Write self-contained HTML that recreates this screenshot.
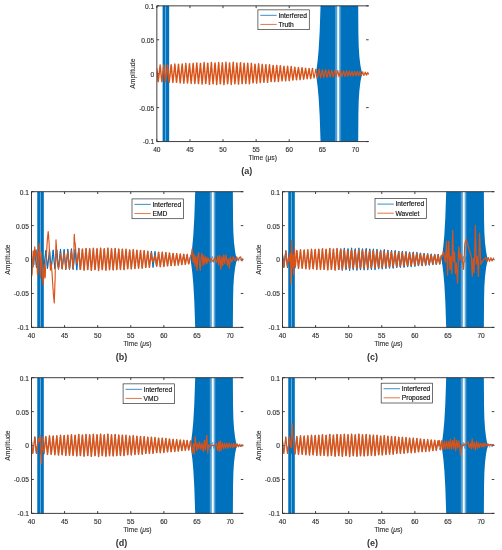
<!DOCTYPE html>
<html lang="en"><head><meta charset="utf-8"><title>Figure</title>
<style>html,body{margin:0;padding:0;background:#fff;}body{width:502px;height:550px;overflow:hidden;}svg{display:block;}text{font-family:"Liberation Sans",sans-serif;fill:#333333;}.tk{font-size:6.6px;stroke:#333;stroke-width:0.15px;}.lb{font-size:6.8px;stroke:#333;stroke-width:0.12px;}.lg{font-size:6.7px;fill:#111;stroke:#111;stroke-width:0.15px;}.cap{font-size:9px;font-weight:bold;fill:#333;}</style></head><body>
<svg width="502" height="550" viewBox="0 0 502 550">
<defs>
<clipPath id="cp"><rect x="0" y="0" width="211.8" height="135.7"/></clipPath>
<polyline id="truth" fill="none" stroke-linejoin="round" points="0.0,62.9 0.1,64.3 0.3,65.7 0.4,67.0 0.5,68.4 0.7,69.7 0.8,71.0 0.9,72.3 1.1,73.6 1.2,74.9 1.3,75.8 1.5,74.7 1.6,73.7 1.7,72.6 1.9,71.6 2.0,70.5 2.1,69.4 2.3,68.4 2.4,67.3 2.5,66.1 2.6,65.0 2.8,63.8 2.9,62.7 3.0,61.6 3.2,60.4 3.3,59.2 3.4,60.3 3.6,61.7 3.7,63.1 3.8,64.5 4.0,65.9 4.1,67.3 4.2,68.7 4.4,70.0 4.5,71.4 4.6,72.7 4.8,74.0 4.9,75.4 5.0,75.8 5.2,74.7 5.3,73.6 5.4,72.5 5.6,71.4 5.7,70.3 5.8,69.2 6.0,68.1 6.1,67.0 6.2,65.8 6.4,64.6 6.5,63.4 6.6,62.3 6.8,61.1 6.9,59.9 7.0,59.1 7.1,60.5 7.3,61.9 7.4,63.4 7.5,64.8 7.7,66.2 7.8,67.7 7.9,69.1 8.1,70.4 8.2,71.8 8.3,73.2 8.5,74.5 8.6,75.9 8.7,75.7 8.9,74.6 9.0,73.5 9.1,72.3 9.3,71.2 9.4,70.1 9.5,69.0 9.7,67.8 9.8,66.6 9.9,65.4 10.1,64.2 10.2,63.0 10.3,61.8 10.5,60.6 10.6,59.4 10.7,59.2 10.9,60.7 11.0,62.1 11.1,63.6 11.3,65.1 11.4,66.6 11.5,68.1 11.6,69.5 11.8,70.9 11.9,72.3 12.0,73.7 12.2,75.1 12.3,76.5 12.4,75.6 12.6,74.5 12.7,73.3 12.8,72.1 13.0,71.0 13.1,69.8 13.2,68.7 13.4,67.5 13.5,66.3 13.6,65.0 13.8,63.8 13.9,62.5 14.0,61.3 14.2,60.0 14.3,58.8 14.4,59.4 14.6,60.9 14.7,62.4 14.8,63.9 15.0,65.5 15.1,67.0 15.2,68.5 15.4,69.9 15.5,71.4 15.6,72.8 15.8,74.3 15.9,75.7 16.0,76.7 16.1,75.5 16.3,74.3 16.4,73.1 16.5,71.9 16.7,70.7 16.8,69.5 16.9,68.3 17.1,67.1 17.2,65.8 17.3,64.6 17.5,63.3 17.6,62.0 17.7,60.7 17.9,59.4 18.0,58.1 18.1,59.6 18.3,61.2 18.4,62.7 18.5,64.3 18.7,65.9 18.8,67.4 18.9,68.9 19.1,70.4 19.2,71.9 19.3,73.4 19.5,74.9 19.6,76.4 19.7,76.5 19.9,75.3 20.0,74.1 20.1,72.9 20.3,71.7 20.4,70.4 20.5,69.2 20.7,68.0 20.8,66.7 20.9,65.4 21.0,64.1 21.2,62.7 21.3,61.4 21.4,60.1 21.6,58.8 21.7,58.3 21.8,59.9 22.0,61.5 22.1,63.1 22.2,64.7 22.4,66.3 22.5,67.9 22.6,69.5 22.8,71.0 22.9,72.5 23.0,74.0 23.2,75.6 23.3,77.1 23.4,76.3 23.6,75.1 23.7,73.9 23.8,72.6 24.0,71.3 24.1,70.1 24.2,68.8 24.4,67.6 24.5,66.2 24.6,64.9 24.8,63.5 24.9,62.2 25.0,60.8 25.2,59.5 25.3,58.1 25.4,58.6 25.5,60.2 25.7,61.9 25.8,63.5 25.9,65.2 26.1,66.8 26.2,68.5 26.3,70.0 26.5,71.6 26.6,73.2 26.7,74.7 26.9,76.3 27.0,77.4 27.1,76.1 27.3,74.8 27.4,73.6 27.5,72.3 27.7,71.0 27.8,69.7 27.9,68.4 28.1,67.1 28.2,65.7 28.3,64.3 28.5,63.0 28.6,61.6 28.7,60.2 28.9,58.8 29.0,57.5 29.1,59.0 29.3,60.7 29.4,62.4 29.5,64.1 29.7,65.7 29.8,67.4 29.9,69.0 30.0,70.6 30.2,72.2 30.3,73.8 30.4,75.4 30.6,77.0 30.7,77.1 30.8,75.8 31.0,74.5 31.1,73.2 31.2,71.9 31.4,70.6 31.5,69.3 31.6,67.9 31.8,66.6 31.9,65.2 32.0,63.8 32.2,62.4 32.3,61.0 32.4,59.6 32.6,58.2 32.7,57.8 32.8,59.5 33.0,61.2 33.1,62.9 33.2,64.6 33.4,66.3 33.5,68.0 33.6,69.6 33.8,71.3 33.9,72.9 34.0,74.5 34.2,76.1 34.3,77.7 34.4,76.7 34.5,75.4 34.7,74.1 34.8,72.8 34.9,71.4 35.1,70.1 35.2,68.8 35.3,67.4 35.5,66.0 35.6,64.6 35.7,63.2 35.9,61.8 36.0,60.3 36.1,58.9 36.3,57.5 36.4,58.3 36.5,60.0 36.7,61.8 36.8,63.5 36.9,65.2 37.1,67.0 37.2,68.7 37.3,70.3 37.5,71.9 37.6,73.6 37.7,75.2 37.9,76.9 38.0,77.7 38.1,76.3 38.3,75.0 38.4,73.6 38.5,72.3 38.7,71.0 38.8,69.6 38.9,68.3 39.1,66.8 39.2,65.4 39.3,64.0 39.4,62.5 39.6,61.1 39.7,59.7 39.8,58.2 40.0,57.1 40.1,58.9 40.2,60.6 40.4,62.4 40.5,64.2 40.6,65.9 40.8,67.7 40.9,69.3 41.0,71.0 41.2,72.7 41.3,74.3 41.4,76.0 41.6,77.7 41.7,77.2 41.8,75.9 42.0,74.5 42.1,73.2 42.2,71.8 42.4,70.4 42.5,69.1 42.6,67.7 42.8,66.2 42.9,64.8 43.0,63.3 43.2,61.9 43.3,60.4 43.4,58.9 43.6,57.5 43.7,57.7 43.8,59.5 43.9,61.3 44.1,63.1 44.2,64.8 44.3,66.6 44.5,68.4 44.6,70.1 44.7,71.8 44.9,73.5 45.0,75.1 45.1,76.8 45.3,78.2 45.4,76.8 45.5,75.4 45.7,74.0 45.8,72.7 45.9,71.3 46.1,69.9 46.2,68.5 46.3,67.1 46.5,65.6 46.6,64.1 46.7,62.6 46.9,61.1 47.0,59.7 47.1,58.2 47.3,56.7 47.4,58.4 47.5,60.2 47.7,62.0 47.8,63.8 47.9,65.6 48.1,67.4 48.2,69.1 48.3,70.8 48.4,72.6 48.6,74.3 48.7,76.0 48.8,77.7 49.0,77.7 49.1,76.3 49.2,74.9 49.4,73.5 49.5,72.1 49.6,70.7 49.8,69.3 49.9,67.9 50.0,66.4 50.2,64.9 50.3,63.4 50.4,61.9 50.6,60.4 50.7,58.9 50.8,57.5 51.0,57.3 51.1,59.1 51.2,60.9 51.4,62.8 51.5,64.6 51.6,66.4 51.8,68.2 51.9,69.9 52.0,71.6 52.2,73.4 52.3,75.1 52.4,76.8 52.6,78.5 52.7,77.1 52.8,75.7 53.0,74.3 53.1,72.9 53.2,71.5 53.3,70.0 53.5,68.6 53.6,67.2 53.7,65.7 53.9,64.2 54.0,62.7 54.1,61.2 54.3,59.7 54.4,58.2 54.5,56.7 54.7,58.1 54.8,59.9 54.9,61.8 55.1,63.6 55.2,65.4 55.3,67.3 55.5,69.0 55.6,70.8 55.7,72.5 55.9,74.2 56.0,76.0 56.1,77.7 56.3,77.9 56.4,76.5 56.5,75.1 56.7,73.6 56.8,72.2 56.9,70.8 57.1,69.4 57.2,68.0 57.3,66.5 57.5,65.0 57.6,63.4 57.7,61.9 57.8,60.4 58.0,58.9 58.1,57.4 58.2,57.1 58.4,58.9 58.5,60.8 58.6,62.6 58.8,64.5 58.9,66.3 59.0,68.1 59.2,69.9 59.3,71.6 59.4,73.4 59.6,75.1 59.7,76.9 59.8,78.6 60.0,77.3 60.1,75.8 60.2,74.4 60.4,73.0 60.5,71.5 60.6,70.1 60.8,68.7 60.9,67.2 61.0,65.7 61.2,64.2 61.3,62.7 61.4,61.1 61.6,59.6 61.7,58.1 61.8,56.6 62.0,57.9 62.1,59.8 62.2,61.6 62.3,63.5 62.5,65.4 62.6,67.2 62.7,69.0 62.9,70.8 63.0,72.5 63.1,74.3 63.3,76.1 63.4,77.8 63.5,78.0 63.7,76.6 63.8,75.2 63.9,73.7 64.1,72.3 64.2,70.8 64.3,69.4 64.5,68.0 64.6,66.4 64.7,64.9 64.9,63.4 65.0,61.8 65.1,60.3 65.3,58.8 65.4,57.2 65.5,57.0 65.7,58.8 65.8,60.7 65.9,62.6 66.1,64.5 66.2,66.3 66.3,68.2 66.5,70.0 66.6,71.7 66.7,73.5 66.8,75.3 67.0,77.0 67.1,78.8 67.2,77.3 67.4,75.9 67.5,74.4 67.6,73.0 67.8,71.5 67.9,70.1 68.0,68.6 68.2,67.2 68.3,65.6 68.4,64.1 68.6,62.6 68.7,61.0 68.8,59.5 69.0,58.0 69.1,56.4 69.2,58.0 69.4,59.8 69.5,61.7 69.6,63.6 69.8,65.5 69.9,67.3 70.0,69.1 70.2,70.9 70.3,72.6 70.4,74.4 70.6,76.2 70.7,77.9 70.8,77.9 71.0,76.5 71.1,75.1 71.2,73.6 71.4,72.2 71.5,70.7 71.6,69.3 71.7,67.9 71.9,66.3 72.0,64.8 72.1,63.3 72.3,61.8 72.4,60.2 72.5,58.7 72.7,57.2 72.8,57.1 72.9,59.0 73.1,60.9 73.2,62.7 73.3,64.6 73.5,66.5 73.6,68.3 73.7,70.1 73.9,71.8 74.0,73.6 74.1,75.3 74.3,77.1 74.4,78.6 74.5,77.1 74.7,75.7 74.8,74.3 74.9,72.8 75.1,71.4 75.2,70.0 75.3,68.5 75.5,67.0 75.6,65.5 75.7,64.0 75.9,62.5 76.0,60.9 76.1,59.4 76.2,57.9 76.4,56.4 76.5,58.2 76.6,60.1 76.8,61.9 76.9,63.8 77.0,65.6 77.2,67.5 77.3,69.3 77.4,71.0 77.6,72.8 77.7,74.5 77.8,76.3 78.0,78.0 78.1,77.7 78.2,76.3 78.4,74.9 78.5,73.5 78.6,72.0 78.8,70.6 78.9,69.2 79.0,67.7 79.2,66.2 79.3,64.7 79.4,63.2 79.6,61.6 79.7,60.1 79.8,58.6 80.0,57.1 80.1,57.4 80.2,59.3 80.4,61.1 80.5,63.0 80.6,64.8 80.7,66.7 80.9,68.5 81.0,70.2 81.1,72.0 81.3,73.7 81.4,75.4 81.5,77.1 81.7,78.3 81.8,76.8 81.9,75.4 82.1,74.0 82.2,72.6 82.3,71.2 82.5,69.8 82.6,68.3 82.7,66.9 82.9,65.4 83.0,63.9 83.1,62.4 83.3,60.9 83.4,59.4 83.5,57.9 83.7,56.8 83.8,58.6 83.9,60.5 84.1,62.3 84.2,64.1 84.3,65.9 84.5,67.7 84.6,69.4 84.7,71.1 84.9,72.8 85.0,74.5 85.1,76.2 85.2,77.9 85.4,77.3 85.5,75.9 85.6,74.5 85.8,73.1 85.9,71.7 86.0,70.3 86.2,68.9 86.3,67.5 86.4,66.1 86.6,64.6 86.7,63.1 86.8,61.7 87.0,60.2 87.1,58.7 87.2,57.3 87.4,58.0 87.5,59.8 87.6,61.6 87.8,63.4 87.9,65.2 88.0,67.0 88.2,68.7 88.3,70.4 88.4,72.0 88.6,73.7 88.7,75.4 88.8,77.1 89.0,77.7 89.1,76.3 89.2,75.0 89.4,73.6 89.5,72.2 89.6,70.9 89.8,69.5 89.9,68.1 90.0,66.7 90.1,65.3 90.3,63.8 90.4,62.4 90.5,60.9 90.7,59.5 90.8,58.1 90.9,57.4 91.1,59.2 91.2,61.0 91.3,62.7 91.5,64.5 91.6,66.2 91.7,68.0 91.9,69.6 92.0,71.3 92.1,72.9 92.3,74.6 92.4,76.2 92.5,77.9 92.7,76.8 92.8,75.4 92.9,74.0 93.1,72.7 93.2,71.4 93.3,70.0 93.5,68.7 93.6,67.3 93.7,65.9 93.9,64.5 94.0,63.1 94.1,61.7 94.3,60.3 94.4,58.9 94.5,57.5 94.6,58.7 94.8,60.4 94.9,62.1 95.0,63.9 95.2,65.6 95.3,67.3 95.4,68.9 95.6,70.5 95.7,72.1 95.8,73.8 96.0,75.3 96.1,76.9 96.2,77.1 96.4,75.7 96.5,74.4 96.6,73.1 96.8,71.8 96.9,70.5 97.0,69.2 97.2,67.9 97.3,66.5 97.4,65.1 97.6,63.8 97.7,62.4 97.8,61.0 98.0,59.7 98.1,58.3 98.2,58.3 98.4,59.9 98.5,61.6 98.6,63.3 98.8,65.0 98.9,66.6 99.0,68.3 99.1,69.8 99.3,71.4 99.4,73.0 99.5,74.5 99.7,76.1 99.8,77.3 99.9,76.0 100.1,74.7 100.2,73.5 100.3,72.2 100.5,70.9 100.6,69.7 100.7,68.4 100.9,67.1 101.0,65.7 101.1,64.4 101.3,63.1 101.4,61.7 101.5,60.4 101.7,59.1 101.8,57.9 101.9,59.5 102.1,61.2 102.2,62.8 102.3,64.4 102.5,66.0 102.6,67.7 102.7,69.2 102.9,70.7 103.0,72.2 103.1,73.7 103.3,75.3 103.4,76.8 103.5,76.3 103.6,75.0 103.8,73.8 103.9,72.6 104.0,71.3 104.2,70.1 104.3,68.9 104.4,67.6 104.6,66.3 104.7,65.0 104.8,63.7 105.0,62.4 105.1,61.1 105.2,59.8 105.4,58.5 105.5,59.1 105.6,60.7 105.8,62.3 105.9,63.9 106.0,65.5 106.2,67.1 106.3,68.6 106.4,70.1 106.6,71.5 106.7,73.0 106.8,74.5 107.0,75.9 107.1,76.5 107.2,75.3 107.4,74.1 107.5,72.9 107.6,71.7 107.8,70.5 107.9,69.3 108.0,68.1 108.2,66.8 108.3,65.6 108.4,64.3 108.5,63.1 108.7,61.8 108.8,60.6 108.9,59.3 109.1,58.8 109.2,60.4 109.3,61.9 109.5,63.5 109.6,65.0 109.7,66.5 109.9,68.0 110.0,69.4 110.1,70.9 110.3,72.3 110.4,73.7 110.5,75.1 110.7,76.5 110.8,75.5 110.9,74.3 111.1,73.1 111.2,72.0 111.3,70.8 111.5,69.7 111.6,68.5 111.7,67.3 111.9,66.1 112.0,64.9 112.1,63.7 112.3,62.5 112.4,61.3 112.5,60.1 112.7,58.9 112.8,60.1 112.9,61.6 113.0,63.1 113.2,64.5 113.3,66.0 113.4,67.5 113.6,68.9 113.7,70.3 113.8,71.6 114.0,73.0 114.1,74.4 114.2,75.7 114.4,75.6 114.5,74.5 114.6,73.4 114.8,72.2 114.9,71.1 115.0,70.0 115.2,68.9 115.3,67.8 115.4,66.6 115.6,65.4 115.7,64.2 115.8,63.1 116.0,61.9 116.1,60.8 116.2,59.6 116.4,59.8 116.5,61.3 116.6,62.7 116.8,64.1 116.9,65.6 117.0,67.0 117.2,68.4 117.3,69.7 117.4,71.0 117.5,72.3 117.7,73.7 117.8,75.0 117.9,75.7 118.1,74.6 118.2,73.6 118.3,72.5 118.5,71.4 118.6,70.3 118.7,69.2 118.9,68.2 119.0,67.0 119.1,65.9 119.3,64.8 119.4,63.7 119.5,62.5 119.7,61.4 119.8,60.3 119.9,59.6 120.1,61.0 120.2,62.4 120.3,63.8 120.5,65.2 120.6,66.5 120.7,67.9 120.9,69.2 121.0,70.5 121.1,71.7 121.3,73.0 121.4,74.3 121.5,75.6 121.7,74.8 121.8,73.7 121.9,72.7 122.0,71.6 122.2,70.6 122.3,69.6 122.4,68.5 122.6,67.5 122.7,66.4 122.8,65.3 123.0,64.2 123.1,63.1 123.2,62.0 123.4,60.9 123.5,59.8 123.6,60.8 123.8,62.1 123.9,63.5 124.0,64.8 124.2,66.1 124.3,67.4 124.4,68.7 124.6,70.0 124.7,71.2 124.8,72.4 125.0,73.7 125.1,74.9 125.2,74.9 125.4,73.9 125.5,72.9 125.6,71.9 125.8,70.9 125.9,69.8 126.0,68.8 126.2,67.8 126.3,66.8 126.4,65.7 126.6,64.6 126.7,63.6 126.8,62.5 126.9,61.5 127.1,60.4 127.2,60.6 127.3,61.9 127.5,63.2 127.6,64.4 127.7,65.7 127.9,67.0 128.0,68.3 128.1,69.5 128.3,70.7 128.4,71.9 128.5,73.1 128.7,74.3 128.8,75.0 128.9,74.0 129.1,73.0 129.2,72.1 129.3,71.1 129.5,70.1 129.6,69.1 129.7,68.2 129.9,67.1 130.0,66.1 130.1,65.1 130.3,64.1 130.4,63.1 130.5,62.0 130.7,61.0 130.8,60.4 130.9,61.7 131.1,62.9 131.2,64.2 131.3,65.4 131.4,66.6 131.6,67.9 131.7,69.0 131.8,70.2 132.0,71.4 132.1,72.5 132.2,73.7 132.4,74.8 132.5,74.1 132.6,73.2 132.8,72.2 132.9,71.3 133.0,70.3 133.2,69.4 133.3,68.4 133.4,67.5 133.6,66.5 133.7,65.5 133.8,64.5 134.0,63.6 134.1,62.6 134.2,61.6 134.4,60.7 134.5,61.5 134.6,62.7 134.8,63.9 134.9,65.1 135.0,66.3 135.2,67.5 135.3,68.6 135.4,69.8 135.6,70.9 135.7,72.0 135.8,73.0 135.9,74.1 136.1,74.1 136.2,73.2 136.3,72.3 136.5,71.4 136.6,70.5 136.7,69.6 136.9,68.7 137.0,67.8 137.1,66.8 137.3,65.9 137.4,65.0 137.5,64.0 137.7,63.1 137.8,62.2 137.9,61.3 138.1,61.6 138.2,62.7 138.3,63.8 138.5,65.0 138.6,66.1 138.7,67.2 138.9,68.3 139.0,69.4 139.1,70.4 139.3,71.5 139.4,72.5 139.5,73.5 139.7,74.0 139.8,73.1 139.9,72.2 140.1,71.4 140.2,70.5 140.3,69.7 140.4,68.8 140.6,68.0 140.7,67.1 140.8,66.2 141.0,65.4 141.1,64.5 141.2,63.6 141.4,62.7 141.5,61.9 141.6,61.7 141.8,62.7 141.9,63.8 142.0,64.9 142.2,66.0 142.3,67.0 142.4,68.1 142.6,69.1 142.7,70.0 142.8,71.0 143.0,72.0 143.1,73.0 143.2,73.8 143.4,72.9 143.5,72.1 143.6,71.3 143.8,70.5 143.9,69.7 144.0,68.9 144.2,68.2 144.3,67.3 144.4,66.5 144.6,65.7 144.7,64.9 144.8,64.0 145.0,63.2 145.1,62.4 145.2,61.9 145.3,62.9 145.5,63.9 145.6,64.9 145.7,65.9 145.9,66.9 146.0,67.9 146.1,68.8 146.3,69.7 146.4,70.7 146.5,71.6 146.7,72.5 146.8,73.4 146.9,72.7 147.1,72.0 147.2,71.2 147.3,70.4 147.5,69.7 147.6,68.9 147.7,68.2 147.9,67.4 148.0,66.6 148.1,65.8 148.3,65.1 148.4,64.3 148.5,63.5 148.7,62.7 148.8,62.3 148.9,63.3 149.1,64.2 149.2,65.2 149.3,66.2 149.5,67.1 149.6,68.0 149.7,68.9 149.8,69.8 150.0,70.7 150.1,71.6 150.2,72.5 150.4,72.9 150.5,72.2 150.6,71.4 150.8,70.7 150.9,70.0 151.0,69.3 151.2,68.5 151.3,67.8 151.4,67.1 151.6,66.3 151.7,65.6 151.8,64.8 152.0,64.1 152.1,63.3 152.2,62.6 152.4,63.2 152.5,64.2 152.6,65.1 152.8,66.0 152.9,66.9 153.0,67.8 153.2,68.7 153.3,69.5 153.4,70.4 153.6,71.2 153.7,72.1 153.8,72.7 154.0,72.0 154.1,71.3 154.2,70.6 154.3,69.9 154.5,69.2 154.6,68.5 154.7,67.8 154.9,67.1 155.0,66.3 155.1,65.6 155.3,64.9 155.4,64.2 155.5,63.4 155.7,62.7 155.8,63.6 155.9,64.5 156.1,65.4 156.2,66.3 156.3,67.2 156.5,68.1 156.6,68.9 156.7,69.7 156.9,70.6 157.0,71.4 157.1,72.2 157.3,72.2 157.4,71.5 157.5,70.8 157.7,70.1 157.8,69.5 157.9,68.8 158.1,68.1 158.2,67.4 158.3,66.7 158.5,66.0 158.6,65.3 158.7,64.6 158.9,63.9 159.0,63.2 159.1,63.6 159.2,64.4 159.4,65.3 159.5,66.2 159.6,67.0 159.8,67.9 159.9,68.7 160.0,69.5 160.2,70.3 160.3,71.1 160.4,71.9 160.6,72.1 160.7,71.4 160.8,70.7 161.0,70.1 161.1,69.4 161.2,68.8 161.4,68.1 161.5,67.4 161.6,66.7 161.8,66.0 161.9,65.3 162.0,64.7 162.2,64.0 162.3,63.3 162.4,63.9 162.6,64.7 162.7,65.6 162.8,66.4 163.0,67.3 163.1,68.1 163.2,68.9 163.4,69.7 163.5,70.5 163.6,71.2 163.7,72.0 163.9,71.6 164.0,71.0 164.1,70.3 164.3,69.7 164.4,69.1 164.5,68.4 164.7,67.8 164.8,67.1 164.9,66.4 165.1,65.7 165.2,65.1 165.3,64.4 165.5,63.7 165.6,63.8 165.7,64.6 165.9,65.4 166.0,66.2 166.1,67.1 166.3,67.9 166.4,68.6 166.5,69.4 166.7,70.2 166.8,70.9 166.9,71.7 167.1,71.6 167.2,70.9 167.3,70.3 167.5,69.7 167.6,69.1 167.7,68.4 167.9,67.8 168.0,67.2 168.1,66.5 168.2,65.9 168.4,65.2 168.5,64.6 168.6,63.9 168.8,64.0 168.9,64.8 169.0,65.6 169.2,66.4 169.3,67.2 169.4,68.0 169.6,68.7 169.7,69.4 169.8,70.2 170.0,70.9 170.1,71.6 170.2,71.2 170.4,70.6 170.5,70.0 170.6,69.4 170.8,68.8 170.9,68.2 171.0,67.6 171.2,67.0 171.3,66.4 171.4,65.7 171.6,65.1 171.7,64.5 171.8,63.9 172.0,64.6 172.1,65.3 172.2,66.1 172.4,66.9 172.5,67.6 172.6,68.3 172.7,69.1 172.9,69.8 173.0,70.5 173.1,71.2 173.3,71.2 173.4,70.7 173.5,70.1 173.7,69.5 173.8,68.9 173.9,68.4 174.1,67.8 174.2,67.2 174.3,66.6 174.5,66.0 174.6,65.4 174.7,64.8 174.9,64.2 175.0,64.6 175.1,65.4 175.3,66.1 175.4,66.8 175.5,67.6 175.7,68.3 175.8,69.0 175.9,69.6 176.1,70.3 176.2,71.0 176.3,71.1 176.5,70.5 176.6,69.9 176.7,69.4 176.9,68.8 177.0,68.3 177.1,67.7 177.3,67.1 177.4,66.6 177.5,66.0 177.6,65.4 177.8,64.8 177.9,64.3 178.0,65.0 178.2,65.7 178.3,66.4 178.4,67.1 178.6,67.8 178.7,68.4 178.8,69.1 179.0,69.7 179.1,70.4 179.2,71.0 179.4,70.7 179.5,70.1 179.6,69.6 179.8,69.1 179.9,68.5 180.0,68.0 180.2,67.5 180.3,66.9 180.4,66.4 180.6,65.8 180.7,65.3 180.8,64.7 181.0,64.9 181.1,65.5 181.2,66.2 181.4,66.9 181.5,67.5 181.6,68.2 181.8,68.8 181.9,69.4 182.0,70.0 182.1,70.7 182.3,70.6 182.4,70.1 182.5,69.6 182.7,69.1 182.8,68.6 182.9,68.1 183.1,67.6 183.2,67.1 183.3,66.5 183.5,66.0 183.6,65.5 183.7,64.9 183.9,64.9 184.0,65.6 184.1,66.2 184.3,66.9 184.4,67.5 184.5,68.2 184.7,68.8 184.8,69.4 184.9,70.0 185.1,70.6 185.2,70.5 185.3,70.0 185.5,69.5 185.6,69.0 185.7,68.5 185.9,68.0 186.0,67.5 186.1,67.0 186.3,66.5 186.4,66.0 186.5,65.5 186.6,65.0 186.8,65.2 186.9,65.8 187.0,66.5 187.2,67.1 187.3,67.7 187.4,68.3 187.6,68.9 187.7,69.5 187.8,70.1 188.0,70.6 188.1,70.2 188.2,69.7 188.4,69.2 188.5,68.8 188.6,68.3 188.8,67.8 188.9,67.3 189.0,66.8 189.2,66.3 189.3,65.8 189.4,65.3 189.6,65.0 189.7,65.7 189.8,66.3 190.0,66.9 190.1,67.5 190.2,68.1 190.4,68.6 190.5,69.2 190.6,69.8 190.8,70.3 190.9,70.2 191.0,69.8 191.1,69.3 191.3,68.9 191.4,68.4 191.5,67.9 191.7,67.5 191.8,67.0 191.9,66.5 192.1,66.0 192.2,65.5 192.3,65.1 192.5,65.7 192.6,66.3 192.7,66.8 192.9,67.4 193.0,68.0 193.1,68.5 193.3,69.1 193.4,69.6 193.5,70.2 193.7,70.2 193.8,69.7 193.9,69.3 194.1,68.8 194.2,68.4 194.3,67.9 194.5,67.5 194.6,67.0 194.7,66.5 194.9,66.1 195.0,65.6 195.1,65.3 195.3,65.8 195.4,66.4 195.5,67.0 195.7,67.5 195.8,68.1 195.9,68.6 196.0,69.1 196.2,69.6 196.3,70.2 196.4,69.9 196.6,69.5 196.7,69.1 196.8,68.6 197.0,68.2 197.1,67.8 197.2,67.3 197.4,66.9 197.5,66.5 197.6,66.0 197.8,65.6 197.9,65.6 198.0,66.2 198.2,66.7 198.3,67.2 198.4,67.8 198.6,68.3 198.7,68.8 198.8,69.3 199.0,69.8 199.1,70.0 199.2,69.6 199.4,69.2 199.5,68.8 199.6,68.4 199.8,68.0 199.9,67.6 200.0,67.1 200.2,66.7 200.3,66.3 200.4,65.9 200.5,65.5 200.7,66.1 200.8,66.6 200.9,67.1 201.1,67.6 201.2,68.1 201.3,68.6 201.5,69.1 201.6,69.6 201.7,70.0 201.9,69.6 202.0,69.2 202.1,68.8 202.3,68.4 202.4,68.0 202.5,67.6 202.7,67.2 202.8,66.8 202.9,66.4 203.1,66.0 203.2,65.6 203.3,66.1 203.5,66.6 203.6,67.1 203.7,67.6 203.9,68.1 204.0,68.5 204.1,69.0 204.3,69.4 204.4,69.8 204.5,69.5 204.7,69.1 204.8,68.7 204.9,68.4 205.0,68.0 205.2,67.6 205.3,67.3 205.4,66.9 205.6,66.5 205.7,66.2 205.8,65.9 206.0,66.4 206.1,66.8 206.2,67.3 206.4,67.7 206.5,68.1 206.6,68.6 206.8,69.0 206.9,69.4 207.0,69.6 207.2,69.2 207.3,68.9 207.4,68.6 207.6,68.2 207.7,67.9 207.8,67.6 208.0,67.2 208.1,66.9 208.2,66.5 208.4,66.2 208.5,66.2 208.6,66.7 208.8,67.1 208.9,67.5 209.0,67.9 209.2,68.3 209.3,68.6 209.4,69.0 209.5,69.3 209.7,69.2 209.8,68.9 209.9,68.6 210.1,68.3 210.2,68.0 210.3,67.7 210.5,67.4 210.6,67.2 210.7,66.9 210.9,66.6 211.0,66.4 211.1,66.7 211.3,67.1 211.4,67.4 211.5,67.8 211.7,68.1 211.8,68.4"/>
<g id="interf">
<rect x="5.76" y="-2" width="6.55" height="139.7" fill="#0072BD"/>
<rect x="8.45" y="-2" width="0.75" height="139.7" fill="#fff" opacity="0.55"/>
<polygon points="159.05,67.85 159.84,62.42 160.84,54.28 161.83,43.42 162.82,25.78 163.81,-3.39 201.34,-3.39 201.54,27.14 201.87,40.71 202.53,50.89 203.59,59.71 204.52,64.46 205.58,67.85 205.58,67.85 204.52,71.24 203.59,75.99 202.53,84.81 201.87,94.99 201.54,108.56 201.34,139.09 163.81,139.09 162.82,109.92 161.83,92.28 160.84,81.42 159.84,73.28 159.05,67.85" fill="#0072BD"/>
<rect x="177.99" y="-2" width="6.4" height="139.7" fill="#fff" opacity="0.14"/>
<rect x="178.59" y="-2" width="0.7" height="139.7" fill="#fff" opacity="0.3"/>
<rect x="182.89" y="-2" width="0.6" height="139.7" fill="#fff" opacity="0.3"/>
<rect x="179.79" y="-2" width="3.0" height="139.7" fill="#fff" opacity="0.5"/>
<rect x="180.54" y="-2" width="1.5" height="139.7" fill="#fff"/>
</g>
<g id="frame" fill="none" stroke="#2a2a2a" stroke-width="0.9">
<path d="M0,135.70 V0 H211.80"/>
<path d="M0,135.70 H211.80"/>
</g>
<path id="ticks" fill="none" stroke="#2a2a2a" stroke-width="0.9" d="M0.00,135.70 v-2.3 M0.00,0 v2.3 M33.09,135.70 v-2.3 M33.09,0 v2.3 M66.19,135.70 v-2.3 M66.19,0 v2.3 M99.28,135.70 v-2.3 M99.28,0 v2.3 M132.38,135.70 v-2.3 M132.38,0 v2.3 M165.47,135.70 v-2.3 M165.47,0 v2.3 M198.56,135.70 v-2.3 M198.56,0 v2.3 M0,135.70 h2.3 M211.80,135.70 h-2.5 M0,101.77 h2.3 M211.80,101.77 h-2.5 M0,67.85 h2.3 M211.80,67.85 h-2.5 M0,33.92 h2.3 M211.80,33.92 h-2.5 M0,0.00 h2.3 M211.80,0.00 h-2.5"/>
</defs>
<g transform="translate(156.85,5.85)">
<use href="#ticks"/>
<g clip-path="url(#cp)">
<use href="#interf"/>
<polyline fill="none" stroke="#D95319" stroke-width="1.45" stroke-linejoin="round" stroke-linecap="round" points="0.0,62.9 0.1,64.3 0.3,65.7 0.4,67.0 0.5,68.4 0.7,69.7 0.8,71.0 0.9,72.3 1.1,73.6 1.2,74.9 1.3,75.8 1.5,74.7 1.6,73.7 1.7,72.6 1.9,71.6 2.0,70.5 2.1,69.4 2.3,68.4 2.4,67.3 2.5,66.1 2.6,65.0 2.8,63.8 2.9,62.7 3.0,61.6 3.2,60.4 3.3,59.2 3.4,60.3 3.6,61.7 3.7,63.1 3.8,64.5 4.0,65.9 4.1,67.3 4.2,68.7 4.4,70.0 4.5,71.4 4.6,72.7 4.8,74.0 4.9,75.4 5.0,75.8 5.2,74.7 5.3,73.6 5.4,72.5 5.6,71.4 5.7,70.3 5.8,69.2 6.0,68.1 6.1,67.0 6.2,65.8 6.4,64.6 6.5,63.4 6.6,62.3 6.8,61.1 6.9,59.9 7.0,59.1 7.1,60.5 7.3,61.9 7.4,63.4 7.5,64.8 7.7,66.2 7.8,67.7 7.9,69.1 8.1,70.4 8.2,71.8 8.3,73.2 8.5,74.5 8.6,75.9 8.7,75.7 8.9,74.6 9.0,73.5 9.1,72.3 9.3,71.2 9.4,70.1 9.5,69.0 9.7,67.8 9.8,66.6 9.9,65.4 10.1,64.2 10.2,63.0 10.3,61.8 10.5,60.6 10.6,59.4 10.7,59.2 10.9,60.7 11.0,62.1 11.1,63.6 11.3,65.1 11.4,66.6 11.5,68.1 11.6,69.5 11.8,70.9 11.9,72.3 12.0,73.7 12.2,75.1 12.3,76.5 12.4,75.6 12.6,74.5 12.7,73.3 12.8,72.1 13.0,71.0 13.1,69.8 13.2,68.7 13.4,67.5 13.5,66.3 13.6,65.0 13.8,63.8 13.9,62.5 14.0,61.3 14.2,60.0 14.3,58.8 14.4,59.4 14.6,60.9 14.7,62.4 14.8,63.9 15.0,65.5 15.1,67.0 15.2,68.5 15.4,69.9 15.5,71.4 15.6,72.8 15.8,74.3 15.9,75.7 16.0,76.7 16.1,75.5 16.3,74.3 16.4,73.1 16.5,71.9 16.7,70.7 16.8,69.5 16.9,68.3 17.1,67.1 17.2,65.8 17.3,64.6 17.5,63.3 17.6,62.0 17.7,60.7 17.9,59.4 18.0,58.1 18.1,59.6 18.3,61.2 18.4,62.7 18.5,64.3 18.7,65.9 18.8,67.4 18.9,68.9 19.1,70.4 19.2,71.9 19.3,73.4 19.5,74.9 19.6,76.4 19.7,76.5 19.9,75.3 20.0,74.1 20.1,72.9 20.3,71.7 20.4,70.4 20.5,69.2 20.7,68.0 20.8,66.7 20.9,65.4 21.0,64.1 21.2,62.7 21.3,61.4 21.4,60.1 21.6,58.8 21.7,58.3 21.8,59.9 22.0,61.5 22.1,63.1 22.2,64.7 22.4,66.3 22.5,67.9 22.6,69.5 22.8,71.0 22.9,72.5 23.0,74.0 23.2,75.6 23.3,77.1 23.4,76.3 23.6,75.1 23.7,73.9 23.8,72.6 24.0,71.3 24.1,70.1 24.2,68.8 24.4,67.6 24.5,66.2 24.6,64.9 24.8,63.5 24.9,62.2 25.0,60.8 25.2,59.5 25.3,58.1 25.4,58.6 25.5,60.2 25.7,61.9 25.8,63.5 25.9,65.2 26.1,66.8 26.2,68.5 26.3,70.0 26.5,71.6 26.6,73.2 26.7,74.7 26.9,76.3 27.0,77.4 27.1,76.1 27.3,74.8 27.4,73.6 27.5,72.3 27.7,71.0 27.8,69.7 27.9,68.4 28.1,67.1 28.2,65.7 28.3,64.3 28.5,63.0 28.6,61.6 28.7,60.2 28.9,58.8 29.0,57.5 29.1,59.0 29.3,60.7 29.4,62.4 29.5,64.1 29.7,65.7 29.8,67.4 29.9,69.0 30.0,70.6 30.2,72.2 30.3,73.8 30.4,75.4 30.6,77.0 30.7,77.1 30.8,75.8 31.0,74.5 31.1,73.2 31.2,71.9 31.4,70.6 31.5,69.3 31.6,67.9 31.8,66.6 31.9,65.2 32.0,63.8 32.2,62.4 32.3,61.0 32.4,59.6 32.6,58.2 32.7,57.8 32.8,59.5 33.0,61.2 33.1,62.9 33.2,64.6 33.4,66.3 33.5,68.0 33.6,69.6 33.8,71.3 33.9,72.9 34.0,74.5 34.2,76.1 34.3,77.7 34.4,76.7 34.5,75.4 34.7,74.1 34.8,72.8 34.9,71.4 35.1,70.1 35.2,68.8 35.3,67.4 35.5,66.0 35.6,64.6 35.7,63.2 35.9,61.8 36.0,60.3 36.1,58.9 36.3,57.5 36.4,58.3 36.5,60.0 36.7,61.8 36.8,63.5 36.9,65.2 37.1,67.0 37.2,68.7 37.3,70.3 37.5,71.9 37.6,73.6 37.7,75.2 37.9,76.9 38.0,77.7 38.1,76.3 38.3,75.0 38.4,73.6 38.5,72.3 38.7,71.0 38.8,69.6 38.9,68.3 39.1,66.8 39.2,65.4 39.3,64.0 39.4,62.5 39.6,61.1 39.7,59.7 39.8,58.2 40.0,57.1 40.1,58.9 40.2,60.6 40.4,62.4 40.5,64.2 40.6,65.9 40.8,67.7 40.9,69.3 41.0,71.0 41.2,72.7 41.3,74.3 41.4,76.0 41.6,77.7 41.7,77.2 41.8,75.9 42.0,74.5 42.1,73.2 42.2,71.8 42.4,70.4 42.5,69.1 42.6,67.7 42.8,66.2 42.9,64.8 43.0,63.3 43.2,61.9 43.3,60.4 43.4,58.9 43.6,57.5 43.7,57.7 43.8,59.5 43.9,61.3 44.1,63.1 44.2,64.8 44.3,66.6 44.5,68.4 44.6,70.1 44.7,71.8 44.9,73.5 45.0,75.1 45.1,76.8 45.3,78.2 45.4,76.8 45.5,75.4 45.7,74.0 45.8,72.7 45.9,71.3 46.1,69.9 46.2,68.5 46.3,67.1 46.5,65.6 46.6,64.1 46.7,62.6 46.9,61.1 47.0,59.7 47.1,58.2 47.3,56.7 47.4,58.4 47.5,60.2 47.7,62.0 47.8,63.8 47.9,65.6 48.1,67.4 48.2,69.1 48.3,70.8 48.4,72.6 48.6,74.3 48.7,76.0 48.8,77.7 49.0,77.7 49.1,76.3 49.2,74.9 49.4,73.5 49.5,72.1 49.6,70.7 49.8,69.3 49.9,67.9 50.0,66.4 50.2,64.9 50.3,63.4 50.4,61.9 50.6,60.4 50.7,58.9 50.8,57.5 51.0,57.3 51.1,59.1 51.2,60.9 51.4,62.8 51.5,64.6 51.6,66.4 51.8,68.2 51.9,69.9 52.0,71.6 52.2,73.4 52.3,75.1 52.4,76.8 52.6,78.5 52.7,77.1 52.8,75.7 53.0,74.3 53.1,72.9 53.2,71.5 53.3,70.0 53.5,68.6 53.6,67.2 53.7,65.7 53.9,64.2 54.0,62.7 54.1,61.2 54.3,59.7 54.4,58.2 54.5,56.7 54.7,58.1 54.8,59.9 54.9,61.8 55.1,63.6 55.2,65.4 55.3,67.3 55.5,69.0 55.6,70.8 55.7,72.5 55.9,74.2 56.0,76.0 56.1,77.7 56.3,77.9 56.4,76.5 56.5,75.1 56.7,73.6 56.8,72.2 56.9,70.8 57.1,69.4 57.2,68.0 57.3,66.5 57.5,65.0 57.6,63.4 57.7,61.9 57.8,60.4 58.0,58.9 58.1,57.4 58.2,57.1 58.4,58.9 58.5,60.8 58.6,62.6 58.8,64.5 58.9,66.3 59.0,68.1 59.2,69.9 59.3,71.6 59.4,73.4 59.6,75.1 59.7,76.9 59.8,78.6 60.0,77.3 60.1,75.8 60.2,74.4 60.4,73.0 60.5,71.5 60.6,70.1 60.8,68.7 60.9,67.2 61.0,65.7 61.2,64.2 61.3,62.7 61.4,61.1 61.6,59.6 61.7,58.1 61.8,56.6 62.0,57.9 62.1,59.8 62.2,61.6 62.3,63.5 62.5,65.4 62.6,67.2 62.7,69.0 62.9,70.8 63.0,72.5 63.1,74.3 63.3,76.1 63.4,77.8 63.5,78.0 63.7,76.6 63.8,75.2 63.9,73.7 64.1,72.3 64.2,70.8 64.3,69.4 64.5,68.0 64.6,66.4 64.7,64.9 64.9,63.4 65.0,61.8 65.1,60.3 65.3,58.8 65.4,57.2 65.5,57.0 65.7,58.8 65.8,60.7 65.9,62.6 66.1,64.5 66.2,66.3 66.3,68.2 66.5,70.0 66.6,71.7 66.7,73.5 66.8,75.3 67.0,77.0 67.1,78.8 67.2,77.3 67.4,75.9 67.5,74.4 67.6,73.0 67.8,71.5 67.9,70.1 68.0,68.6 68.2,67.2 68.3,65.6 68.4,64.1 68.6,62.6 68.7,61.0 68.8,59.5 69.0,58.0 69.1,56.4 69.2,58.0 69.4,59.8 69.5,61.7 69.6,63.6 69.8,65.5 69.9,67.3 70.0,69.1 70.2,70.9 70.3,72.6 70.4,74.4 70.6,76.2 70.7,77.9 70.8,77.9 71.0,76.5 71.1,75.1 71.2,73.6 71.4,72.2 71.5,70.7 71.6,69.3 71.7,67.9 71.9,66.3 72.0,64.8 72.1,63.3 72.3,61.8 72.4,60.2 72.5,58.7 72.7,57.2 72.8,57.1 72.9,59.0 73.1,60.9 73.2,62.7 73.3,64.6 73.5,66.5 73.6,68.3 73.7,70.1 73.9,71.8 74.0,73.6 74.1,75.3 74.3,77.1 74.4,78.6 74.5,77.1 74.7,75.7 74.8,74.3 74.9,72.8 75.1,71.4 75.2,70.0 75.3,68.5 75.5,67.0 75.6,65.5 75.7,64.0 75.9,62.5 76.0,60.9 76.1,59.4 76.2,57.9 76.4,56.4 76.5,58.2 76.6,60.1 76.8,61.9 76.9,63.8 77.0,65.6 77.2,67.5 77.3,69.3 77.4,71.0 77.6,72.8 77.7,74.5 77.8,76.3 78.0,78.0 78.1,77.7 78.2,76.3 78.4,74.9 78.5,73.5 78.6,72.0 78.8,70.6 78.9,69.2 79.0,67.7 79.2,66.2 79.3,64.7 79.4,63.2 79.6,61.6 79.7,60.1 79.8,58.6 80.0,57.1 80.1,57.4 80.2,59.3 80.4,61.1 80.5,63.0 80.6,64.8 80.7,66.7 80.9,68.5 81.0,70.2 81.1,72.0 81.3,73.7 81.4,75.4 81.5,77.1 81.7,78.3 81.8,76.8 81.9,75.4 82.1,74.0 82.2,72.6 82.3,71.2 82.5,69.8 82.6,68.3 82.7,66.9 82.9,65.4 83.0,63.9 83.1,62.4 83.3,60.9 83.4,59.4 83.5,57.9 83.7,56.8 83.8,58.6 83.9,60.5 84.1,62.3 84.2,64.1 84.3,65.9 84.5,67.7 84.6,69.4 84.7,71.1 84.9,72.8 85.0,74.5 85.1,76.2 85.2,77.9 85.4,77.3 85.5,75.9 85.6,74.5 85.8,73.1 85.9,71.7 86.0,70.3 86.2,68.9 86.3,67.5 86.4,66.1 86.6,64.6 86.7,63.1 86.8,61.7 87.0,60.2 87.1,58.7 87.2,57.3 87.4,58.0 87.5,59.8 87.6,61.6 87.8,63.4 87.9,65.2 88.0,67.0 88.2,68.7 88.3,70.4 88.4,72.0 88.6,73.7 88.7,75.4 88.8,77.1 89.0,77.7 89.1,76.3 89.2,75.0 89.4,73.6 89.5,72.2 89.6,70.9 89.8,69.5 89.9,68.1 90.0,66.7 90.1,65.3 90.3,63.8 90.4,62.4 90.5,60.9 90.7,59.5 90.8,58.1 90.9,57.4 91.1,59.2 91.2,61.0 91.3,62.7 91.5,64.5 91.6,66.2 91.7,68.0 91.9,69.6 92.0,71.3 92.1,72.9 92.3,74.6 92.4,76.2 92.5,77.9 92.7,76.8 92.8,75.4 92.9,74.0 93.1,72.7 93.2,71.4 93.3,70.0 93.5,68.7 93.6,67.3 93.7,65.9 93.9,64.5 94.0,63.1 94.1,61.7 94.3,60.3 94.4,58.9 94.5,57.5 94.6,58.7 94.8,60.4 94.9,62.1 95.0,63.9 95.2,65.6 95.3,67.3 95.4,68.9 95.6,70.5 95.7,72.1 95.8,73.8 96.0,75.3 96.1,76.9 96.2,77.1 96.4,75.7 96.5,74.4 96.6,73.1 96.8,71.8 96.9,70.5 97.0,69.2 97.2,67.9 97.3,66.5 97.4,65.1 97.6,63.8 97.7,62.4 97.8,61.0 98.0,59.7 98.1,58.3 98.2,58.3 98.4,59.9 98.5,61.6 98.6,63.3 98.8,65.0 98.9,66.6 99.0,68.3 99.1,69.8 99.3,71.4 99.4,73.0 99.5,74.5 99.7,76.1 99.8,77.3 99.9,76.0 100.1,74.7 100.2,73.5 100.3,72.2 100.5,70.9 100.6,69.7 100.7,68.4 100.9,67.1 101.0,65.7 101.1,64.4 101.3,63.1 101.4,61.7 101.5,60.4 101.7,59.1 101.8,57.9 101.9,59.5 102.1,61.2 102.2,62.8 102.3,64.4 102.5,66.0 102.6,67.7 102.7,69.2 102.9,70.7 103.0,72.2 103.1,73.7 103.3,75.3 103.4,76.8 103.5,76.3 103.6,75.0 103.8,73.8 103.9,72.6 104.0,71.3 104.2,70.1 104.3,68.9 104.4,67.6 104.6,66.3 104.7,65.0 104.8,63.7 105.0,62.4 105.1,61.1 105.2,59.8 105.4,58.5 105.5,59.1 105.6,60.7 105.8,62.3 105.9,63.9 106.0,65.5 106.2,67.1 106.3,68.6 106.4,70.1 106.6,71.5 106.7,73.0 106.8,74.5 107.0,75.9 107.1,76.5 107.2,75.3 107.4,74.1 107.5,72.9 107.6,71.7 107.8,70.5 107.9,69.3 108.0,68.1 108.2,66.8 108.3,65.6 108.4,64.3 108.5,63.1 108.7,61.8 108.8,60.6 108.9,59.3 109.1,58.8 109.2,60.4 109.3,61.9 109.5,63.5 109.6,65.0 109.7,66.5 109.9,68.0 110.0,69.4 110.1,70.9 110.3,72.3 110.4,73.7 110.5,75.1 110.7,76.5 110.8,75.5 110.9,74.3 111.1,73.1 111.2,72.0 111.3,70.8 111.5,69.7 111.6,68.5 111.7,67.3 111.9,66.1 112.0,64.9 112.1,63.7 112.3,62.5 112.4,61.3 112.5,60.1 112.7,58.9 112.8,60.1 112.9,61.6 113.0,63.1 113.2,64.5 113.3,66.0 113.4,67.5 113.6,68.9 113.7,70.3 113.8,71.6 114.0,73.0 114.1,74.4 114.2,75.7 114.4,75.6 114.5,74.5 114.6,73.4 114.8,72.2 114.9,71.1 115.0,70.0 115.2,68.9 115.3,67.8 115.4,66.6 115.6,65.4 115.7,64.2 115.8,63.1 116.0,61.9 116.1,60.8 116.2,59.6 116.4,59.8 116.5,61.3 116.6,62.7 116.8,64.1 116.9,65.6 117.0,67.0 117.2,68.4 117.3,69.7 117.4,71.0 117.5,72.3 117.7,73.7 117.8,75.0 117.9,75.7 118.1,74.6 118.2,73.6 118.3,72.5 118.5,71.4 118.6,70.3 118.7,69.2 118.9,68.2 119.0,67.0 119.1,65.9 119.3,64.8 119.4,63.7 119.5,62.5 119.7,61.4 119.8,60.3 119.9,59.6 120.1,61.0 120.2,62.4 120.3,63.8 120.5,65.2 120.6,66.5 120.7,67.9 120.9,69.2 121.0,70.5 121.1,71.7 121.3,73.0 121.4,74.3 121.5,75.6 121.7,74.8 121.8,73.7 121.9,72.7 122.0,71.6 122.2,70.6 122.3,69.6 122.4,68.5 122.6,67.5 122.7,66.4 122.8,65.3 123.0,64.2 123.1,63.1 123.2,62.0 123.4,60.9 123.5,59.8 123.6,60.8 123.8,62.1 123.9,63.5 124.0,64.8 124.2,66.1 124.3,67.4 124.4,68.7 124.6,70.0 124.7,71.2 124.8,72.4 125.0,73.7 125.1,74.9 125.2,74.9 125.4,73.9 125.5,72.9 125.6,71.9 125.8,70.9 125.9,69.8 126.0,68.8 126.2,67.8 126.3,66.8 126.4,65.7 126.6,64.6 126.7,63.6 126.8,62.5 126.9,61.5 127.1,60.4 127.2,60.6 127.3,61.9 127.5,63.2 127.6,64.4 127.7,65.7 127.9,67.0 128.0,68.3 128.1,69.5 128.3,70.7 128.4,71.9 128.5,73.1 128.7,74.3 128.8,75.0 128.9,74.0 129.1,73.0 129.2,72.1 129.3,71.1 129.5,70.1 129.6,69.1 129.7,68.2 129.9,67.1 130.0,66.1 130.1,65.1 130.3,64.1 130.4,63.1 130.5,62.0 130.7,61.0 130.8,60.4 130.9,61.7 131.1,62.9 131.2,64.2 131.3,65.4 131.4,66.6 131.6,67.9 131.7,69.0 131.8,70.2 132.0,71.4 132.1,72.5 132.2,73.7 132.4,74.8 132.5,74.1 132.6,73.2 132.8,72.2 132.9,71.3 133.0,70.3 133.2,69.4 133.3,68.4 133.4,67.5 133.6,66.5 133.7,65.5 133.8,64.5 134.0,63.6 134.1,62.6 134.2,61.6 134.4,60.7 134.5,61.5 134.6,62.7 134.8,63.9 134.9,65.1 135.0,66.3 135.2,67.5 135.3,68.6 135.4,69.8 135.6,70.9 135.7,72.0 135.8,73.0 135.9,74.1 136.1,74.1 136.2,73.2 136.3,72.3 136.5,71.4 136.6,70.5 136.7,69.6 136.9,68.7 137.0,67.8 137.1,66.8 137.3,65.9 137.4,65.0 137.5,64.0 137.7,63.1 137.8,62.2 137.9,61.3 138.1,61.6 138.2,62.7 138.3,63.8 138.5,65.0 138.6,66.1 138.7,67.2 138.9,68.3 139.0,69.4 139.1,70.4 139.3,71.5 139.4,72.5 139.5,73.5 139.7,74.0 139.8,73.1 139.9,72.2 140.1,71.4 140.2,70.5 140.3,69.7 140.4,68.8 140.6,68.0 140.7,67.1 140.8,66.2 141.0,65.4 141.1,64.5 141.2,63.6 141.4,62.7 141.5,61.9 141.6,61.7 141.8,62.7 141.9,63.8 142.0,64.9 142.2,66.0 142.3,67.0 142.4,68.1 142.6,69.1 142.7,70.0 142.8,71.0 143.0,72.0 143.1,73.0 143.2,73.8 143.4,72.9 143.5,72.1 143.6,71.3 143.8,70.5 143.9,69.7 144.0,68.9 144.2,68.2 144.3,67.3 144.4,66.5 144.6,65.7 144.7,64.9 144.8,64.0 145.0,63.2 145.1,62.4 145.2,61.9 145.3,62.9 145.5,63.9 145.6,64.9 145.7,65.9 145.9,66.9 146.0,67.9 146.1,68.8 146.3,69.7 146.4,70.7 146.5,71.6 146.7,72.5 146.8,73.4 146.9,72.7 147.1,72.0 147.2,71.2 147.3,70.4 147.5,69.7 147.6,68.9 147.7,68.2 147.9,67.4 148.0,66.6 148.1,65.8 148.3,65.1 148.4,64.3 148.5,63.5 148.7,62.7 148.8,62.3 148.9,63.3 149.1,64.2 149.2,65.2 149.3,66.2 149.5,67.1 149.6,68.0 149.7,68.9 149.8,69.8 150.0,70.7 150.1,71.6 150.2,72.5 150.4,72.9 150.5,72.2 150.6,71.4 150.8,70.7 150.9,70.0 151.0,69.3 151.2,68.5 151.3,67.8 151.4,67.1 151.6,66.3 151.7,65.6 151.8,64.8 152.0,64.1 152.1,63.3 152.2,62.6 152.4,63.2 152.5,64.2 152.6,65.1 152.8,66.0 152.9,66.9 153.0,67.8 153.2,68.7 153.3,69.5 153.4,70.4 153.6,71.2 153.7,72.1 153.8,72.7 154.0,72.0 154.1,71.3 154.2,70.6 154.3,69.9 154.5,69.2 154.6,68.5 154.7,67.8 154.9,67.1 155.0,66.3 155.1,65.6 155.3,64.9 155.4,64.2 155.5,63.4 155.7,62.7"/>
<polyline fill="none" stroke="#D95319" stroke-width="1.15" stroke-linejoin="round" stroke-linecap="round" points="155.5,63.4 155.7,62.7 155.8,63.6 155.9,64.5 156.1,65.4 156.2,66.3 156.3,67.2 156.5,68.1 156.6,68.9 156.7,69.7 156.9,70.6 157.0,71.4 157.1,72.2 157.3,72.2 157.4,71.5 157.5,70.8 157.7,70.1 157.8,69.5 157.9,68.8 158.1,68.1 158.2,67.4 158.3,66.7 158.5,66.0 158.6,65.3 158.7,64.6 158.9,63.9 159.0,63.2 159.1,63.6 159.2,64.4 159.4,65.3 159.5,66.2 159.6,67.0 159.8,67.9 159.9,68.7 160.0,69.5 160.2,70.3 160.3,71.1 160.4,71.9 160.6,72.1 160.7,71.4 160.8,70.7 161.0,70.1 161.1,69.4 161.2,68.8 161.4,68.1 161.5,67.4 161.6,66.7 161.8,66.0 161.9,65.3 162.0,64.7 162.2,64.0 162.3,63.3 162.4,63.9 162.6,64.7 162.7,65.6 162.8,66.4 163.0,67.3 163.1,68.1 163.2,68.9 163.4,69.7 163.5,70.5 163.6,71.2 163.7,72.0 163.9,71.6 164.0,71.0 164.1,70.3 164.3,69.7 164.4,69.1 164.5,68.4 164.7,67.8 164.8,67.1 164.9,66.4 165.1,65.7 165.2,65.1 165.3,64.4 165.5,63.7 165.6,63.8 165.7,64.6 165.9,65.4 166.0,66.2 166.1,67.1 166.3,67.9 166.4,68.6 166.5,69.4 166.7,70.2 166.8,70.9 166.9,71.7 167.1,71.6 167.2,70.9 167.3,70.3 167.5,69.7 167.6,69.1 167.7,68.4 167.9,67.8 168.0,67.2 168.1,66.5 168.2,65.9 168.4,65.2 168.5,64.6 168.6,63.9 168.8,64.0 168.9,64.8 169.0,65.6 169.2,66.4 169.3,67.2 169.4,68.0 169.6,68.7 169.7,69.4 169.8,70.2 170.0,70.9 170.1,71.6 170.2,71.2 170.4,70.6 170.5,70.0 170.6,69.4 170.8,68.8 170.9,68.2 171.0,67.6 171.2,67.0 171.3,66.4 171.4,65.7 171.6,65.1 171.7,64.5 171.8,63.9 172.0,64.6 172.1,65.3 172.2,66.1 172.4,66.9 172.5,67.6 172.6,68.3 172.7,69.1 172.9,69.8 173.0,70.5 173.1,71.2 173.3,71.2 173.4,70.7 173.5,70.1 173.7,69.5 173.8,68.9 173.9,68.4 174.1,67.8 174.2,67.2 174.3,66.6 174.5,66.0 174.6,65.4 174.7,64.8 174.9,64.2 175.0,64.6 175.1,65.4 175.3,66.1 175.4,66.8 175.5,67.6 175.7,68.3 175.8,69.0 175.9,69.6 176.1,70.3 176.2,71.0 176.3,71.1 176.5,70.5 176.6,69.9 176.7,69.4 176.9,68.8 177.0,68.3 177.1,67.7 177.3,67.1 177.4,66.6 177.5,66.0 177.6,65.4 177.8,64.8 177.9,64.3 178.0,65.0 178.2,65.7 178.3,66.4 178.4,67.1 178.6,67.8 178.7,68.4 178.8,69.1 179.0,69.7 179.1,70.4 179.2,71.0 179.4,70.7 179.5,70.1 179.6,69.6 179.8,69.1 179.9,68.5 180.0,68.0 180.2,67.5 180.3,66.9 180.4,66.4 180.6,65.8 180.7,65.3 180.8,64.7 181.0,64.9 181.1,65.5 181.2,66.2 181.4,66.9 181.5,67.5 181.6,68.2 181.8,68.8 181.9,69.4 182.0,70.0 182.1,70.7 182.3,70.6 182.4,70.1 182.5,69.6 182.7,69.1 182.8,68.6 182.9,68.1 183.1,67.6 183.2,67.1 183.3,66.5 183.5,66.0 183.6,65.5 183.7,64.9 183.9,64.9 184.0,65.6 184.1,66.2 184.3,66.9 184.4,67.5 184.5,68.2 184.7,68.8 184.8,69.4 184.9,70.0 185.1,70.6 185.2,70.5 185.3,70.0 185.5,69.5 185.6,69.0 185.7,68.5 185.9,68.0 186.0,67.5 186.1,67.0 186.3,66.5 186.4,66.0 186.5,65.5 186.6,65.0 186.8,65.2 186.9,65.8 187.0,66.5 187.2,67.1 187.3,67.7 187.4,68.3 187.6,68.9 187.7,69.5 187.8,70.1 188.0,70.6 188.1,70.2 188.2,69.7 188.4,69.2 188.5,68.8 188.6,68.3 188.8,67.8 188.9,67.3 189.0,66.8 189.2,66.3 189.3,65.8 189.4,65.3 189.6,65.0 189.7,65.7 189.8,66.3 190.0,66.9 190.1,67.5 190.2,68.1 190.4,68.6 190.5,69.2 190.6,69.8 190.8,70.3 190.9,70.2 191.0,69.8 191.1,69.3 191.3,68.9 191.4,68.4 191.5,67.9 191.7,67.5 191.8,67.0 191.9,66.5 192.1,66.0 192.2,65.5 192.3,65.1 192.5,65.7 192.6,66.3 192.7,66.8 192.9,67.4 193.0,68.0 193.1,68.5 193.3,69.1 193.4,69.6 193.5,70.2 193.7,70.2 193.8,69.7 193.9,69.3 194.1,68.8 194.2,68.4 194.3,67.9 194.5,67.5 194.6,67.0 194.7,66.5 194.9,66.1 195.0,65.6 195.1,65.3 195.3,65.8 195.4,66.4 195.5,67.0 195.7,67.5 195.8,68.1 195.9,68.6 196.0,69.1 196.2,69.6 196.3,70.2 196.4,69.9 196.6,69.5 196.7,69.1 196.8,68.6 197.0,68.2 197.1,67.8 197.2,67.3 197.4,66.9 197.5,66.5 197.6,66.0 197.8,65.6 197.9,65.6 198.0,66.2 198.2,66.7 198.3,67.2 198.4,67.8 198.6,68.3 198.7,68.8 198.8,69.3 199.0,69.8 199.1,70.0 199.2,69.6 199.4,69.2 199.5,68.8 199.6,68.4 199.8,68.0 199.9,67.6 200.0,67.1 200.2,66.7 200.3,66.3 200.4,65.9 200.5,65.5 200.7,66.1 200.8,66.6 200.9,67.1 201.1,67.6 201.2,68.1 201.3,68.6 201.5,69.1 201.6,69.6 201.7,70.0 201.9,69.6 202.0,69.2 202.1,68.8 202.3,68.4 202.4,68.0 202.5,67.6 202.7,67.2 202.8,66.8 202.9,66.4 203.1,66.0 203.2,65.6 203.3,66.1 203.5,66.6 203.6,67.1 203.7,67.6 203.9,68.1 204.0,68.5 204.1,69.0 204.3,69.4 204.4,69.8 204.5,69.5 204.7,69.1 204.8,68.7 204.9,68.4 205.0,68.0 205.2,67.6 205.3,67.3 205.4,66.9 205.6,66.5 205.7,66.2 205.8,65.9 206.0,66.4 206.1,66.8 206.2,67.3 206.4,67.7 206.5,68.1 206.6,68.6 206.8,69.0 206.9,69.4 207.0,69.6 207.2,69.2 207.3,68.9 207.4,68.6 207.6,68.2 207.7,67.9 207.8,67.6 208.0,67.2 208.1,66.9 208.2,66.5 208.4,66.2 208.5,66.2 208.6,66.7 208.8,67.1 208.9,67.5 209.0,67.9 209.2,68.3 209.3,68.6 209.4,69.0 209.5,69.3 209.7,69.2 209.8,68.9 209.9,68.6 210.1,68.3 210.2,68.0 210.3,67.7 210.5,67.4 210.6,67.2 210.7,66.9 210.9,66.6 211.0,66.4 211.1,66.7 211.3,67.1 211.4,67.4 211.5,67.8 211.7,68.1 211.8,68.4"/>
</g>
<use href="#frame"/>
<text class="tk" x="0.00" y="146.10" text-anchor="middle">40</text>
<text class="tk" x="33.09" y="146.10" text-anchor="middle">45</text>
<text class="tk" x="66.19" y="146.10" text-anchor="middle">50</text>
<text class="tk" x="99.28" y="146.10" text-anchor="middle">55</text>
<text class="tk" x="132.38" y="146.10" text-anchor="middle">60</text>
<text class="tk" x="165.47" y="146.10" text-anchor="middle">65</text>
<text class="tk" x="198.56" y="146.10" text-anchor="middle">70</text>
<text class="tk" x="-2.7" y="2.90" text-anchor="end">0.1</text>
<text class="tk" x="-2.7" y="36.82" text-anchor="end">0.05</text>
<text class="tk" x="-2.7" y="70.75" text-anchor="end">0</text>
<text class="tk" x="-2.7" y="104.67" text-anchor="end">-0.05</text>
<text class="tk" x="-2.7" y="138.60" text-anchor="end">-0.1</text>
<text class="lb" x="105.90" y="154.60" text-anchor="middle">Time (μs)</text>
<text class="lb" transform="translate(-21.9,67.85) rotate(-90)" text-anchor="middle">Amplitude</text>
<g transform="translate(101.05,4.00)">
<rect x="0" y="0" width="51.4" height="19.8" fill="#fff" stroke="#333" stroke-width="0.7"/>
<path d="M2.4,5.5 H18.8" stroke="#0072BD" stroke-width="1.1" opacity="0.72" fill="none"/>
<path d="M2.4,14.6 H18.8" stroke="#D95319" stroke-width="1.1" opacity="0.72" fill="none"/>
<text class="lg" x="20.5" y="7.9">Interfered</text>
<text class="lg" x="20.5" y="17.0">Truth</text>
</g>
<text class="cap" x="89.9" y="168.40" text-anchor="middle">(a)</text>
</g>
<g transform="translate(31.50,191.70)">
<use href="#ticks"/>
<g clip-path="url(#cp)">
<use href="#interf"/>
<use href="#truth" stroke="#0072BD" stroke-width="0.5"/>
<polyline fill="none" stroke="#0072BD" stroke-width="1.1" stroke-linejoin="round" points="0.0,62.9 0.1,64.3 0.3,65.7 0.4,67.0 0.5,68.4 0.7,69.7 0.8,71.0 0.9,72.3 1.1,73.6 1.2,74.9 1.3,75.8 1.5,74.7 1.6,73.7 1.7,72.6 1.9,71.6 2.0,70.5 2.1,69.4 2.3,68.4 2.4,67.3 2.5,66.1 2.6,65.0 2.8,63.8 2.9,62.7 3.0,61.6 3.2,60.4 3.3,59.2 3.4,60.3 3.6,61.7 3.7,63.1 3.8,64.5 4.0,65.9 4.1,67.3 4.2,68.7 4.4,70.0 4.5,71.4 4.6,72.7 4.8,74.0 4.9,75.4 5.0,75.8 5.2,74.7 5.3,73.6 5.4,72.5 5.6,71.4 5.7,70.3 5.8,69.2 6.0,68.1 6.1,67.0 6.2,65.8 6.4,64.6 6.5,63.4 6.6,62.3 6.8,61.1 6.9,59.9 7.0,59.1 7.1,60.5 7.3,61.9 7.4,63.4 7.5,64.8 7.7,66.2 7.8,67.7 7.9,69.1 8.1,70.4 8.2,71.8 8.3,73.2 8.5,74.5 8.6,75.9 8.7,75.7 8.9,74.6 9.0,73.5 9.1,72.3 9.3,71.2 9.4,70.1 9.5,69.0 9.7,67.8 9.8,66.6 9.9,65.4 10.1,64.2 10.2,63.0 10.3,61.8 10.5,60.6 10.6,59.4 10.7,59.2 10.9,60.7 11.0,62.1 11.1,63.6 11.3,65.1 11.4,66.6 11.5,68.1 11.6,69.5 11.8,70.9 11.9,72.3 12.0,73.7 12.2,75.1 12.3,76.5 12.4,75.6 12.6,74.5 12.7,73.3 12.8,72.1 13.0,71.0 13.1,69.8 13.2,68.7 13.4,67.5 13.5,66.3 13.6,65.0 13.8,63.8 13.9,62.5 14.0,61.3 14.2,60.0 14.3,58.8 14.4,59.4 14.6,60.9 14.7,62.4 14.8,63.9 15.0,65.5 15.1,67.0 15.2,68.5 15.4,69.9 15.5,71.4 15.6,72.8 15.8,74.3 15.9,75.7 16.0,76.7 16.1,75.5 16.3,74.3 16.4,73.1 16.5,71.9 16.7,70.7 16.8,69.5 16.9,68.3 17.1,67.1 17.2,65.8 17.3,64.6 17.5,63.3 17.6,62.0 17.7,60.7 17.9,59.4 18.0,58.1 18.1,59.6 18.3,61.2 18.4,62.7 18.5,64.3 18.7,65.9 18.8,67.4 18.9,68.9 19.1,70.4 19.2,71.9 19.3,73.4 19.5,74.9 19.6,76.4 19.7,76.5 19.9,75.3 20.0,74.1 20.1,72.9 20.3,71.7 20.4,70.4 20.5,69.2 20.7,68.0 20.8,66.7 20.9,65.4 21.0,64.1 21.2,62.7 21.3,61.4 21.4,60.1 21.6,58.8 21.7,58.3 21.8,59.9 22.0,61.5 22.1,63.1 22.2,64.7 22.4,66.3 22.5,67.9 22.6,69.5 22.8,71.0 22.9,72.5 23.0,74.0 23.2,75.6 23.3,77.1 23.4,76.3 23.6,75.1 23.7,73.9 23.8,72.6 24.0,71.3 24.1,70.1 24.2,68.8 24.4,67.6 24.5,66.2 24.6,64.9 24.8,63.5 24.9,62.2 25.0,60.8 25.2,59.5 25.3,58.1 25.4,58.6 25.5,60.2 25.7,61.9 25.8,63.5 25.9,65.2 26.1,66.8 26.2,68.5 26.3,70.0 26.5,71.6 26.6,73.2 26.7,74.7 26.9,76.3 27.0,77.4 27.1,76.1 27.3,74.8 27.4,73.6 27.5,72.3 27.7,71.0 27.8,69.7 27.9,68.4 28.1,67.1 28.2,65.7 28.3,64.3 28.5,63.0 28.6,61.6 28.7,60.2 28.9,58.8 29.0,57.5 29.1,59.0 29.3,60.7 29.4,62.4 29.5,64.1 29.7,65.7 29.8,67.4 29.9,69.0 30.0,70.6 30.2,72.2 30.3,73.8 30.4,75.4 30.6,77.0 30.7,77.1 30.8,75.8 31.0,74.5 31.1,73.2 31.2,71.9 31.4,70.6 31.5,69.3 31.6,67.9 31.8,66.6 31.9,65.2 32.0,63.8 32.2,62.4 32.3,61.0 32.4,59.6 32.6,58.2 32.7,57.8 32.8,59.5 33.0,61.2 33.1,62.9 33.2,64.6 33.4,66.3 33.5,68.0 33.6,69.6 33.8,71.3 33.9,72.9 34.0,74.5 34.2,76.1 34.3,77.7 34.4,76.7 34.5,75.4 34.7,74.1 34.8,72.8 34.9,71.4 35.1,70.1 35.2,68.8 35.3,67.4 35.5,66.0 35.6,64.6 35.7,63.2 35.9,61.8 36.0,60.3 36.1,58.9 36.3,57.5 36.4,58.3 36.5,60.0 36.7,61.8 36.8,63.5 36.9,65.2 37.1,67.0 37.2,68.7 37.3,70.3 37.5,71.9 37.6,73.6 37.7,75.2 37.9,76.9 38.0,77.7 38.1,76.3 38.3,75.0 38.4,73.6 38.5,72.3 38.7,71.0 38.8,69.6 38.9,68.3 39.1,66.8 39.2,65.4 39.3,64.0 39.4,62.5 39.6,61.1 39.7,59.7 39.8,58.2 40.0,57.1 40.1,58.9 40.2,60.6 40.4,62.4 40.5,64.2 40.6,65.9 40.8,67.7 40.9,69.3 41.0,71.0 41.2,72.7 41.3,74.3 41.4,76.0 41.6,77.7 41.7,77.2 41.8,75.9 42.0,74.5 42.1,73.2 42.2,71.8 42.4,70.4 42.5,69.1 42.6,67.7 42.8,66.2 42.9,64.8 43.0,63.3 43.2,61.9 43.3,60.4 43.4,58.9 43.6,57.5 43.7,57.7 43.8,59.5 43.9,61.3 44.1,63.1 44.2,64.8 44.3,66.6 44.5,68.4 44.6,70.1 44.7,71.8 44.9,73.5 45.0,75.1 45.1,76.8 45.3,78.2 45.4,76.8 45.5,75.4 45.7,74.0 45.8,72.7 45.9,71.3 46.1,69.9 46.2,68.5 46.3,67.1 46.5,65.6 46.6,64.1 46.7,62.6 46.9,61.1 47.0,59.7 47.1,58.2 47.3,56.7 47.4,58.4 47.5,60.2 47.7,62.0 47.8,63.8 47.9,65.6 48.1,67.4 48.2,69.1 48.3,70.8 48.4,72.6 48.6,74.3 48.7,76.0 48.8,77.7 49.0,77.7"/>
<polyline fill="none" stroke="#0072BD" stroke-width="1.1" stroke-linejoin="round" points="119.1,65.9 119.3,64.8 119.4,63.7 119.5,62.5 119.7,61.4 119.8,60.3 119.9,59.6 120.1,61.0 120.2,62.4 120.3,63.8 120.5,65.2 120.6,66.5 120.7,67.9 120.9,69.2 121.0,70.5 121.1,71.7 121.3,73.0 121.4,74.3 121.5,75.6 121.7,74.8 121.8,73.7 121.9,72.7 122.0,71.6 122.2,70.6 122.3,69.6 122.4,68.5 122.6,67.5 122.7,66.4 122.8,65.3 123.0,64.2 123.1,63.1 123.2,62.0 123.4,60.9 123.5,59.8 123.6,60.8 123.8,62.1 123.9,63.5 124.0,64.8 124.2,66.1 124.3,67.4 124.4,68.7 124.6,70.0 124.7,71.2 124.8,72.4 125.0,73.7"/>
<polyline fill="none" stroke="#D95319" stroke-width="1.15" stroke-linejoin="round" stroke-linecap="round" points="0.0,84.5 0.1,83.9 0.3,84.1 0.4,82.8 0.5,82.5 0.7,81.9 0.8,78.3 0.9,76.3 1.1,72.6 1.2,68.1 1.3,66.1 1.5,63.5 1.6,59.7 1.7,59.2 1.9,61.8 2.0,64.6 2.1,66.2 2.3,67.3 2.4,69.6 2.5,72.7 2.6,68.9 2.8,64.9 2.9,63.2 3.0,59.2 3.2,56.0 3.3,55.2 3.4,57.2 3.6,59.5 3.7,60.5 3.8,61.1 4.0,64.0 4.1,64.9 4.2,63.9 4.4,62.6 4.5,61.2 4.6,60.3 4.8,58.1 4.9,59.8 5.0,60.9 5.2,64.9 5.3,68.4 5.4,71.2 5.6,74.3 5.7,77.1 5.8,80.3 6.0,82.9 6.1,83.5 6.2,82.9 6.4,81.8 6.5,79.1 6.6,73.8 6.8,69.0 6.9,65.7 7.0,62.5 7.1,60.5 7.3,58.7 7.4,57.3 7.5,54.7 7.7,51.7 7.8,52.0 7.9,55.8 8.1,61.2 8.2,64.6 8.3,66.0 8.5,69.8 8.6,74.3 8.7,77.8 8.9,80.9 9.0,83.3 9.1,86.4 9.3,81.2 9.4,76.6 9.5,73.4 9.7,68.3 9.8,63.3 9.9,60.3 10.1,63.5 10.2,65.4 10.3,68.2 10.5,72.2 10.6,74.2 10.7,75.0 10.9,77.6 11.0,81.1 11.1,83.8 11.3,86.0 11.4,88.4 11.5,89.6 11.6,90.9 11.8,93.6 11.9,91.3 12.0,88.4 12.2,85.9 12.3,83.4 12.4,80.9 12.6,78.0 12.7,73.3 12.8,74.6 13.0,78.1 13.1,80.8 13.2,83.0 13.4,84.3 13.5,85.4 13.6,86.2 13.8,83.6 13.9,80.6 14.0,77.5 14.2,74.5 14.3,71.8 14.4,69.6 14.6,68.3 14.7,65.8 14.8,63.0 15.0,60.8 15.1,60.1 15.2,58.3 15.4,55.5 15.5,53.8 15.6,52.2 15.8,48.9 15.9,46.7 16.0,47.1 16.1,45.3 16.3,43.6 16.4,42.9 16.5,41.3 16.7,39.8 16.8,40.3 16.9,41.7 17.1,43.4 17.2,46.1 17.3,48.1 17.5,49.8 17.6,51.1 17.7,54.3 17.9,58.4 18.0,60.5 18.1,63.1 18.3,67.2 18.4,69.0 18.5,71.1 18.7,73.9 18.8,76.6 18.9,78.4 19.1,77.5 19.2,75.9 19.3,74.1 19.5,72.9 19.6,71.7 19.7,72.1 19.9,73.5 20.0,75.2 20.1,76.8 20.3,78.0 20.4,79.6 20.5,81.2 20.7,83.4 20.8,85.5 20.9,87.5 21.0,89.5 21.2,91.6 21.3,93.6 21.4,95.7 21.6,97.7 21.7,99.7 21.8,101.8 22.0,103.1 22.1,104.5 22.2,105.8 22.4,107.2 22.5,108.6 22.6,109.9 22.8,111.3 22.9,107.4 23.0,103.6 23.2,99.7 23.3,95.9 23.4,92.0 23.6,88.2 23.7,82.5 23.8,76.8 24.0,71.0 24.1,65.3 24.2,59.6 24.4,53.9 24.5,48.2 24.6,50.3 24.8,52.5 24.9,54.6 25.0,56.8 25.2,58.9 25.3,61.1 25.4,63.2 25.5,65.3 25.7,67.4 25.8,69.5 25.9,71.4 26.1,73.2 26.2,74.4 26.3,75.0 26.5,74.0 26.6,74.1 26.7,75.0 26.9,76.2 27.0,77.2 27.1,76.4 27.3,75.5 27.4,74.6 27.5,73.6 27.7,72.6 27.8,71.5 27.9,70.5 28.1,69.4 28.2,68.2 28.3,67.1 28.5,65.9 28.6,64.8 28.7,63.7 28.9,62.5 29.0,61.4 29.1,62.6 29.3,64.0 29.4,65.3 29.5,66.7 29.7,68.0 29.8,69.4 29.9,70.7 30.0,72.0 30.2,73.2 30.3,74.5 30.4,75.8 30.6,77.1 30.7,77.2 30.8,76.1 31.0,75.0 31.1,74.0 31.2,72.9 31.4,71.8 31.5,70.7 31.6,69.6 31.8,68.4 31.9,67.2 32.0,66.1 32.2,64.9 32.3,63.7 32.4,62.5 32.6,61.3 32.7,61.0 32.8,62.4 33.0,63.8 33.1,65.2 33.2,66.6 33.4,68.0 33.5,69.4 33.6,70.8 33.8,72.1 33.9,73.5 34.0,74.8 34.2,76.2 34.3,77.6 34.4,76.7 34.5,75.6 34.7,74.4 34.8,73.3 34.9,72.2 35.1,71.0 35.2,69.9 35.3,68.7 35.5,67.5 35.6,66.2 35.7,65.0 35.9,63.8 36.0,62.5 36.1,61.3 36.3,60.0 36.4,60.7 36.5,62.2 36.7,63.6 36.8,65.1 36.9,66.6 37.1,68.1 37.2,69.5 37.3,71.0 37.5,72.4 37.6,73.8 37.7,75.2 37.9,76.7 38.0,77.3 38.1,76.2 38.3,75.0 38.4,73.8 38.5,72.6 38.7,71.4 38.8,70.2 38.9,69.0 39.1,67.7 39.2,66.4 39.3,65.1 39.4,63.8 39.6,62.5 39.7,61.2 39.8,59.9 40.0,58.9 40.1,60.4 40.2,61.9 40.4,63.5 40.5,65.0 40.6,66.5 40.8,68.1 40.9,69.5 41.0,71.0 41.2,72.5 41.3,73.9 41.4,75.4 41.6,76.9 41.7,76.5 41.8,75.1 42.0,73.3 42.1,70.8 42.2,66.7 42.4,60.7 42.5,53.3 42.6,46.5 42.8,42.7 42.9,42.9 43.0,45.9 43.2,49.3 43.3,51.4 43.4,51.8 43.6,51.1 43.7,51.5 43.8,53.1 43.9,54.8 44.1,56.5 44.2,58.2 44.3,59.9 44.5,61.6 44.6,63.3 44.7,64.9 44.9,66.6 45.0,68.4 45.1,70.2 45.3,71.9 45.4,71.1 45.5,70.7 45.7,70.6 45.8,70.5 45.9,70.1 46.1,69.3 46.2,68.2 46.3,66.9 46.5,65.5 46.6,64.1 46.7,62.6 46.9,61.1 47.0,59.7 47.1,58.2 47.3,56.7 47.4,58.4 47.5,60.2 47.7,62.0 47.8,63.8"/>
<polyline fill="none" stroke="#D95319" stroke-width="1.45" stroke-linejoin="round" stroke-linecap="round" points="47.7,62.0 47.8,63.8 47.9,65.6 48.1,67.4 48.2,69.1 48.3,70.8 48.4,72.6 48.6,74.3 48.7,76.0 48.8,77.7 49.0,77.7 49.1,76.3 49.2,74.9 49.4,73.5 49.5,72.1 49.6,70.7 49.8,69.3 49.9,67.9 50.0,66.4 50.2,64.9 50.3,63.4 50.4,61.9 50.6,60.4 50.7,58.9 50.8,57.5 51.0,57.3 51.1,59.1 51.2,60.9 51.4,62.8 51.5,64.6 51.6,66.4 51.8,68.2 51.9,69.9 52.0,71.6 52.2,73.4 52.3,75.1 52.4,76.8 52.6,78.5 52.7,77.1 52.8,75.7 53.0,74.3 53.1,72.9 53.2,71.5 53.3,70.0 53.5,68.6 53.6,67.2 53.7,65.7 53.9,64.2 54.0,62.7 54.1,61.2 54.3,59.7 54.4,58.2 54.5,56.7 54.7,58.1 54.8,59.9 54.9,61.8 55.1,63.6 55.2,65.4 55.3,67.3 55.5,69.0 55.6,70.8 55.7,72.5 55.9,74.2 56.0,76.0 56.1,77.7 56.3,77.9 56.4,76.5 56.5,75.1 56.7,73.6 56.8,72.2 56.9,70.8 57.1,69.4 57.2,68.0 57.3,66.5 57.5,65.0 57.6,63.4 57.7,61.9 57.8,60.4 58.0,58.9 58.1,57.4 58.2,57.1 58.4,58.9 58.5,60.8 58.6,62.6 58.8,64.5 58.9,66.3 59.0,68.1 59.2,69.9 59.3,71.6 59.4,73.4 59.6,75.1 59.7,76.9 59.8,78.6 60.0,77.3 60.1,75.8 60.2,74.4 60.4,73.0 60.5,71.5 60.6,70.1 60.8,68.7 60.9,67.2 61.0,65.7 61.2,64.2 61.3,62.7 61.4,61.1 61.6,59.6 61.7,58.1 61.8,56.6 62.0,57.9 62.1,59.8 62.2,61.6 62.3,63.5 62.5,65.4 62.6,67.2 62.7,69.0 62.9,70.8 63.0,72.5 63.1,74.3 63.3,76.1 63.4,77.8 63.5,78.0 63.7,76.6 63.8,75.2 63.9,73.7 64.1,72.3 64.2,70.8 64.3,69.4 64.5,68.0 64.6,66.4 64.7,64.9 64.9,63.4 65.0,61.8 65.1,60.3 65.3,58.8 65.4,57.2 65.5,57.0 65.7,58.8 65.8,60.7 65.9,62.6 66.1,64.5 66.2,66.3 66.3,68.2 66.5,70.0 66.6,71.7 66.7,73.5 66.8,75.3 67.0,77.0 67.1,78.8 67.2,77.3 67.4,75.9 67.5,74.4 67.6,73.0 67.8,71.5 67.9,70.1 68.0,68.6 68.2,67.2 68.3,65.6 68.4,64.1 68.6,62.6 68.7,61.0 68.8,59.5 69.0,58.0 69.1,56.4 69.2,58.0 69.4,59.8 69.5,61.7 69.6,63.6 69.8,65.5 69.9,67.3 70.0,69.1 70.2,70.9 70.3,72.6 70.4,74.4 70.6,76.2 70.7,77.9 70.8,77.9 71.0,76.5 71.1,75.1 71.2,73.6 71.4,72.2 71.5,70.7 71.6,69.3 71.7,67.9 71.9,66.3 72.0,64.8 72.1,63.3 72.3,61.8 72.4,60.2 72.5,58.7 72.7,57.2 72.8,57.1 72.9,59.0 73.1,60.9 73.2,62.7 73.3,64.6 73.5,66.5 73.6,68.3 73.7,70.1 73.9,71.8 74.0,73.6 74.1,75.3 74.3,77.1 74.4,78.6 74.5,77.1 74.7,75.7 74.8,74.3 74.9,72.8 75.1,71.4 75.2,70.0 75.3,68.5 75.5,67.0 75.6,65.5 75.7,64.0 75.9,62.5 76.0,60.9 76.1,59.4 76.2,57.9 76.4,56.4 76.5,58.2 76.6,60.1 76.8,61.9 76.9,63.8 77.0,65.6 77.2,67.5 77.3,69.3 77.4,71.0 77.6,72.8 77.7,74.5 77.8,76.3 78.0,78.0 78.1,77.7 78.2,76.3 78.4,74.9 78.5,73.5 78.6,72.0 78.8,70.6 78.9,69.2 79.0,67.7 79.2,66.2 79.3,64.7 79.4,63.2 79.6,61.6 79.7,60.1 79.8,58.6 80.0,57.1 80.1,57.4 80.2,59.3 80.4,61.1 80.5,63.0 80.6,64.8 80.7,66.7 80.9,68.5 81.0,70.2 81.1,72.0 81.3,73.7 81.4,75.4 81.5,77.1 81.7,78.3 81.8,76.8 81.9,75.4 82.1,74.0 82.2,72.6 82.3,71.2 82.5,69.8 82.6,68.3 82.7,66.9 82.9,65.4 83.0,63.9 83.1,62.4 83.3,60.9 83.4,59.4 83.5,57.9 83.7,56.8 83.8,58.6 83.9,60.5 84.1,62.3 84.2,64.1 84.3,65.9 84.5,67.7 84.6,69.4 84.7,71.1 84.9,72.8 85.0,74.5 85.1,76.2 85.2,77.9 85.4,77.3 85.5,75.9 85.6,74.5 85.8,73.1 85.9,71.7 86.0,70.3 86.2,68.9 86.3,67.5 86.4,66.1 86.6,64.6 86.7,63.1 86.8,61.7 87.0,60.2 87.1,58.7 87.2,57.3 87.4,58.0 87.5,59.8 87.6,61.6 87.8,63.4 87.9,65.2 88.0,67.0 88.2,68.7 88.3,70.4 88.4,72.0 88.6,73.7 88.7,75.4 88.8,77.1 89.0,77.7 89.1,76.3 89.2,75.0 89.4,73.6 89.5,72.2 89.6,70.9 89.8,69.5 89.9,68.1 90.0,66.7 90.1,65.3 90.3,63.8 90.4,62.4 90.5,60.9 90.7,59.5 90.8,58.1 90.9,57.4 91.1,59.2 91.2,61.0 91.3,62.7 91.5,64.5 91.6,66.2 91.7,68.0 91.9,69.6 92.0,71.3 92.1,72.9 92.3,74.6 92.4,76.2 92.5,77.9 92.7,76.8 92.8,75.4 92.9,74.0 93.1,72.7 93.2,71.4 93.3,70.0 93.5,68.7 93.6,67.3 93.7,65.9 93.9,64.5 94.0,63.1 94.1,61.7 94.3,60.3 94.4,58.9 94.5,57.5 94.6,58.7 94.8,60.4 94.9,62.1 95.0,63.9 95.2,65.6 95.3,67.3 95.4,68.9 95.6,70.5 95.7,72.1 95.8,73.8 96.0,75.3 96.1,76.9 96.2,77.1 96.4,75.7 96.5,74.4 96.6,73.1 96.8,71.8 96.9,70.5 97.0,69.2 97.2,67.9 97.3,66.5 97.4,65.1 97.6,63.8 97.7,62.4 97.8,61.0 98.0,59.7 98.1,58.3 98.2,58.3 98.4,59.9 98.5,61.6 98.6,63.3 98.8,65.0 98.9,66.6 99.0,68.3 99.1,69.8 99.3,71.4 99.4,73.0 99.5,74.5 99.7,76.1 99.8,77.3 99.9,76.0 100.1,74.7 100.2,73.5 100.3,72.2 100.5,70.9 100.6,69.7 100.7,68.4 100.9,67.1 101.0,65.7 101.1,64.4 101.3,63.1 101.4,61.7 101.5,60.4 101.7,59.1 101.8,57.9 101.9,59.5 102.1,61.2 102.2,62.8 102.3,64.4 102.5,66.0 102.6,67.7 102.7,69.2 102.9,70.7 103.0,72.2 103.1,73.7 103.3,75.3 103.4,76.8 103.5,76.3 103.6,75.0 103.8,73.8 103.9,72.6 104.0,71.3 104.2,70.1 104.3,68.9 104.4,67.6 104.6,66.3 104.7,65.0 104.8,63.7 105.0,62.4 105.1,61.1 105.2,59.8 105.4,58.5 105.5,59.1 105.6,60.7 105.8,62.3 105.9,63.9 106.0,65.5 106.2,67.1 106.3,68.6 106.4,70.1 106.6,71.5 106.7,73.0 106.8,74.5 107.0,75.9 107.1,76.5 107.2,75.3 107.4,74.1 107.5,72.9 107.6,71.7 107.8,70.5 107.9,69.3 108.0,68.1 108.2,66.8 108.3,65.6 108.4,64.3 108.5,63.1 108.7,61.8 108.8,60.6 108.9,59.3 109.1,58.8 109.2,60.4 109.3,61.9 109.5,63.5 109.6,65.0 109.7,66.5 109.9,68.0 110.0,69.4 110.1,70.9 110.3,72.3 110.4,73.7 110.5,75.1 110.7,76.5 110.8,75.5 110.9,74.3 111.1,73.1 111.2,72.0 111.3,70.8 111.5,69.7 111.6,68.5 111.7,67.3 111.9,66.1 112.0,64.9 112.1,63.7 112.3,62.5 112.4,61.3 112.5,60.1 112.7,58.9 112.8,60.1 112.9,61.6 113.0,63.1 113.2,64.5 113.3,66.0 113.4,67.5 113.6,68.9 113.7,70.3 113.8,71.6 114.0,73.0 114.1,74.4 114.2,75.7 114.4,75.6 114.5,74.5 114.6,73.4 114.8,72.2 114.9,71.1 115.0,70.0 115.2,68.9 115.3,67.8 115.4,66.6 115.6,65.4 115.7,64.2 115.8,63.1 116.0,61.9 116.1,60.8 116.2,59.6 116.4,59.8 116.5,61.3 116.6,62.7 116.8,64.1 116.9,65.6 117.0,67.0 117.2,68.4 117.3,69.7 117.4,71.0 117.5,72.3 117.7,73.6 117.8,74.9 117.9,75.6 118.1,74.5 118.2,73.4 118.3,72.3 118.5,71.3 118.6,70.2 118.7,69.2 118.9,68.1 119.0,67.1 119.1,66.1 119.3,65.1 119.4,64.2 119.5,63.4 119.7,62.6 119.8,61.9 119.9,61.6 120.1,62.9 120.2,64.1 120.3,65.2 120.5,66.2 120.6,67.1 120.7,67.9 120.9,68.5 121.0,69.0 121.1,69.4 121.3,69.8 121.4,70.0 121.5,70.2 121.7,69.8 121.8,69.4 121.9,69.1 122.0,68.8 122.2,68.5 122.3,68.3 122.4,68.0 122.6,67.7 122.7,67.4 122.8,67.0 123.0,66.5 123.1,65.9 123.2,65.2 123.4,64.5 123.5,63.6 123.6,63.8 123.8,64.4 123.9,65.0 124.0,65.7 124.2,66.6 124.3,67.5 124.4,68.5 124.6,69.6 124.7,70.7 124.8,71.8 125.0,73.0 125.1,74.2 125.2,74.4 125.4,73.5 125.5,72.6 125.6,71.7 125.8,70.8 125.9,69.8 126.0,68.8 126.2,67.8 126.3,66.8 126.4,65.7 126.6,64.7 126.7,63.6 126.8,62.6 126.9,61.5 127.1,60.5 127.2,60.6 127.3,61.9 127.5,63.2 127.6,64.5 127.7,65.7 127.9,67.0 128.0,68.3 128.1,69.5 128.3,70.7 128.4,71.9 128.5,73.1 128.7,74.3 128.8,75.0 128.9,74.0 129.1,73.0 129.2,72.1 129.3,71.1 129.5,70.1 129.6,69.1 129.7,68.2 129.9,67.1 130.0,66.1 130.1,65.1 130.3,64.1 130.4,63.1 130.5,62.0 130.7,61.0 130.8,60.4 130.9,61.7 131.1,62.9 131.2,64.2 131.3,65.4 131.4,66.6 131.6,67.9 131.7,69.0 131.8,70.2 132.0,71.4 132.1,72.5 132.2,73.7 132.4,74.8 132.5,74.1 132.6,73.2 132.8,72.2 132.9,71.3 133.0,70.3 133.2,69.4 133.3,68.4 133.4,67.5 133.6,66.5 133.7,65.5 133.8,64.5 134.0,63.6 134.1,62.6 134.2,61.6 134.4,60.7 134.5,61.5 134.6,62.7 134.8,63.9 134.9,65.1 135.0,66.3 135.2,67.5 135.3,68.6 135.4,69.8 135.6,70.9 135.7,72.0 135.8,73.0 135.9,74.1 136.1,74.1 136.2,73.2 136.3,72.3 136.5,71.4 136.6,70.5 136.7,69.6 136.9,68.7 137.0,67.8 137.1,66.8 137.3,65.9 137.4,65.0 137.5,64.0 137.7,63.1 137.8,62.2 137.9,61.3 138.1,61.6 138.2,62.7 138.3,63.8 138.5,65.0 138.6,66.1 138.7,67.2 138.9,68.3 139.0,69.4 139.1,70.4 139.3,71.5 139.4,72.5 139.5,73.5 139.7,74.0 139.8,73.1 139.9,72.2 140.1,71.4 140.2,70.5 140.3,69.7 140.4,68.8 140.6,68.0 140.7,67.1 140.8,66.2 141.0,65.4 141.1,64.5 141.2,63.6 141.4,62.7 141.5,61.9 141.6,61.7 141.8,62.7 141.9,63.8 142.0,64.9 142.2,66.0 142.3,67.0 142.4,68.1 142.6,69.1 142.7,70.0 142.8,71.0 143.0,72.0 143.1,73.0 143.2,73.8 143.4,72.9 143.5,72.1 143.6,71.3 143.8,70.5 143.9,69.7 144.0,68.9 144.2,68.2 144.3,67.3 144.4,66.5 144.6,65.7 144.7,64.9 144.8,64.0 145.0,63.2 145.1,62.4 145.2,61.9 145.3,62.9 145.5,63.9 145.6,64.9 145.7,65.9 145.9,66.9 146.0,67.9 146.1,68.8 146.3,69.7 146.4,70.7 146.5,71.6 146.7,72.5 146.8,73.4 146.9,72.7 147.1,72.0 147.2,71.2 147.3,70.4 147.5,69.7 147.6,68.9 147.7,68.2 147.9,67.4 148.0,66.6 148.1,65.8 148.3,65.1 148.4,64.3 148.5,63.5 148.7,62.7 148.8,62.3 148.9,63.3 149.1,64.2 149.2,65.2 149.3,66.2 149.5,67.1 149.6,68.0 149.7,68.9 149.8,69.8 150.0,70.7 150.1,71.6 150.2,72.5 150.4,72.9 150.5,72.2 150.6,71.4 150.8,70.7 150.9,70.0 151.0,69.3 151.2,68.5 151.3,67.8 151.4,67.1 151.6,66.3 151.7,65.6 151.8,64.8 152.0,64.1 152.1,63.3 152.2,62.6 152.4,63.2 152.5,64.2 152.6,65.1 152.8,66.0 152.9,66.9 153.0,67.8 153.2,68.7 153.3,69.5 153.4,70.4 153.6,71.2 153.7,72.1 153.8,72.7 154.0,72.0 154.1,71.3 154.2,70.6 154.3,69.9 154.5,69.2 154.6,68.5 154.7,67.8 154.9,67.1 155.0,66.3 155.1,65.6 155.3,64.9 155.4,64.2 155.5,63.4 155.7,62.7 155.8,63.6 155.9,64.5 156.1,65.4 156.2,66.3 156.3,67.2 156.5,68.1 156.6,68.9 156.7,69.7 156.9,70.6 157.0,71.4 157.1,72.2 157.3,72.2 157.4,71.5 157.5,70.8 157.7,70.1"/>
<polyline fill="none" stroke="#D95319" stroke-width="1.15" stroke-linejoin="round" stroke-linecap="round" points="157.5,70.8 157.7,70.1 157.8,69.5 157.9,68.8 158.1,68.1 158.2,67.4 158.3,66.8 158.5,66.2 158.6,65.8 158.7,65.7 158.9,65.9 159.0,65.8 159.1,65.8 159.2,65.5 159.4,64.9 159.5,64.2 159.6,63.5 159.8,62.8 159.9,62.1 160.0,61.3 160.2,60.6 160.3,59.9 160.4,59.2 160.6,58.4 160.7,57.7 160.8,57.0 161.0,59.3 161.1,61.5 161.2,63.8 161.4,66.0 161.5,68.3 161.6,70.6 161.8,69.2 161.9,67.8 162.0,66.5 162.2,65.1 162.3,63.8 162.4,62.4 162.6,62.6 162.7,64.3 162.8,66.0 163.0,67.8 163.1,69.5 163.2,71.2 163.4,72.9 163.5,74.6 163.6,73.2 163.7,71.7 163.9,70.3 164.0,68.8 164.1,67.4 164.3,66.0 164.4,64.5 164.5,64.8 164.7,66.8 164.8,68.8 164.9,70.7 165.1,72.7 165.2,74.7 165.3,76.7 165.5,78.7 165.6,76.4 165.7,74.2 165.9,71.9 166.0,69.7 166.1,67.4 166.3,65.1 166.4,64.4 166.5,63.7 166.7,62.9 166.8,62.2 166.9,61.5 167.1,60.8 167.2,61.4 167.3,63.4 167.5,65.3 167.6,67.3 167.7,69.3 167.9,71.3 168.0,73.3 168.1,74.2 168.2,75.1 168.4,76.0 168.5,76.9 168.6,77.8 168.8,78.7 168.9,76.6 169.0,74.4 169.2,72.3 169.3,70.1 169.4,68.0 169.6,65.8 169.7,65.1 169.8,64.4 170.0,63.6 170.1,62.9 170.2,62.2 170.4,61.4 170.5,61.9 170.6,63.6 170.8,65.4 170.9,67.1 171.0,68.8 171.2,70.5 171.3,72.2 171.4,74.0 171.6,72.5 171.7,71.1 171.8,69.6 172.0,68.2 172.1,66.7 172.2,65.3 172.4,63.8 172.5,63.7 172.6,65.0 172.7,66.3 172.9,67.5 173.0,68.8 173.1,70.1 173.3,71.3 173.4,72.6 173.5,71.5 173.7,70.4 173.8,69.3 173.9,68.3 174.1,67.2 174.2,66.1 174.3,65.0 174.5,65.0 174.6,66.0 174.7,66.9 174.9,67.9 175.0,68.9 175.1,69.9 175.3,70.9 175.4,71.9 175.5,71.1 175.7,70.3 175.8,69.5 175.9,68.7 176.1,67.9 176.2,67.0 176.3,66.2 176.5,66.0 176.6,66.4 176.7,66.8 176.9,67.1 177.0,67.5 177.1,67.9 177.3,68.3 177.4,68.7 177.5,69.0 177.6,69.4 177.8,69.8 177.9,70.2 178.0,70.6 178.2,70.2 178.3,69.7 178.4,69.3 178.6,68.9 178.7,68.5 178.8,68.1 179.0,67.7 179.1,67.3 179.2,66.9 179.4,66.5 179.5,66.7 179.6,66.9 179.8,67.2 179.9,67.4 180.0,67.6 180.2,67.8 180.3,68.1 180.4,68.3 180.6,68.5 180.7,68.8 180.8,69.0 181.0,69.2 181.1,69.4 181.2,69.7 181.4,69.9 181.5,69.6 181.6,69.3 181.8,69.1 181.9,68.8 182.0,68.5 182.1,68.3 182.3,68.0 182.4,67.7 182.5,67.4 182.7,67.2 182.8,66.9 182.9,66.6 183.1,66.4 183.2,66.1 183.3,65.8 183.5,66.2 183.6,66.7 183.7,67.1 183.9,67.6 184.0,68.0 184.1,68.4 184.3,68.9 184.4,69.3 184.5,69.7 184.7,70.2 184.8,70.6 184.9,71.0 185.1,70.9 185.2,70.1 185.3,69.4 185.5,68.6 185.6,67.9 185.7,67.1 185.9,66.4 186.0,65.6 186.1,64.9 186.3,64.2 186.4,64.4 186.5,65.7 186.6,66.9 186.8,68.2 186.9,69.5 187.0,70.7 187.2,72.0 187.3,73.3 187.4,71.9 187.6,70.6 187.7,69.2 187.8,67.9 188.0,66.5 188.1,65.1 188.2,63.8 188.4,64.1 188.5,66.0 188.6,68.0 188.8,70.0 188.9,71.9 189.0,73.9 189.2,75.9 189.3,77.8 189.4,76.0 189.6,74.3 189.7,72.5 189.8,70.7 190.0,68.9 190.1,67.1 190.2,65.3 190.4,65.1 190.5,66.4 190.6,67.6 190.8,68.9 190.9,70.2 191.0,71.4 191.1,72.7 191.3,74.0 191.4,72.4 191.5,70.9 191.7,69.3 191.8,67.8 191.9,66.3 192.1,64.7 192.2,63.2 192.3,63.1 192.5,64.3 192.6,65.6 192.7,66.9 192.9,68.1 193.0,69.4 193.1,70.7 193.3,71.9 193.4,71.0 193.5,70.2 193.7,69.3 193.8,68.4 193.9,67.5 194.1,66.6 194.2,65.7 194.3,64.9 194.5,64.0 194.6,63.1 194.7,64.2 194.9,65.3 195.0,66.4 195.1,67.4 195.3,68.5 195.4,69.6 195.5,70.7 195.7,71.8 195.8,72.9 195.9,74.0 196.0,73.0 196.2,72.0 196.3,71.0 196.4,70.0 196.6,69.0 196.7,68.0 196.8,67.0 197.0,67.2 197.1,68.5 197.2,69.9 197.4,71.2 197.5,72.6 197.6,74.0 197.8,75.3 197.9,76.7 198.0,75.1 198.2,73.6 198.3,72.1 198.4,70.5 198.6,69.0 198.7,67.4 198.8,65.9 199.0,65.4 199.1,66.0 199.2,66.5 199.4,67.0 199.5,67.6 199.6,68.1 199.8,68.7 199.9,69.2 200.0,69.7 200.2,70.3 200.3,70.3 200.4,69.9 200.5,69.5 200.7,69.0 200.8,68.6 200.9,68.2 201.1,67.7 201.2,67.3 201.3,66.9 201.5,66.4 201.6,66.0 201.7,65.6 201.9,65.1 202.0,65.5 202.1,65.8 202.3,66.1 202.4,66.4 202.5,66.8 202.7,67.1 202.8,67.4 202.9,67.7 203.1,68.1 203.2,68.4 203.3,68.7 203.5,69.0 203.6,69.0 203.7,68.7 203.9,68.4 204.0,68.1 204.1,67.7 204.3,67.4 204.4,67.1 204.5,66.8 204.7,66.4 204.8,66.1 204.9,65.8 205.0,65.5 205.2,65.1 205.3,65.5 205.4,65.8 205.6,66.2 205.7,66.5 205.8,66.8 206.0,67.2 206.1,67.5 206.2,67.8 206.4,68.2 206.5,68.5 206.6,68.3 206.8,68.0 206.9,67.7 207.0,67.4 207.2,67.2 207.3,66.9 207.4,66.6 207.6,66.4 207.7,66.1 207.8,65.8 208.0,65.7 208.1,65.7 208.2,65.6 208.4,65.5 208.5,65.5 208.6,65.4 208.8,65.3 208.9,65.3 209.0,65.2 209.2,65.1 209.3,65.5 209.4,66.0 209.5,66.4 209.7,66.8 209.8,67.2 209.9,67.6 210.1,68.0 210.2,68.4 210.3,68.8 210.5,69.2 210.6,69.0 210.7,68.8 210.9,68.6 211.0,68.4 211.1,68.2 211.3,68.0 211.4,67.8 211.5,67.6 211.7,67.4 211.8,67.2"/>
</g>
<use href="#frame"/>
<text class="tk" x="0.00" y="146.10" text-anchor="middle">40</text>
<text class="tk" x="33.09" y="146.10" text-anchor="middle">45</text>
<text class="tk" x="66.19" y="146.10" text-anchor="middle">50</text>
<text class="tk" x="99.28" y="146.10" text-anchor="middle">55</text>
<text class="tk" x="132.38" y="146.10" text-anchor="middle">60</text>
<text class="tk" x="165.47" y="146.10" text-anchor="middle">65</text>
<text class="tk" x="198.56" y="146.10" text-anchor="middle">70</text>
<text class="tk" x="-2.7" y="2.90" text-anchor="end">0.1</text>
<text class="tk" x="-2.7" y="36.82" text-anchor="end">0.05</text>
<text class="tk" x="-2.7" y="70.75" text-anchor="end">0</text>
<text class="tk" x="-2.7" y="104.67" text-anchor="end">-0.05</text>
<text class="tk" x="-2.7" y="138.60" text-anchor="end">-0.1</text>
<text class="lb" x="105.90" y="154.60" text-anchor="middle">Time (<tspan font-style="italic">μ</tspan>s)</text>
<text class="lb" transform="translate(-21.9,67.85) rotate(-90)" text-anchor="middle">Amplitude</text>
<g transform="translate(100.50,7.20)">
<rect x="0" y="0" width="51.4" height="19.8" fill="#fff" stroke="#333" stroke-width="0.7"/>
<path d="M2.4,5.5 H18.8" stroke="#0072BD" stroke-width="1.1" opacity="0.72" fill="none"/>
<path d="M2.4,14.6 H18.8" stroke="#D95319" stroke-width="1.1" opacity="0.72" fill="none"/>
<text class="lg" x="20.5" y="7.9">Interfered</text>
<text class="lg" x="20.5" y="17.0">EMD</text>
</g>
<text class="cap" x="89.9" y="168.40" text-anchor="middle">(b)</text>
</g>
<g transform="translate(282.50,191.70)">
<use href="#ticks"/>
<g clip-path="url(#cp)">
<use href="#interf"/>
<use href="#truth" stroke="#0072BD" stroke-width="0.5"/>
<polyline fill="none" stroke="#0072BD" stroke-width="1.1" stroke-linejoin="round" points="0.0,62.9 0.1,64.3 0.3,65.7 0.4,67.0 0.5,68.4 0.7,69.7 0.8,71.0 0.9,72.3 1.1,73.6 1.2,74.9 1.3,75.8 1.5,74.7 1.6,73.7 1.7,72.6 1.9,71.6 2.0,70.5 2.1,69.4 2.3,68.4 2.4,67.3 2.5,66.1 2.6,65.0 2.8,63.8 2.9,62.7 3.0,61.6 3.2,60.4 3.3,59.2 3.4,60.3 3.6,61.7 3.7,63.1 3.8,64.5 4.0,65.9 4.1,67.3 4.2,68.7 4.4,70.0 4.5,71.4 4.6,72.7 4.8,74.0 4.9,75.4 5.0,75.8 5.2,74.7 5.3,73.6 5.4,72.5 5.6,71.4 5.7,70.3 5.8,69.2 6.0,68.1 6.1,67.0 6.2,65.8 6.4,64.6 6.5,63.4 6.6,62.3 6.8,61.1 6.9,59.9 7.0,59.1 7.1,60.5 7.3,61.9 7.4,63.4 7.5,64.8 7.7,66.2 7.8,67.7 7.9,69.1 8.1,70.4 8.2,71.8 8.3,73.2 8.5,74.5 8.6,75.9 8.7,75.7 8.9,74.6 9.0,73.5 9.1,72.3 9.3,71.2 9.4,70.1 9.5,69.0 9.7,67.8 9.8,66.6 9.9,65.4 10.1,64.2 10.2,63.0 10.3,61.8 10.5,60.6 10.6,59.4 10.7,59.2 10.9,60.7 11.0,62.1 11.1,63.6 11.3,65.1 11.4,66.6 11.5,68.1 11.6,69.5 11.8,70.9 11.9,72.3 12.0,73.7 12.2,75.1 12.3,76.5 12.4,75.6 12.6,74.5 12.7,73.3 12.8,72.1 13.0,71.0 13.1,69.8 13.2,68.7"/>
<polyline fill="none" stroke="#0072BD" stroke-width="1.1" stroke-linejoin="round" points="56.3,77.9 56.4,76.5 56.5,75.1 56.7,73.6 56.8,72.2 56.9,70.8 57.1,69.4 57.2,68.0 57.3,66.5 57.5,65.0 57.6,63.4 57.7,61.9 57.8,60.4 58.0,58.9 58.1,57.4 58.2,57.1 58.4,58.9 58.5,60.8 58.6,62.6 58.8,64.5 58.9,66.3 59.0,68.1 59.2,69.9 59.3,71.6 59.4,73.4 59.6,75.1 59.7,76.9 59.8,78.6 60.0,77.3 60.1,75.8 60.2,74.4 60.4,73.0 60.5,71.5 60.6,70.1 60.8,68.7 60.9,67.2 61.0,65.7 61.2,64.2 61.3,62.7 61.4,61.1 61.6,59.6 61.7,58.1 61.8,56.6 62.0,57.9 62.1,59.8 62.2,61.6 62.3,63.5 62.5,65.4 62.6,67.2 62.7,69.0 62.9,70.8 63.0,72.5 63.1,74.3 63.3,76.1 63.4,77.8 63.5,78.0 63.7,76.6 63.8,75.2 63.9,73.7 64.1,72.3 64.2,70.8 64.3,69.4 64.5,68.0 64.6,66.4 64.7,64.9 64.9,63.4 65.0,61.8 65.1,60.3 65.3,58.8 65.4,57.2 65.5,57.0 65.7,58.8 65.8,60.7 65.9,62.6 66.1,64.5 66.2,66.3 66.3,68.2 66.5,70.0 66.6,71.7 66.7,73.5 66.8,75.3 67.0,77.0 67.1,78.8 67.2,77.3 67.4,75.9 67.5,74.4 67.6,73.0 67.8,71.5 67.9,70.1 68.0,68.6 68.2,67.2 68.3,65.6 68.4,64.1 68.6,62.6 68.7,61.0 68.8,59.5 69.0,58.0 69.1,56.4 69.2,58.0 69.4,59.8 69.5,61.7 69.6,63.6 69.8,65.5 69.9,67.3 70.0,69.1 70.2,70.9 70.3,72.6 70.4,74.4 70.6,76.2 70.7,77.9 70.8,77.9 71.0,76.5 71.1,75.1 71.2,73.6 71.4,72.2 71.5,70.7 71.6,69.3 71.7,67.9 71.9,66.3 72.0,64.8 72.1,63.3 72.3,61.8 72.4,60.2 72.5,58.7 72.7,57.2 72.8,57.1 72.9,59.0 73.1,60.9 73.2,62.7 73.3,64.6 73.5,66.5 73.6,68.3 73.7,70.1 73.9,71.8 74.0,73.6 74.1,75.3 74.3,77.1 74.4,78.6 74.5,77.1 74.7,75.7 74.8,74.3 74.9,72.8 75.1,71.4 75.2,70.0 75.3,68.5 75.5,67.0 75.6,65.5 75.7,64.0 75.9,62.5 76.0,60.9 76.1,59.4 76.2,57.9 76.4,56.4 76.5,58.2 76.6,60.1 76.8,61.9 76.9,63.8 77.0,65.6 77.2,67.5 77.3,69.3 77.4,71.0 77.6,72.8 77.7,74.5 77.8,76.3 78.0,78.0 78.1,77.7 78.2,76.3 78.4,74.9 78.5,73.5 78.6,72.0 78.8,70.6 78.9,69.2 79.0,67.7 79.2,66.2 79.3,64.7 79.4,63.2 79.6,61.6 79.7,60.1 79.8,58.6 80.0,57.1 80.1,57.4 80.2,59.3 80.4,61.1 80.5,63.0 80.6,64.8 80.7,66.7 80.9,68.5 81.0,70.2 81.1,72.0 81.3,73.7 81.4,75.4 81.5,77.1 81.7,78.3 81.8,76.8 81.9,75.4 82.1,74.0 82.2,72.6 82.3,71.2 82.5,69.8 82.6,68.3 82.7,66.9 82.9,65.4 83.0,63.9 83.1,62.4 83.3,60.9 83.4,59.4 83.5,57.9 83.7,56.8 83.8,58.6 83.9,60.5 84.1,62.3 84.2,64.1 84.3,65.9 84.5,67.7 84.6,69.4 84.7,71.1 84.9,72.8 85.0,74.5 85.1,76.2 85.2,77.9 85.4,77.3 85.5,75.9 85.6,74.5 85.8,73.1 85.9,71.7 86.0,70.3 86.2,68.9 86.3,67.5 86.4,66.1 86.6,64.6 86.7,63.1 86.8,61.7 87.0,60.2 87.1,58.7 87.2,57.3 87.4,58.0 87.5,59.8 87.6,61.6 87.8,63.4 87.9,65.2 88.0,67.0 88.2,68.7 88.3,70.4 88.4,72.0 88.6,73.7 88.7,75.4 88.8,77.1 89.0,77.7 89.1,76.3 89.2,75.0 89.4,73.6 89.5,72.2 89.6,70.9 89.8,69.5 89.9,68.1 90.0,66.7 90.1,65.3 90.3,63.8 90.4,62.4 90.5,60.9 90.7,59.5 90.8,58.1 90.9,57.4 91.1,59.2 91.2,61.0 91.3,62.7 91.5,64.5 91.6,66.2 91.7,68.0 91.9,69.6 92.0,71.3 92.1,72.9 92.3,74.6 92.4,76.2 92.5,77.9 92.7,76.8 92.8,75.4 92.9,74.0 93.1,72.7 93.2,71.4 93.3,70.0 93.5,68.7 93.6,67.3 93.7,65.9 93.9,64.5 94.0,63.1 94.1,61.7 94.3,60.3 94.4,58.9 94.5,57.5 94.6,58.7 94.8,60.4 94.9,62.1 95.0,63.9 95.2,65.6 95.3,67.3 95.4,68.9 95.6,70.5 95.7,72.1 95.8,73.8 96.0,75.3 96.1,76.9 96.2,77.1 96.4,75.7 96.5,74.4 96.6,73.1 96.8,71.8 96.9,70.5 97.0,69.2 97.2,67.9 97.3,66.5 97.4,65.1 97.6,63.8 97.7,62.4 97.8,61.0 98.0,59.7 98.1,58.3 98.2,58.3 98.4,59.9 98.5,61.6 98.6,63.3 98.8,65.0 98.9,66.6 99.0,68.3 99.1,69.8 99.3,71.4 99.4,73.0 99.5,74.5 99.7,76.1 99.8,77.3 99.9,76.0 100.1,74.7 100.2,73.5 100.3,72.2 100.5,70.9 100.6,69.7 100.7,68.4 100.9,67.1 101.0,65.7 101.1,64.4 101.3,63.1 101.4,61.7 101.5,60.4 101.7,59.1 101.8,57.9 101.9,59.5 102.1,61.2 102.2,62.8 102.3,64.4 102.5,66.0 102.6,67.7 102.7,69.2 102.9,70.7 103.0,72.2 103.1,73.7 103.3,75.3 103.4,76.8 103.5,76.3 103.6,75.0 103.8,73.8 103.9,72.6 104.0,71.3 104.2,70.1 104.3,68.9 104.4,67.6 104.6,66.3 104.7,65.0 104.8,63.7 105.0,62.4 105.1,61.1 105.2,59.8 105.4,58.5 105.5,59.1 105.6,60.7 105.8,62.3 105.9,63.9 106.0,65.5 106.2,67.1 106.3,68.6 106.4,70.1 106.6,71.5 106.7,73.0 106.8,74.5 107.0,75.9 107.1,76.5 107.2,75.3 107.4,74.1 107.5,72.9 107.6,71.7 107.8,70.5 107.9,69.3 108.0,68.1 108.2,66.8 108.3,65.6 108.4,64.3 108.5,63.1 108.7,61.8 108.8,60.6 108.9,59.3 109.1,58.8 109.2,60.4 109.3,61.9 109.5,63.5 109.6,65.0 109.7,66.5 109.9,68.0 110.0,69.4 110.1,70.9 110.3,72.3 110.4,73.7 110.5,75.1 110.7,76.5 110.8,75.5 110.9,74.3 111.1,73.1 111.2,72.0 111.3,70.8 111.5,69.7 111.6,68.5 111.7,67.3 111.9,66.1 112.0,64.9 112.1,63.7 112.3,62.5 112.4,61.3 112.5,60.1 112.7,58.9 112.8,60.1 112.9,61.6 113.0,63.1 113.2,64.5 113.3,66.0 113.4,67.5 113.6,68.9 113.7,70.3 113.8,71.6 114.0,73.0 114.1,74.4 114.2,75.7 114.4,75.6 114.5,74.5 114.6,73.4 114.8,72.2 114.9,71.1 115.0,70.0 115.2,68.9 115.3,67.8 115.4,66.6 115.6,65.4 115.7,64.2 115.8,63.1 116.0,61.9 116.1,60.8 116.2,59.6 116.4,59.8 116.5,61.3 116.6,62.7 116.8,64.1 116.9,65.6 117.0,67.0 117.2,68.4 117.3,69.7 117.4,71.0 117.5,72.3 117.7,73.7 117.8,75.0 117.9,75.7 118.1,74.6 118.2,73.6 118.3,72.5 118.5,71.4 118.6,70.3 118.7,69.2 118.9,68.2 119.0,67.0 119.1,65.9 119.3,64.8 119.4,63.7 119.5,62.5 119.7,61.4 119.8,60.3 119.9,59.6 120.1,61.0 120.2,62.4 120.3,63.8 120.5,65.2 120.6,66.5 120.7,67.9 120.9,69.2 121.0,70.5 121.1,71.7 121.3,73.0 121.4,74.3 121.5,75.6 121.7,74.8 121.8,73.7 121.9,72.7 122.0,71.6 122.2,70.6 122.3,69.6 122.4,68.5 122.6,67.5 122.7,66.4 122.8,65.3 123.0,64.2 123.1,63.1 123.2,62.0 123.4,60.9 123.5,59.8 123.6,60.8 123.8,62.1 123.9,63.5 124.0,64.8 124.2,66.1 124.3,67.4 124.4,68.7 124.6,70.0 124.7,71.2 124.8,72.4 125.0,73.7 125.1,74.9 125.2,74.9 125.4,73.9 125.5,72.9 125.6,71.9 125.8,70.9 125.9,69.8 126.0,68.8 126.2,67.8 126.3,66.8 126.4,65.7 126.6,64.6 126.7,63.6 126.8,62.5 126.9,61.5 127.1,60.4 127.2,60.6 127.3,61.9 127.5,63.2 127.6,64.4 127.7,65.7 127.9,67.0 128.0,68.3 128.1,69.5 128.3,70.7 128.4,71.9 128.5,73.1 128.7,74.3 128.8,75.0 128.9,74.0 129.1,73.0 129.2,72.1 129.3,71.1 129.5,70.1 129.6,69.1 129.7,68.2 129.9,67.1 130.0,66.1 130.1,65.1 130.3,64.1 130.4,63.1 130.5,62.0 130.7,61.0 130.8,60.4 130.9,61.7 131.1,62.9 131.2,64.2 131.3,65.4 131.4,66.6 131.6,67.9 131.7,69.0 131.8,70.2 132.0,71.4 132.1,72.5 132.2,73.7 132.4,74.8 132.5,74.1 132.6,73.2 132.8,72.2 132.9,71.3 133.0,70.3 133.2,69.4 133.3,68.4 133.4,67.5 133.6,66.5 133.7,65.5 133.8,64.5 134.0,63.6 134.1,62.6 134.2,61.6 134.4,60.7 134.5,61.5 134.6,62.7 134.8,63.9 134.9,65.1 135.0,66.3 135.2,67.5 135.3,68.6 135.4,69.8 135.6,70.9 135.7,72.0 135.8,73.0 135.9,74.1 136.1,74.1 136.2,73.2 136.3,72.3 136.5,71.4 136.6,70.5 136.7,69.6 136.9,68.7 137.0,67.8 137.1,66.8 137.3,65.9 137.4,65.0 137.5,64.0 137.7,63.1 137.8,62.2 137.9,61.3 138.1,61.6 138.2,62.7 138.3,63.8 138.5,65.0 138.6,66.1 138.7,67.2 138.9,68.3 139.0,69.4 139.1,70.4 139.3,71.5 139.4,72.5 139.5,73.5 139.7,74.0 139.8,73.1 139.9,72.2 140.1,71.4 140.2,70.5 140.3,69.7 140.4,68.8 140.6,68.0 140.7,67.1 140.8,66.2 141.0,65.4 141.1,64.5 141.2,63.6 141.4,62.7 141.5,61.9 141.6,61.7 141.8,62.7 141.9,63.8 142.0,64.9 142.2,66.0 142.3,67.0 142.4,68.1 142.6,69.1 142.7,70.0 142.8,71.0 143.0,72.0 143.1,73.0 143.2,73.8 143.4,72.9 143.5,72.1 143.6,71.3 143.8,70.5 143.9,69.7 144.0,68.9 144.2,68.2 144.3,67.3 144.4,66.5 144.6,65.7 144.7,64.9 144.8,64.0 145.0,63.2 145.1,62.4 145.2,61.9 145.3,62.9 145.5,63.9 145.6,64.9 145.7,65.9 145.9,66.9 146.0,67.9 146.1,68.8 146.3,69.7 146.4,70.7 146.5,71.6 146.7,72.5 146.8,73.4 146.9,72.7 147.1,72.0 147.2,71.2 147.3,70.4 147.5,69.7 147.6,68.9 147.7,68.2 147.9,67.4 148.0,66.6 148.1,65.8 148.3,65.1 148.4,64.3 148.5,63.5 148.7,62.7 148.8,62.3 148.9,63.3 149.1,64.2 149.2,65.2 149.3,66.2 149.5,67.1 149.6,68.0 149.7,68.9 149.8,69.8 150.0,70.7 150.1,71.6 150.2,72.5 150.4,72.9 150.5,72.2 150.6,71.4 150.8,70.7 150.9,70.0 151.0,69.3 151.2,68.5 151.3,67.8 151.4,67.1 151.6,66.3 151.7,65.6 151.8,64.8 152.0,64.1 152.1,63.3 152.2,62.6 152.4,63.2 152.5,64.2 152.6,65.1 152.8,66.0 152.9,66.9 153.0,67.8 153.2,68.7 153.3,69.5 153.4,70.4 153.6,71.2 153.7,72.1 153.8,72.7 154.0,72.0 154.1,71.3 154.2,70.6 154.3,69.9 154.5,69.2 154.6,68.5 154.7,67.8 154.9,67.1 155.0,66.3 155.1,65.6 155.3,64.9 155.4,64.2 155.5,63.4 155.7,62.7 155.8,63.6 155.9,64.5 156.1,65.4 156.2,66.3 156.3,67.2 156.5,68.1 156.6,68.9 156.7,69.7 156.9,70.6 157.0,71.4 157.1,72.2 157.3,72.2 157.4,71.5 157.5,70.8 157.7,70.1 157.8,69.5 157.9,68.8 158.1,68.1 158.2,67.4 158.3,66.7 158.5,66.0 158.6,65.3 158.7,64.6 158.9,63.9"/>
<polyline fill="none" stroke="#D95319" stroke-width="1.15" stroke-linejoin="round" stroke-linecap="round" points="0.0,62.9 0.1,64.3 0.3,65.7 0.4,67.0 0.5,68.4 0.7,69.7 0.8,71.0 0.9,72.3 1.1,73.6 1.2,74.9 1.3,75.8 1.5,74.7 1.6,73.7 1.7,72.6 1.9,71.6 2.0,70.5 2.1,69.4 2.3,68.4 2.4,67.3 2.5,66.1 2.6,65.0 2.8,63.8 2.9,62.7 3.0,61.6 3.2,60.4 3.3,59.2 3.4,60.3 3.6,61.7 3.7,63.1 3.8,64.5 4.0,65.9 4.1,67.3 4.2,68.7 4.4,70.0 4.5,71.3 4.6,72.5 4.8,73.7 4.9,74.6 5.0,74.1 5.2,72.2 5.3,70.3 5.4,68.8 5.6,67.7 5.7,66.9 5.8,66.3 6.0,65.8 6.1,66.7 6.2,67.5 6.4,68.3 6.5,69.2 6.6,70.0 6.8,68.5 6.9,67.1 7.0,65.6 7.1,64.4 7.3,63.2 7.4,62.8 7.5,62.5 7.7,62.1 7.8,61.7 7.9,69.3 8.1,76.9 8.2,84.5 8.3,92.1 8.5,85.2 8.6,78.2 8.7,71.1 8.9,63.9 9.0,56.7 9.1,49.5 9.3,48.6 9.4,54.0 9.5,59.4 9.7,64.9 9.8,70.3 9.9,75.7 10.1,72.6 10.2,69.4 10.3,66.2 10.5,63.1 10.6,67.8 10.7,72.6 10.9,77.5 11.0,82.5 11.1,82.8 11.3,78.5 11.4,74.2 11.5,69.9 11.6,65.6 11.8,61.3 11.9,57.0 12.0,56.5 12.2,59.9 12.3,63.4 12.4,66.8 12.6,70.1 12.7,73.6"/>
<polyline fill="none" stroke="#D95319" stroke-width="1.45" stroke-linejoin="round" stroke-linecap="round" points="12.6,70.1 12.7,73.6 12.8,74.9 13.0,73.9 13.1,72.5 13.2,70.8 13.4,68.9 13.5,66.8 13.6,65.1 13.8,63.8 13.9,62.6 14.0,61.3 14.2,60.0 14.3,58.8 14.4,59.4 14.6,60.9 14.7,62.4 14.8,63.9 15.0,65.5 15.1,67.0 15.2,68.5 15.4,69.9 15.5,71.4 15.6,72.8 15.8,74.3 15.9,75.7 16.0,76.7 16.1,75.5 16.3,74.3 16.4,73.1 16.5,71.9 16.7,70.7 16.8,69.5 16.9,68.3 17.1,67.1 17.2,65.8 17.3,64.6 17.5,63.3 17.6,62.0 17.7,60.7 17.9,59.4 18.0,58.1 18.1,59.6 18.3,61.2 18.4,62.7 18.5,64.3 18.7,65.9 18.8,67.4 18.9,68.9 19.1,70.4 19.2,71.9 19.3,73.4 19.5,74.9 19.6,76.4 19.7,76.5 19.9,75.3 20.0,74.1 20.1,72.9 20.3,71.7 20.4,70.4 20.5,69.2 20.7,68.0 20.8,66.7 20.9,65.4 21.0,64.1 21.2,62.7 21.3,61.4 21.4,60.1 21.6,58.8 21.7,58.3 21.8,59.9 22.0,61.5 22.1,63.1 22.2,64.7 22.4,66.3 22.5,67.9 22.6,69.5 22.8,71.0 22.9,72.5 23.0,74.0 23.2,75.6 23.3,77.1 23.4,76.3 23.6,75.1 23.7,73.9 23.8,72.6 24.0,71.3 24.1,70.1 24.2,68.8 24.4,67.6 24.5,66.2 24.6,64.9 24.8,63.5 24.9,62.2 25.0,60.8 25.2,59.5 25.3,58.1 25.4,58.6 25.5,60.2 25.7,61.9 25.8,63.5 25.9,65.2 26.1,66.8 26.2,68.5 26.3,70.0 26.5,71.6 26.6,73.2 26.7,74.7 26.9,76.3 27.0,77.4 27.1,76.1 27.3,74.8 27.4,73.6 27.5,72.3 27.7,71.0 27.8,69.7 27.9,68.4 28.1,67.1 28.2,65.7 28.3,64.3 28.5,63.0 28.6,61.6 28.7,60.2 28.9,58.8 29.0,57.5 29.1,59.0 29.3,60.7 29.4,62.4 29.5,64.1 29.7,65.7 29.8,67.4 29.9,69.0 30.0,70.6 30.2,72.2 30.3,73.8 30.4,75.4 30.6,77.0 30.7,77.1 30.8,75.8 31.0,74.5 31.1,73.2 31.2,71.9 31.4,70.6 31.5,69.3 31.6,67.9 31.8,66.6 31.9,65.2 32.0,63.8 32.2,62.4 32.3,61.0 32.4,59.6 32.6,58.2 32.7,57.8 32.8,59.5 33.0,61.2 33.1,62.9 33.2,64.6 33.4,66.3 33.5,68.0 33.6,69.6 33.8,71.3 33.9,72.9 34.0,74.5 34.2,76.1 34.3,77.7 34.4,76.7 34.5,75.4 34.7,74.1 34.8,72.8 34.9,71.4 35.1,70.1 35.2,68.8 35.3,67.4 35.5,66.0 35.6,64.6 35.7,63.2 35.9,61.8 36.0,60.3 36.1,58.9 36.3,57.5 36.4,58.3 36.5,60.0 36.7,61.8 36.8,63.5 36.9,65.2 37.1,67.0 37.2,68.7 37.3,70.3 37.5,71.9 37.6,73.6 37.7,75.2 37.9,76.9 38.0,77.7 38.1,76.3 38.3,75.0 38.4,73.6 38.5,72.3 38.7,71.0 38.8,69.6 38.9,68.3 39.1,66.8 39.2,65.4 39.3,64.0 39.4,62.5 39.6,61.1 39.7,59.7 39.8,58.2 40.0,57.1 40.1,58.9 40.2,60.6 40.4,62.4 40.5,64.2 40.6,65.9 40.8,67.7 40.9,69.3 41.0,71.0 41.2,72.7 41.3,74.3 41.4,76.0 41.6,77.7 41.7,77.2 41.8,75.9 42.0,74.5 42.1,73.2 42.2,71.8 42.4,70.4 42.5,69.1 42.6,67.7 42.8,66.2 42.9,64.8 43.0,63.3 43.2,61.9 43.3,60.4 43.4,58.9 43.6,57.5 43.7,57.7 43.8,59.5 43.9,61.3 44.1,63.1 44.2,64.8 44.3,66.6 44.5,68.4 44.6,70.1 44.7,71.8 44.9,73.5 45.0,75.1 45.1,76.8 45.3,78.2 45.4,76.8 45.5,75.4 45.7,74.0 45.8,72.6 45.9,71.3 46.1,69.9 46.2,68.5 46.3,67.1 46.5,65.6 46.6,64.1 46.7,62.6 46.9,61.1 47.0,59.7 47.1,58.2 47.3,56.7 47.4,58.4 47.5,60.2 47.7,62.0 47.8,63.8 47.9,65.6 48.1,67.4 48.2,69.1 48.3,70.8 48.4,72.6 48.6,74.3 48.7,76.0 48.8,77.7 49.0,77.6 49.1,76.3 49.2,74.9 49.4,73.5 49.5,72.1 49.6,70.7 49.8,69.3 49.9,67.9 50.0,66.4 50.2,64.9 50.3,63.4 50.4,61.9 50.6,60.4 50.7,58.9 50.8,57.5 51.0,57.3 51.1,59.1 51.2,61.0 51.4,62.8 51.5,64.6 51.6,66.4 51.8,68.2 51.9,69.9 52.0,71.7 52.2,73.4 52.3,75.1 52.4,76.8 52.6,78.4 52.7,77.0 52.8,75.6 53.0,74.2 53.1,72.8 53.2,71.4 53.3,70.0 53.5,68.6 53.6,67.1 53.7,65.7 53.9,64.2 54.0,62.7 54.1,61.2 54.3,59.7 54.4,58.2 54.5,56.8 54.7,58.2 54.8,60.1 54.9,61.9 55.1,63.7 55.2,65.5 55.3,67.4 55.5,69.1 55.6,70.9 55.7,72.6 55.9,74.3 56.0,76.0 56.1,77.6 56.3,77.7 56.4,76.2 56.5,74.8 56.7,73.4 56.8,72.0 56.9,70.6 57.1,69.2 57.2,67.7 57.3,66.2 57.5,64.7 57.6,63.2 57.7,61.7 57.8,60.3 58.0,58.9 58.1,57.8 58.2,57.8 58.4,59.6 58.5,61.4 58.6,63.3 58.8,65.1 58.9,66.9 59.0,68.7 59.2,70.4 59.3,72.1 59.4,73.8 59.6,75.6 59.7,76.7 59.8,77.5 60.0,76.2 60.1,74.8 60.2,73.4 60.4,72.0 60.5,70.6 60.6,69.2 60.8,67.7 60.9,66.3 61.0,64.8 61.2,63.4 61.3,61.9 61.4,60.5 61.6,59.0 61.7,58.6 61.8,58.7 62.0,60.2 62.1,62.0 62.2,63.8 62.3,65.6 62.5,67.3 62.6,69.0 62.7,70.6 62.9,72.3 63.0,73.9 63.1,75.5 63.3,76.4 63.4,76.3 63.5,75.4 63.7,74.1 63.8,72.7 63.9,71.4 64.1,70.1 64.2,68.8 64.3,67.4 64.5,66.1 64.6,64.7 64.7,63.3 64.9,62.0 65.0,60.6 65.1,59.2 65.3,58.6 65.4,59.4 65.5,60.8 65.7,62.5 65.8,64.1 65.9,65.8 66.1,67.4 66.2,69.0 66.3,70.6 66.5,72.1 66.6,73.7 66.7,75.2 66.8,76.7 67.0,76.3 67.1,75.3 67.2,74.0 67.4,72.7 67.5,71.5 67.6,70.2 67.8,69.0 67.9,67.7 68.0,66.3 68.2,65.0 68.3,63.7 68.4,62.4 68.6,61.0 68.7,59.7 68.8,58.4 69.0,59.0 69.1,60.5 69.2,62.1 69.4,63.7 69.5,65.3 69.6,66.9 69.8,68.5 69.9,70.0 70.0,71.6 70.2,73.1 70.3,74.6 70.4,76.1 70.6,76.5 70.7,75.6 70.8,74.4 71.0,73.2 71.1,71.9 71.2,70.7 71.4,69.4 71.5,68.2 71.6,66.9 71.7,65.6 71.9,64.3 72.0,62.9 72.1,61.6 72.3,60.3 72.4,59.0 72.5,58.6 72.7,59.8 72.8,61.4 72.9,63.0 73.1,64.6 73.2,66.3 73.3,67.8 73.5,69.4 73.6,70.9 73.7,72.4 73.9,73.9 74.0,75.4 74.1,76.7 74.3,76.1 74.4,74.9 74.5,73.7 74.7,72.4 74.8,71.2 74.9,70.0 75.1,68.7 75.2,67.5 75.3,66.2 75.5,64.9 75.6,63.5 75.7,62.2 75.9,60.9 76.0,59.6 76.1,58.3 76.2,59.2 76.4,60.7 76.5,62.3 76.6,63.9 76.8,65.5 76.9,67.1 77.0,68.7 77.2,70.2 77.3,71.7 77.4,73.2 77.6,74.7 77.7,76.2 77.8,76.4 78.0,75.4 78.1,74.2 78.2,73.0 78.4,71.7 78.5,70.5 78.6,69.3 78.8,68.0 78.9,66.8 79.0,65.5 79.2,64.1 79.3,62.8 79.4,61.5 79.6,60.2 79.7,58.9 79.8,58.8 80.0,60.1 80.1,61.7 80.2,63.3 80.4,64.9 80.5,66.4 80.6,68.0 80.7,69.5 80.9,71.0 81.0,72.5 81.1,74.0 81.3,75.5 81.4,76.6 81.5,75.9 81.7,74.7 81.8,73.4 81.9,72.2 82.1,71.0 82.2,69.8 82.3,68.6 82.5,67.3 82.6,66.1 82.7,64.8 82.9,63.5 83.0,62.2 83.1,60.9 83.3,59.6 83.4,58.6 83.5,59.5 83.7,61.1 83.8,62.7 83.9,64.2 84.1,65.8 84.2,67.4 84.3,68.8 84.5,70.3 84.6,71.8 84.7,73.2 84.9,74.7 85.0,76.2 85.1,76.1 85.2,75.1 85.4,73.9 85.5,72.7 85.6,71.5 85.8,70.3 85.9,69.1 86.0,67.9 86.2,66.6 86.3,65.4 86.4,64.1 86.6,62.8 86.7,61.6 86.8,60.3 87.0,59.1 87.1,59.2 87.2,60.6 87.4,62.1 87.5,63.6 87.6,65.2 87.8,66.7 87.9,68.2 88.0,69.7 88.2,71.1 88.3,72.5 88.4,74.0 88.6,75.4 88.7,76.2 88.8,75.4 89.0,74.3 89.1,73.1 89.2,71.9 89.4,70.7 89.5,69.6 89.6,68.4 89.8,67.2 89.9,65.9 90.0,64.7 90.1,63.5 90.3,62.2 90.4,61.0 90.5,59.7 90.7,59.0 90.8,60.0 90.9,61.6 91.1,63.1 91.2,64.6 91.3,66.1 91.5,67.6 91.6,69.0 91.7,70.5 91.9,71.9 92.0,73.3 92.1,74.7 92.3,76.1 92.4,75.7 92.5,74.6 92.7,73.5 92.8,72.3 92.9,71.2 93.1,70.0 93.2,68.9 93.3,67.7 93.5,66.5 93.6,65.3 93.7,64.0 93.9,62.8 94.0,61.6 94.1,60.4 94.3,59.2 94.4,59.7 94.5,61.1 94.6,62.6 94.8,64.1 94.9,65.5 95.0,67.0 95.2,68.4 95.3,69.8 95.4,71.2 95.6,72.6 95.7,74.0 95.8,75.3 96.0,75.7 96.1,74.9 96.2,73.8 96.4,72.7 96.5,71.5 96.6,70.4 96.8,69.3 96.9,68.2 97.0,67.0 97.2,65.8 97.3,64.6 97.4,63.4 97.6,62.3 97.7,61.1 97.8,59.9 98.0,59.6 98.1,60.7 98.2,62.1 98.4,63.6 98.5,65.0 98.6,66.5 98.8,67.9 98.9,69.2 99.0,70.6 99.1,71.9 99.3,73.3 99.4,74.6 99.5,75.7 99.7,75.2 99.8,74.1 99.9,73.0 100.1,71.9 100.2,70.8 100.3,69.7 100.5,68.6 100.6,67.5 100.7,66.3 100.9,65.2 101.0,64.0 101.1,62.9 101.3,61.7 101.4,60.6 101.5,59.5 101.7,60.3 101.8,61.7 101.9,63.1 102.1,64.5 102.2,65.9 102.3,67.3 102.5,68.7 102.6,70.0 102.7,71.3 102.9,72.6 103.0,73.9 103.1,75.2 103.3,75.2 103.4,74.3 103.5,73.2 103.6,72.2 103.8,71.1 103.9,70.0 104.0,69.0 104.2,67.9 104.3,66.8 104.4,65.7 104.6,64.6 104.7,63.4 104.8,62.3 105.0,61.2 105.1,60.1 105.2,60.2 105.4,61.4 105.5,62.8 105.6,64.1 105.8,65.5 105.9,66.8 106.0,68.2 106.2,69.4 106.3,70.7 106.4,72.0 106.6,73.2 106.7,74.5 106.8,75.2 107.0,74.5 107.1,73.5 107.2,72.4 107.4,71.4 107.5,70.4 107.6,69.3 107.8,68.3 107.9,67.2 108.0,66.2 108.2,65.1 108.3,64.0 108.4,62.9 108.5,61.9 108.7,60.8 108.8,60.2 108.9,61.1 109.1,62.4 109.2,63.7 109.3,65.1 109.5,66.4 109.6,67.7 109.7,68.9 109.9,70.1 110.0,71.4 110.1,72.6 110.3,73.8 110.4,75.0 110.5,74.6 110.7,73.7 110.8,72.6 110.9,71.6 111.1,70.6 111.2,69.7 111.3,68.7 111.5,67.7 111.6,66.6 111.7,65.6 111.9,64.5 112.0,63.5 112.1,62.4 112.3,61.4 112.4,60.4 112.5,60.9 112.7,62.1 112.8,63.4 112.9,64.7 113.0,66.0 113.2,67.2 113.3,68.4 113.4,69.6 113.6,70.8 113.7,72.0 113.8,73.2 114.0,74.3 114.1,74.6 114.2,73.8 114.4,72.8 114.5,71.9 114.6,70.9 114.8,69.9 114.9,69.0 115.0,68.0 115.2,67.0 115.3,66.0 115.4,65.0 115.6,64.0 115.7,63.0 115.8,62.0 116.0,61.0 116.1,60.9 116.2,61.9 116.4,63.1 116.5,64.4 116.6,65.6 116.8,66.8 116.9,68.0 117.0,69.2 117.2,70.3 117.3,71.4 117.4,72.6 117.5,73.7 117.7,74.5 117.8,73.9 117.9,73.0 118.1,72.1 118.2,71.1 118.3,70.2 118.5,69.3 118.6,68.3 118.7,67.4 118.9,66.4 119.0,65.5 119.1,64.5 119.3,63.5 119.4,62.6 119.5,61.6 119.7,60.9 119.8,61.7 119.9,62.9 120.1,64.1 120.2,65.2 120.3,66.4 120.5,67.6 120.6,68.7 120.7,69.8 120.9,70.9 121.0,72.0 121.1,73.1 121.3,74.2 121.4,74.0 121.5,73.1 121.7,72.2 121.8,71.3 121.9,70.4 122.0,69.5 122.2,68.6 122.3,67.7 122.4,66.8 122.6,65.9 122.7,64.9 122.8,64.0 123.0,63.0 123.1,62.1 123.2,61.2 123.4,61.6 123.5,62.6 123.6,63.8 123.8,64.9 123.9,66.1 124.0,67.2 124.2,68.3 124.3,69.4 124.4,70.5 124.6,71.5 124.7,72.6 124.8,73.6 125.0,73.9 125.1,73.3 125.2,72.4 125.4,71.5 125.5,70.6 125.6,69.8 125.8,68.9 125.9,68.0 126.0,67.1 126.2,66.2 126.3,65.3 126.4,64.4 126.6,63.5 126.7,62.6 126.8,61.7 126.9,61.6 127.1,62.4 127.2,63.5 127.3,64.6 127.5,65.8 127.6,66.9 127.7,67.9 127.9,69.0 128.0,70.0 128.1,71.1 128.3,72.1 128.4,73.1 128.5,73.8 128.7,73.4 128.8,72.5 128.9,71.7 129.1,70.8 129.2,70.0 129.3,69.2 129.5,68.3 129.6,67.5 129.7,66.6 129.9,65.7 130.0,64.8 130.1,63.9 130.3,63.1 130.4,62.2 130.5,61.6 130.7,62.3 130.8,63.3 130.9,64.4 131.1,65.5 131.2,66.5 131.3,67.6 131.4,68.6 131.6,69.6 131.7,70.6 131.8,71.6 132.0,72.6 132.1,73.6 132.2,73.4 132.4,72.6 132.5,71.8 132.6,71.0 132.8,70.2 132.9,69.4 133.0,68.6 133.2,67.7 133.3,66.9 133.4,66.1 133.6,65.2 133.7,64.4 133.8,63.5 134.0,62.7 134.1,61.9 134.2,62.2 134.4,63.2 134.5,64.2 134.6,65.3 134.8,66.3 134.9,67.3 135.0,68.3 135.2,69.2 135.3,70.2 135.4,71.1 135.6,72.1 135.7,73.0 135.8,73.2 135.9,72.6 136.1,71.8 136.2,71.1 136.3,70.3 136.5,69.5 136.6,68.7 136.7,68.0 136.9,67.2 137.0,66.4 137.1,65.6 137.3,64.8 137.4,64.0 137.5,63.2 137.7,62.4 137.8,62.4 137.9,63.2 138.1,64.2 138.2,65.1 138.3,66.1 138.5,67.1 138.6,68.0 138.7,68.9 138.9,69.8 139.0,70.7 139.1,71.6 139.3,72.5 139.4,73.0 139.5,72.5 139.7,71.8 139.8,71.1 139.9,70.3 140.1,69.6 140.2,68.9 140.3,68.2 140.4,67.4 140.6,66.7 140.7,65.9 140.8,65.1 141.0,64.4 141.1,63.6 141.2,62.9 141.4,62.6 141.5,63.2 141.6,64.1 141.8,65.1 141.9,66.0 142.0,66.9 142.2,67.8 142.3,68.7 142.4,69.5 142.6,70.4 142.7,71.2 142.8,72.0 143.0,72.8 143.1,72.4 143.2,71.7 143.4,71.0 143.5,70.4 143.6,69.7 143.8,69.0 143.9,68.3 144.0,67.6 144.2,66.9 144.3,66.2 144.4,65.5 144.6,64.8 144.7,64.1 144.8,63.4 145.0,62.8 145.1,63.3 145.2,64.2 145.3,65.0 145.5,65.9 145.6,66.7 145.7,67.6 145.9,68.4 146.0,69.2 146.1,70.0 146.3,70.8 146.4,71.6 146.5,72.4 146.7,72.2 146.8,71.7 146.9,71.0 147.1,70.4 147.2,69.7 147.3,69.1 147.5,68.4 147.6,67.8 147.7,67.1 147.9,66.4 148.0,65.7 148.1,65.0 148.3,64.4 148.4,63.7 148.5,63.2 148.7,63.6 148.8,64.2 148.9,65.0 149.1,65.9 149.2,66.7 149.3,67.5 149.5,68.3 149.6,69.1 149.7,69.9 149.8,70.6 150.0,71.4 150.1,72.0 150.2,71.9 150.4,71.6 150.5,71.0 150.6,70.3 150.8,69.7 150.9,69.1 151.0,68.4 151.2,67.8 151.3,67.1 151.4,66.5 151.6,65.8 151.7,65.1 151.8,64.4 152.0,63.8 152.1,63.5 152.2,63.5 152.4,64.2 152.5,65.0 152.6,65.9 152.8,66.7 152.9,67.5 153.0,68.3 153.2,69.1 153.3,69.9 153.4,70.7 153.6,71.5 153.7,71.9 153.8,72.2 154.0,71.5 154.1,70.9 154.2,70.2 154.3,69.6 154.5,68.9 154.6,68.2 154.7,67.6 154.9,66.9 155.0,66.2 155.1,65.5 155.3,64.8 155.4,64.1 155.5,63.5 155.7,63.0 155.8,63.9 155.9,64.8 156.1,65.6 156.2,66.5 156.3,67.4 156.5,68.2 156.6,69.0 156.7,69.8 156.9,70.6 157.0,71.4 157.1,72.1 157.3,72.1 157.4,71.4 157.5,70.7 157.7,70.0 157.8,69.4 157.9,68.7 158.1,68.1 158.2,67.4 158.3,66.7 158.5,66.1 158.6,65.5 158.7,65.0 158.9,64.5 159.0,63.7"/>
<polyline fill="none" stroke="#D95319" stroke-width="1.15" stroke-linejoin="round" stroke-linecap="round" points="158.9,64.5 159.0,63.7 159.1,63.8 159.2,64.2 159.4,64.5 159.5,64.7 159.6,64.7 159.8,64.6 159.9,64.4 160.0,64.0 160.2,63.6 160.3,63.1 160.4,62.6 160.6,62.1 160.7,61.5 160.8,61.0 161.0,60.5 161.1,60.1 161.2,60.9 161.4,61.7 161.5,62.5 161.6,63.3 161.8,64.1 161.9,64.9 162.0,65.7 162.2,66.5 162.3,67.3 162.4,68.1 162.6,68.9 162.7,69.7 162.8,70.5 163.0,70.0 163.1,67.8 163.2,65.5 163.4,63.2 163.5,60.9 163.6,58.6 163.7,56.4 163.9,54.1 164.0,51.8 164.1,49.5 164.3,53.1 164.4,58.1 164.5,63.2 164.7,68.2 164.8,73.3 164.9,78.3 165.1,83.4 165.2,79.7 165.3,75.4 165.5,71.0 165.6,66.7 165.7,62.4 165.9,58.1 166.0,53.8 166.1,49.4 166.3,50.3 166.4,53.5 166.5,56.6 166.7,59.7 166.8,62.9 166.9,66.0 167.1,69.1 167.2,72.3 167.3,75.4 167.5,78.0 167.6,75.9 167.7,73.8 167.9,71.7 168.0,69.5 168.1,67.4 168.2,65.3 168.4,64.3 168.5,67.3 168.6,70.2 168.8,73.1 168.9,76.0 169.0,79.0 169.2,81.9 169.3,81.1 169.4,74.2 169.6,67.3 169.7,60.4 169.8,53.5 170.0,46.6 170.1,39.7 170.2,38.9 170.4,43.9 170.5,49.0 170.6,54.0 170.8,59.1 170.9,64.1 171.0,69.2 171.2,69.9 171.3,68.3 171.4,66.7 171.6,65.1 171.7,63.5 171.8,61.9 172.0,60.3 172.1,62.5 172.2,65.7 172.4,68.9 172.5,72.1 172.6,75.3 172.7,78.5 172.9,81.7 173.0,80.4 173.1,78.8 173.3,77.2 173.4,75.6 173.5,74.0 173.7,72.4 173.8,71.1 173.9,73.4 174.1,75.7 174.2,77.9 174.3,80.2 174.5,82.5 174.6,84.8 174.7,87.1 174.9,89.3 175.0,91.6 175.1,90.7 175.3,86.0 175.4,81.4 175.5,76.7 175.7,72.1 175.8,67.4 175.9,62.8 176.1,58.1 176.2,54.9 176.3,56.4 176.5,57.9 176.6,59.4 176.7,61.0 176.9,62.5 177.0,64.0 177.1,65.5 177.3,67.0 177.4,68.6 177.5,68.5 177.6,67.4 177.8,66.3 177.9,65.3 178.0,64.2 178.2,63.1 178.3,62.1 178.4,62.2 178.6,62.7 178.7,63.2 178.8,63.7 179.0,64.2 179.1,64.7 179.2,65.2 179.4,65.7 179.5,66.2 179.6,66.7 179.8,67.2 179.9,68.2 180.0,69.3 180.2,70.5 180.3,71.6 180.4,72.8 180.6,73.9 180.7,75.0 180.8,76.2 181.0,77.3 181.1,77.8 181.2,75.0 181.4,72.2 181.5,69.5 181.6,66.7 181.8,64.0 181.9,61.2 182.0,58.5 182.1,55.7 182.3,53.0 182.4,51.6 182.5,51.1 182.7,50.7 182.8,50.3 182.9,49.9 183.1,49.5 183.2,49.1 183.3,48.7 183.5,48.2 183.6,47.8 183.7,47.4 183.9,47.6 184.0,48.1 184.1,48.6 184.3,49.2 184.4,49.7 184.5,50.2 184.7,50.7 184.8,51.3 184.9,51.8 185.1,52.3 185.2,52.9 185.3,53.4 185.5,53.9 185.6,54.5 185.7,54.9 185.9,55.3 186.0,55.7 186.1,56.1 186.3,56.5 186.4,56.9 186.5,57.3 186.6,57.7 186.8,58.1 186.9,58.5 187.0,58.9 187.2,59.3 187.3,59.7 187.4,60.1 187.6,60.6 187.7,61.1 187.8,61.6 188.0,62.1 188.1,62.6 188.2,63.1 188.4,63.6 188.5,64.1 188.6,64.6 188.8,65.1 188.9,66.0 189.0,68.9 189.2,71.8 189.3,74.8 189.4,77.7 189.6,80.6 189.7,83.5 189.8,84.6 190.0,81.7 190.1,78.8 190.2,75.9 190.4,72.9 190.5,70.0 190.6,67.1 190.8,66.6 190.9,69.0 191.0,71.3 191.1,73.7 191.3,76.1 191.4,78.5 191.5,80.9 191.7,78.9 191.8,73.9 191.9,68.9 192.1,63.8 192.2,58.8 192.3,53.8 192.5,48.7 192.6,43.7 192.7,38.7 192.9,33.6 193.0,39.2 193.1,44.9 193.3,50.6 193.4,56.3 193.5,62.0 193.7,67.8 193.8,72.6 193.9,71.3 194.1,70.0 194.2,68.6 194.3,67.3 194.5,66.0 194.6,64.6 194.7,64.3 194.9,66.5 195.0,68.8 195.1,71.1 195.3,73.4 195.4,75.6 195.5,77.9 195.7,80.2 195.8,82.5 195.9,84.8 196.0,81.9 196.2,76.4 196.3,70.8 196.4,65.3 196.6,59.8 196.7,54.2 196.8,48.7 197.0,43.1 197.1,41.4 197.2,44.8 197.4,48.2 197.5,51.6 197.6,55.1 197.8,58.5 197.9,61.9 198.0,65.3 198.2,68.7 198.3,72.2 198.4,72.6 198.6,72.3 198.7,72.0 198.8,71.8 199.0,71.5 199.1,71.2 199.2,71.0 199.4,70.7 199.5,70.4 199.6,70.2 199.8,69.9 199.9,69.6 200.0,69.4 200.2,69.1 200.3,68.9 200.4,68.8 200.5,68.6 200.7,68.5 200.8,68.3 200.9,68.1 201.1,68.0 201.2,67.8 201.3,67.7 201.5,67.6 201.6,67.5 201.7,67.5 201.9,67.3 202.0,67.2 202.1,67.3 202.3,67.2 202.4,67.2 202.5,67.0 202.7,66.8 202.8,66.6 202.9,66.3 203.1,65.9 203.2,65.5 203.3,65.9 203.5,66.4 203.6,66.8 203.7,67.3 203.9,67.8 204.0,68.3 204.1,68.8 204.3,69.3 204.4,69.8 204.5,69.5 204.7,69.1 204.8,68.7 204.9,68.4 205.0,68.0 205.2,67.6 205.3,67.3 205.4,66.9 205.6,66.5 205.7,66.2 205.8,65.9 206.0,66.4 206.1,66.8 206.2,67.3 206.4,67.7 206.5,68.1 206.6,68.6 206.8,69.0 206.9,69.4 207.0,69.6 207.2,69.2 207.3,68.9 207.4,68.6 207.6,68.2 207.7,67.9 207.8,67.6 208.0,67.2 208.1,66.9 208.2,66.5 208.4,66.2 208.5,66.2 208.6,66.7 208.8,67.1 208.9,67.5 209.0,67.9 209.2,68.3 209.3,68.6 209.4,69.0 209.5,69.3 209.7,69.2 209.8,68.9 209.9,68.6 210.1,68.3 210.2,68.0 210.3,67.7 210.5,67.4 210.6,67.2 210.7,66.9 210.9,66.6 211.0,66.4 211.1,66.7 211.3,67.1 211.4,67.4 211.5,67.8 211.7,68.1 211.8,68.4"/>
</g>
<use href="#frame"/>
<text class="tk" x="0.00" y="146.10" text-anchor="middle">40</text>
<text class="tk" x="33.09" y="146.10" text-anchor="middle">45</text>
<text class="tk" x="66.19" y="146.10" text-anchor="middle">50</text>
<text class="tk" x="99.28" y="146.10" text-anchor="middle">55</text>
<text class="tk" x="132.38" y="146.10" text-anchor="middle">60</text>
<text class="tk" x="165.47" y="146.10" text-anchor="middle">65</text>
<text class="tk" x="198.56" y="146.10" text-anchor="middle">70</text>
<text class="tk" x="-2.7" y="2.90" text-anchor="end">0.1</text>
<text class="tk" x="-2.7" y="36.82" text-anchor="end">0.05</text>
<text class="tk" x="-2.7" y="70.75" text-anchor="end">0</text>
<text class="tk" x="-2.7" y="104.67" text-anchor="end">-0.05</text>
<text class="tk" x="-2.7" y="138.60" text-anchor="end">-0.1</text>
<text class="lb" x="105.90" y="154.60" text-anchor="middle">Time (<tspan font-style="italic">μ</tspan>s)</text>
<text class="lb" transform="translate(-21.9,67.85) rotate(-90)" text-anchor="middle">Amplitude</text>
<g transform="translate(92.50,6.90)">
<rect x="0" y="0" width="51.4" height="19.8" fill="#fff" stroke="#333" stroke-width="0.7"/>
<path d="M2.4,5.5 H18.8" stroke="#0072BD" stroke-width="1.1" opacity="0.72" fill="none"/>
<path d="M2.4,14.6 H18.8" stroke="#D95319" stroke-width="1.1" opacity="0.72" fill="none"/>
<text class="lg" x="20.5" y="7.9">Interfered</text>
<text class="lg" x="20.5" y="17.0">Wavelet</text>
</g>
<text class="cap" x="89.9" y="168.40" text-anchor="middle">(c)</text>
</g>
<g transform="translate(31.50,377.70)">
<use href="#ticks"/>
<g clip-path="url(#cp)">
<use href="#interf"/>
<use href="#truth" stroke="#0072BD" stroke-width="0.5"/>
<polyline fill="none" stroke="#0072BD" stroke-width="1.1" stroke-linejoin="round" points="3.3,59.2 3.4,60.3 3.6,61.7 3.7,63.1 3.8,64.5 4.0,65.9 4.1,67.3 4.2,68.7 4.4,70.0 4.5,71.4 4.6,72.7 4.8,74.0 4.9,75.4 5.0,75.8 5.2,74.7 5.3,73.6 5.4,72.5 5.6,71.4 5.7,70.3 5.8,69.2 6.0,68.1 6.1,67.0 6.2,65.8 6.4,64.6 6.5,63.4 6.6,62.3 6.8,61.1 6.9,59.9 7.0,59.1 7.1,60.5 7.3,61.9 7.4,63.4 7.5,64.8 7.7,66.2 7.8,67.7 7.9,69.1 8.1,70.4 8.2,71.8 8.3,73.2 8.5,74.5 8.6,75.9 8.7,75.7 8.9,74.6 9.0,73.5 9.1,72.3 9.3,71.2 9.4,70.1 9.5,69.0 9.7,67.8 9.8,66.6 9.9,65.4 10.1,64.2 10.2,63.0 10.3,61.8 10.5,60.6 10.6,59.4 10.7,59.2 10.9,60.7 11.0,62.1 11.1,63.6 11.3,65.1 11.4,66.6 11.5,68.1 11.6,69.5 11.8,70.9 11.9,72.3 12.0,73.7 12.2,75.1 12.3,76.5 12.4,75.6 12.6,74.5 12.7,73.3 12.8,72.1 13.0,71.0 13.1,69.8 13.2,68.7"/>
<polyline fill="none" stroke="#D95319" stroke-width="1.15" stroke-linejoin="round" stroke-linecap="round" points="0.0,62.9 0.1,64.3 0.3,65.7 0.4,67.0 0.5,68.4 0.7,69.7 0.8,71.0 0.9,72.3 1.1,73.6 1.2,74.9 1.3,75.8 1.5,74.7 1.6,73.7 1.7,72.6 1.9,71.6 2.0,70.5 2.1,69.4 2.3,68.4 2.4,67.3 2.5,66.1 2.6,65.0 2.8,63.8 2.9,62.7 3.0,61.6 3.2,60.4 3.3,59.2 3.4,60.3 3.6,61.7 3.7,63.1 3.8,64.5 4.0,65.9 4.1,67.3 4.2,68.7 4.4,70.0 4.5,71.4 4.6,72.7 4.8,74.0 4.9,75.4 5.0,75.7 5.2,74.7 5.3,73.6 5.4,72.5 5.6,71.4 5.7,70.3 5.8,69.2 6.0,68.1 6.1,67.0 6.2,65.9 6.4,64.8 6.5,63.8 6.6,63.0 6.8,62.0 6.9,61.3 7.0,60.9 7.1,62.0 7.3,62.9 7.4,63.5 7.5,63.9 7.7,63.7 7.8,62.9 7.9,62.0 8.1,61.1 8.2,60.2 8.3,59.3 8.5,58.4 8.6,57.5 8.7,60.7 8.9,63.5 9.0,66.3 9.1,69.1 9.3,71.9 9.4,74.6 9.5,77.4 9.7,80.1 9.8,82.8 9.9,85.5 10.1,86.2 10.2,80.6 10.3,75.1 10.5,69.6 10.6,64.1 10.7,58.9 10.9,61.4 11.0,63.9 11.1,66.4 11.3,68.9 11.4,71.4 11.5,71.4 11.6,71.4 11.8,71.5 11.9,71.8 12.0,72.3"/>
<polyline fill="none" stroke="#D95319" stroke-width="1.45" stroke-linejoin="round" stroke-linecap="round" points="11.9,71.8 12.0,72.3 12.2,73.0 12.3,74.3 12.4,74.1 12.6,73.6 12.7,72.8 12.8,71.9 13.0,70.9 13.1,69.8 13.2,68.7 13.4,67.5 13.5,66.3 13.6,65.0 13.8,63.8 13.9,62.5 14.0,61.3 14.2,60.0 14.3,58.8 14.4,59.4 14.6,60.9 14.7,62.4 14.8,63.9 15.0,65.5 15.1,67.0 15.2,68.5 15.4,69.9 15.5,71.4 15.6,72.8 15.8,74.3 15.9,75.7 16.0,76.7 16.1,75.5 16.3,74.3 16.4,73.1 16.5,71.9 16.7,70.7 16.8,69.5 16.9,68.3 17.1,67.1 17.2,65.8 17.3,64.6 17.5,63.3 17.6,62.0 17.7,60.7 17.9,59.4 18.0,58.1 18.1,59.6 18.3,61.2 18.4,62.7 18.5,64.3 18.7,65.9 18.8,67.4 18.9,68.9 19.1,70.4 19.2,71.9 19.3,73.4 19.5,74.9 19.6,76.4 19.7,76.5 19.9,75.3 20.0,74.1 20.1,72.9 20.3,71.7 20.4,70.4 20.5,69.2 20.7,68.0 20.8,66.7 20.9,65.4 21.0,64.1 21.2,62.7 21.3,61.4 21.4,60.1 21.6,58.8 21.7,58.3 21.8,59.9 22.0,61.5 22.1,63.1 22.2,64.7 22.4,66.3 22.5,67.9 22.6,69.5 22.8,71.0 22.9,72.5 23.0,74.0 23.2,75.6 23.3,77.1 23.4,76.3 23.6,75.1 23.7,73.9 23.8,72.6 24.0,71.3 24.1,70.1 24.2,68.8 24.4,67.6 24.5,66.2 24.6,64.9 24.8,63.5 24.9,62.2 25.0,60.8 25.2,59.5 25.3,58.1 25.4,58.6 25.5,60.2 25.7,61.9 25.8,63.5 25.9,65.2 26.1,66.8 26.2,68.5 26.3,70.0 26.5,71.6 26.6,73.2 26.7,74.7 26.9,76.3 27.0,77.4 27.1,76.1 27.3,74.8 27.4,73.6 27.5,72.3 27.7,71.0 27.8,69.7 27.9,68.4 28.1,67.1 28.2,65.7 28.3,64.3 28.5,63.0 28.6,61.6 28.7,60.2 28.9,58.8 29.0,57.5 29.1,59.0 29.3,60.7 29.4,62.4 29.5,64.1 29.7,65.7 29.8,67.4 29.9,69.0 30.0,70.6 30.2,72.2 30.3,73.8 30.4,75.4 30.6,77.0 30.7,77.1 30.8,75.8 31.0,74.5 31.1,73.2 31.2,71.9 31.4,70.6 31.5,69.3 31.6,67.9 31.8,66.6 31.9,65.2 32.0,63.8 32.2,62.4 32.3,61.0 32.4,59.6 32.6,58.2 32.7,57.8 32.8,59.5 33.0,61.2 33.1,62.9 33.2,64.6 33.4,66.3 33.5,68.0 33.6,69.6 33.8,71.3 33.9,72.9 34.0,74.5 34.2,76.1 34.3,77.7 34.4,76.7 34.5,75.4 34.7,74.1 34.8,72.8 34.9,71.4 35.1,70.1 35.2,68.8 35.3,67.4 35.5,66.0 35.6,64.6 35.7,63.2 35.9,61.8 36.0,60.3 36.1,58.9 36.3,57.5 36.4,58.3 36.5,60.0 36.7,61.8 36.8,63.5 36.9,65.2 37.1,67.0 37.2,68.7 37.3,70.3 37.5,71.9 37.6,73.6 37.7,75.2 37.9,76.9 38.0,77.7 38.1,76.3 38.3,75.0 38.4,73.6 38.5,72.3 38.7,71.0 38.8,69.6 38.9,68.3 39.1,66.8 39.2,65.4 39.3,64.0 39.4,62.5 39.6,61.1 39.7,59.7 39.8,58.2 40.0,57.1 40.1,58.9 40.2,60.6 40.4,62.4 40.5,64.2 40.6,65.9 40.8,67.7 40.9,69.3 41.0,71.0 41.2,72.7 41.3,74.3 41.4,76.0 41.6,77.7 41.7,77.2 41.8,75.9 42.0,74.5 42.1,73.2 42.2,71.8 42.4,70.4 42.5,69.1 42.6,67.7 42.8,66.2 42.9,64.8 43.0,63.3 43.2,61.9 43.3,60.4 43.4,58.9 43.6,57.5 43.7,57.7 43.8,59.5 43.9,61.3 44.1,63.1 44.2,64.8 44.3,66.6 44.5,68.4 44.6,70.1 44.7,71.8 44.9,73.5 45.0,75.1 45.1,76.8 45.3,78.2 45.4,76.8 45.5,75.4 45.7,74.0 45.8,72.7 45.9,71.3 46.1,69.9 46.2,68.5 46.3,67.1 46.5,65.6 46.6,64.1 46.7,62.6 46.9,61.1 47.0,59.7 47.1,58.2 47.3,56.7 47.4,58.4 47.5,60.2 47.7,62.0 47.8,63.8 47.9,65.6 48.1,67.4 48.2,69.1 48.3,70.8 48.4,72.6 48.6,74.3 48.7,76.0 48.8,77.7 49.0,77.7 49.1,76.3 49.2,74.9 49.4,73.5 49.5,72.1 49.6,70.7 49.8,69.3 49.9,67.9 50.0,66.4 50.2,64.9 50.3,63.4 50.4,61.9 50.6,60.4 50.7,58.9 50.8,57.5 51.0,57.3 51.1,59.1 51.2,60.9 51.4,62.8 51.5,64.6 51.6,66.4 51.8,68.2 51.9,69.9 52.0,71.6 52.2,73.4 52.3,75.1 52.4,76.8 52.6,78.5 52.7,77.1 52.8,75.7 53.0,74.3 53.1,72.9 53.2,71.5 53.3,70.0 53.5,68.6 53.6,67.2 53.7,65.7 53.9,64.2 54.0,62.7 54.1,61.2 54.3,59.7 54.4,58.2 54.5,56.7 54.7,58.1 54.8,59.9 54.9,61.8 55.1,63.6 55.2,65.4 55.3,67.3 55.5,69.0 55.6,70.8 55.7,72.5 55.9,74.2 56.0,76.0 56.1,77.7 56.3,77.9 56.4,76.5 56.5,75.1 56.7,73.6 56.8,72.2 56.9,70.8 57.1,69.4 57.2,68.0 57.3,66.5 57.5,65.0 57.6,63.4 57.7,61.9 57.8,60.4 58.0,58.9 58.1,57.4 58.2,57.1 58.4,58.9 58.5,60.8 58.6,62.6 58.8,64.5 58.9,66.3 59.0,68.1 59.2,69.9 59.3,71.6 59.4,73.4 59.6,75.1 59.7,76.9 59.8,78.6 60.0,77.3 60.1,75.8 60.2,74.4 60.4,73.0 60.5,71.5 60.6,70.1 60.8,68.7 60.9,67.2 61.0,65.7 61.2,64.2 61.3,62.7 61.4,61.1 61.6,59.6 61.7,58.1 61.8,56.6 62.0,57.9 62.1,59.8 62.2,61.6 62.3,63.5 62.5,65.4 62.6,67.2 62.7,69.0 62.9,70.8 63.0,72.5 63.1,74.3 63.3,76.1 63.4,77.8 63.5,78.0 63.7,76.6 63.8,75.2 63.9,73.7 64.1,72.3 64.2,70.8 64.3,69.4 64.5,68.0 64.6,66.4 64.7,64.9 64.9,63.4 65.0,61.8 65.1,60.3 65.3,58.8 65.4,57.2 65.5,57.0 65.7,58.8 65.8,60.7 65.9,62.6 66.1,64.5 66.2,66.3 66.3,68.2 66.5,70.0 66.6,71.7 66.7,73.5 66.8,75.3 67.0,77.0 67.1,78.8 67.2,77.3 67.4,75.9 67.5,74.4 67.6,73.0 67.8,71.5 67.9,70.1 68.0,68.6 68.2,67.2 68.3,65.6 68.4,64.1 68.6,62.6 68.7,61.0 68.8,59.5 69.0,58.0 69.1,56.4 69.2,58.0 69.4,59.8 69.5,61.7 69.6,63.6 69.8,65.5 69.9,67.3 70.0,69.1 70.2,70.9 70.3,72.6 70.4,74.4 70.6,76.2 70.7,77.9 70.8,77.9 71.0,76.5 71.1,75.1 71.2,73.6 71.4,72.2 71.5,70.7 71.6,69.3 71.7,67.9 71.9,66.3 72.0,64.8 72.1,63.3 72.3,61.8 72.4,60.2 72.5,58.7 72.7,57.2 72.8,57.1 72.9,59.0 73.1,60.9 73.2,62.7 73.3,64.6 73.5,66.5 73.6,68.3 73.7,70.1 73.9,71.8 74.0,73.6 74.1,75.3 74.3,77.1 74.4,78.6 74.5,77.1 74.7,75.7 74.8,74.3 74.9,72.8 75.1,71.4 75.2,70.0 75.3,68.5 75.5,67.0 75.6,65.5 75.7,64.0 75.9,62.5 76.0,60.9 76.1,59.4 76.2,57.9 76.4,56.4 76.5,58.2 76.6,60.1 76.8,61.9 76.9,63.8 77.0,65.6 77.2,67.5 77.3,69.3 77.4,71.0 77.6,72.8 77.7,74.5 77.8,76.3 78.0,78.0 78.1,77.7 78.2,76.3 78.4,74.9 78.5,73.5 78.6,72.0 78.8,70.6 78.9,69.2 79.0,67.7 79.2,66.2 79.3,64.7 79.4,63.2 79.6,61.6 79.7,60.1 79.8,58.6 80.0,57.1 80.1,57.4 80.2,59.3 80.4,61.1 80.5,63.0 80.6,64.8 80.7,66.7 80.9,68.5 81.0,70.2 81.1,72.0 81.3,73.7 81.4,75.4 81.5,77.1 81.7,78.3 81.8,76.8 81.9,75.4 82.1,74.0 82.2,72.6 82.3,71.2 82.5,69.8 82.6,68.3 82.7,66.9 82.9,65.4 83.0,63.9 83.1,62.4 83.3,60.9 83.4,59.4 83.5,57.9 83.7,56.8 83.8,58.6 83.9,60.5 84.1,62.3 84.2,64.1 84.3,65.9 84.5,67.7 84.6,69.4 84.7,71.1 84.9,72.8 85.0,74.5 85.1,76.2 85.2,77.9 85.4,77.3 85.5,75.9 85.6,74.5 85.8,73.1 85.9,71.7 86.0,70.3 86.2,68.9 86.3,67.5 86.4,66.1 86.6,64.6 86.7,63.1 86.8,61.7 87.0,60.2 87.1,58.7 87.2,57.3 87.4,58.0 87.5,59.8 87.6,61.6 87.8,63.4 87.9,65.2 88.0,67.0 88.2,68.7 88.3,70.4 88.4,72.0 88.6,73.7 88.7,75.4 88.8,77.1 89.0,77.7 89.1,76.3 89.2,75.0 89.4,73.6 89.5,72.2 89.6,70.9 89.8,69.5 89.9,68.1 90.0,66.7 90.1,65.3 90.3,63.8 90.4,62.4 90.5,60.9 90.7,59.5 90.8,58.1 90.9,57.4 91.1,59.2 91.2,61.0 91.3,62.7 91.5,64.5 91.6,66.2 91.7,68.0 91.9,69.6 92.0,71.3 92.1,72.9 92.3,74.6 92.4,76.2 92.5,77.9 92.7,76.8 92.8,75.4 92.9,74.0 93.1,72.7 93.2,71.4 93.3,70.0 93.5,68.7 93.6,67.3 93.7,65.9 93.9,64.5 94.0,63.1 94.1,61.7 94.3,60.3 94.4,58.9 94.5,57.5 94.6,58.7 94.8,60.4 94.9,62.1 95.0,63.9 95.2,65.6 95.3,67.3 95.4,68.9 95.6,70.5 95.7,72.1 95.8,73.8 96.0,75.3 96.1,76.9 96.2,77.1 96.4,75.7 96.5,74.4 96.6,73.1 96.8,71.8 96.9,70.5 97.0,69.2 97.2,67.9 97.3,66.5 97.4,65.1 97.6,63.8 97.7,62.4 97.8,61.0 98.0,59.7 98.1,58.3 98.2,58.3 98.4,59.9 98.5,61.6 98.6,63.3 98.8,65.0 98.9,66.6 99.0,68.3 99.1,69.8 99.3,71.4 99.4,73.0 99.5,74.5 99.7,76.1 99.8,77.3 99.9,76.0 100.1,74.7 100.2,73.5 100.3,72.2 100.5,70.9 100.6,69.7 100.7,68.4 100.9,67.1 101.0,65.7 101.1,64.4 101.3,63.1 101.4,61.7 101.5,60.4 101.7,59.1 101.8,57.9 101.9,59.5 102.1,61.2 102.2,62.8 102.3,64.4 102.5,66.0 102.6,67.7 102.7,69.2 102.9,70.7 103.0,72.2 103.1,73.7 103.3,75.3 103.4,76.8 103.5,76.3 103.6,75.0 103.8,73.8 103.9,72.6 104.0,71.3 104.2,70.1 104.3,68.9 104.4,67.6 104.6,66.3 104.7,65.0 104.8,63.7 105.0,62.4 105.1,61.1 105.2,59.8 105.4,58.5 105.5,59.1 105.6,60.7 105.8,62.3 105.9,63.9 106.0,65.5 106.2,67.1 106.3,68.6 106.4,70.1 106.6,71.5 106.7,73.0 106.8,74.5 107.0,75.9 107.1,76.5 107.2,75.3 107.4,74.1 107.5,72.9 107.6,71.7 107.8,70.5 107.9,69.3 108.0,68.1 108.2,66.8 108.3,65.6 108.4,64.3 108.5,63.1 108.7,61.8 108.8,60.6 108.9,59.3 109.1,58.8 109.2,60.4 109.3,61.9 109.5,63.5 109.6,65.0 109.7,66.5 109.9,68.0 110.0,69.4 110.1,70.9 110.3,72.3 110.4,73.7 110.5,75.1 110.7,76.5 110.8,75.5 110.9,74.3 111.1,73.1 111.2,72.0 111.3,70.8 111.5,69.7 111.6,68.5 111.7,67.3 111.9,66.1 112.0,64.9 112.1,63.7 112.3,62.5 112.4,61.3 112.5,60.1 112.7,58.9 112.8,60.1 112.9,61.6 113.0,63.1 113.2,64.5 113.3,66.0 113.4,67.5 113.6,68.9 113.7,70.3 113.8,71.6 114.0,73.0 114.1,74.4 114.2,75.7 114.4,75.6 114.5,74.5 114.6,73.4 114.8,72.2 114.9,71.1 115.0,70.0 115.2,68.9 115.3,67.8 115.4,66.6 115.6,65.4 115.7,64.2 115.8,63.1 116.0,61.9 116.1,60.8 116.2,59.6 116.4,59.8 116.5,61.3 116.6,62.7 116.8,64.1 116.9,65.6 117.0,67.0 117.2,68.4 117.3,69.7 117.4,71.0 117.5,72.3 117.7,73.7 117.8,75.0 117.9,75.7 118.1,74.6 118.2,73.6 118.3,72.5 118.5,71.4 118.6,70.3 118.7,69.2 118.9,68.2 119.0,67.0 119.1,65.9 119.3,64.8 119.4,63.7 119.5,62.5 119.7,61.4 119.8,60.3 119.9,59.6 120.1,61.0 120.2,62.4 120.3,63.8 120.5,65.2 120.6,66.5 120.7,67.9 120.9,69.2 121.0,70.5 121.1,71.7 121.3,73.0 121.4,74.3 121.5,75.6 121.7,74.8 121.8,73.7 121.9,72.7 122.0,71.6 122.2,70.6 122.3,69.6 122.4,68.5 122.6,67.5 122.7,66.4 122.8,65.3 123.0,64.2 123.1,63.1 123.2,62.0 123.4,60.9 123.5,59.8 123.6,60.8 123.8,62.1 123.9,63.5 124.0,64.8 124.2,66.1 124.3,67.4 124.4,68.7 124.6,70.0 124.7,71.2 124.8,72.4 125.0,73.7 125.1,74.9 125.2,74.9 125.4,73.9 125.5,72.9 125.6,71.9 125.8,70.9 125.9,69.8 126.0,68.8 126.2,67.8 126.3,66.8 126.4,65.7 126.6,64.6 126.7,63.6 126.8,62.5 126.9,61.5 127.1,60.4 127.2,60.6 127.3,61.9 127.5,63.2 127.6,64.4 127.7,65.7 127.9,67.0 128.0,68.3 128.1,69.5 128.3,70.7 128.4,71.9 128.5,73.1 128.7,74.3 128.8,75.0 128.9,74.0 129.1,73.0 129.2,72.1 129.3,71.1 129.5,70.1 129.6,69.1 129.7,68.2 129.9,67.1 130.0,66.1 130.1,65.1 130.3,64.1 130.4,63.1 130.5,62.0 130.7,61.0 130.8,60.4 130.9,61.7 131.1,62.9 131.2,64.2 131.3,65.4 131.4,66.6 131.6,67.9 131.7,69.0 131.8,70.2 132.0,71.4 132.1,72.5 132.2,73.7 132.4,74.8 132.5,74.1 132.6,73.2 132.8,72.2 132.9,71.3 133.0,70.3 133.2,69.4 133.3,68.4 133.4,67.5 133.6,66.5 133.7,65.5 133.8,64.5 134.0,63.6 134.1,62.6 134.2,61.6 134.4,60.7 134.5,61.5 134.6,62.7 134.8,63.9 134.9,65.1 135.0,66.3 135.2,67.5 135.3,68.6 135.4,69.8 135.6,70.9 135.7,72.0 135.8,73.0 135.9,74.1 136.1,74.1 136.2,73.2 136.3,72.3 136.5,71.4 136.6,70.5 136.7,69.6 136.9,68.7 137.0,67.8 137.1,66.8 137.3,65.9 137.4,65.0 137.5,64.0 137.7,63.1 137.8,62.2 137.9,61.3 138.1,61.6 138.2,62.7 138.3,63.8 138.5,65.0 138.6,66.1 138.7,67.2 138.9,68.3 139.0,69.4 139.1,70.4 139.3,71.5 139.4,72.5 139.5,73.5 139.7,74.0 139.8,73.1 139.9,72.2 140.1,71.4 140.2,70.5 140.3,69.7 140.4,68.8 140.6,68.0 140.7,67.1 140.8,66.2 141.0,65.4 141.1,64.5 141.2,63.6 141.4,62.7 141.5,61.9 141.6,61.7 141.8,62.7 141.9,63.8 142.0,64.9 142.2,66.0 142.3,67.0 142.4,68.1 142.6,69.1 142.7,70.0 142.8,71.0 143.0,72.0 143.1,73.0 143.2,73.8 143.4,72.9 143.5,72.1 143.6,71.3 143.8,70.5 143.9,69.7 144.0,68.9 144.2,68.2 144.3,67.3 144.4,66.5 144.6,65.7 144.7,64.9 144.8,64.0 145.0,63.2 145.1,62.4 145.2,61.9 145.3,62.9 145.5,63.9 145.6,64.9 145.7,65.9 145.9,66.9 146.0,67.9 146.1,68.8 146.3,69.7 146.4,70.7 146.5,71.6 146.7,72.5 146.8,73.4 146.9,72.7 147.1,72.0 147.2,71.2 147.3,70.4 147.5,69.7 147.6,68.9 147.7,68.2 147.9,67.4 148.0,66.6 148.1,65.8 148.3,65.1 148.4,64.3 148.5,63.5 148.7,62.7 148.8,62.3 148.9,63.3 149.1,64.2 149.2,65.2 149.3,66.2 149.5,67.1 149.6,68.0 149.7,68.9 149.8,69.8 150.0,70.7 150.1,71.6 150.2,72.5 150.4,72.9 150.5,72.2 150.6,71.4 150.8,70.7 150.9,70.0 151.0,69.3 151.2,68.5 151.3,67.8 151.4,67.1 151.6,66.3 151.7,65.6 151.8,64.8 152.0,64.1 152.1,63.3 152.2,62.6 152.4,63.2 152.5,64.2 152.6,65.1 152.8,66.0 152.9,66.9 153.0,67.8 153.2,68.7 153.3,69.5 153.4,70.4 153.6,71.2 153.7,72.1 153.8,72.7 154.0,72.0 154.1,71.3 154.2,70.6 154.3,69.9 154.5,69.2 154.6,68.5 154.7,67.8 154.9,67.1 155.0,66.3 155.1,65.6 155.3,64.9 155.4,64.2 155.5,63.4 155.7,62.7 155.8,63.6 155.9,64.5 156.1,65.4 156.2,66.3 156.3,67.2 156.5,68.1 156.6,68.9 156.7,69.7 156.9,70.6 157.0,71.4 157.1,72.2 157.3,72.2 157.4,71.5 157.5,70.8 157.7,70.1 157.8,69.5 157.9,68.8 158.1,68.1 158.2,67.4 158.3,66.7 158.5,66.0 158.6,65.3 158.7,64.6 158.9,64.0 159.0,63.4"/>
<polyline fill="none" stroke="#D95319" stroke-width="1.15" stroke-linejoin="round" stroke-linecap="round" points="158.9,64.0 159.0,63.4 159.1,63.8 159.2,64.6 159.4,65.2 159.5,65.5 159.6,65.4 159.8,65.0 159.9,65.4 160.0,66.5 160.2,67.8 160.3,69.0 160.4,70.3 160.6,71.7 160.7,73.0 160.8,74.3 161.0,75.6 161.1,75.4 161.2,74.2 161.4,73.0 161.5,71.8 161.6,70.6 161.8,69.4 161.9,68.2 162.0,67.0 162.2,65.8 162.3,66.9 162.4,69.4 162.6,72.0 162.7,74.5 162.8,76.4 163.0,73.9 163.1,71.5 163.2,69.0 163.4,66.5 163.5,64.0 163.6,61.5 163.7,59.0 163.9,59.9 164.0,61.3 164.1,62.6 164.3,63.9 164.4,65.3 164.5,66.6 164.7,67.9 164.8,69.2 164.9,70.6 165.1,71.9 165.2,73.0 165.3,72.0 165.5,70.9 165.6,69.8 165.7,68.7 165.9,67.6 166.0,66.6 166.1,65.5 166.3,65.9 166.4,66.6 166.5,67.2 166.7,67.9 166.8,68.6 166.9,69.2 167.1,69.9 167.2,70.6 167.3,71.2 167.5,70.3 167.6,69.0 167.7,67.8 167.9,66.6 168.0,65.3 168.1,64.1 168.2,64.0 168.4,65.0 168.5,65.9 168.6,66.8 168.8,67.8 168.9,68.7 169.0,69.6 169.2,70.5 169.3,71.5 169.4,71.5 169.6,70.8 169.7,70.1 169.8,69.4 170.0,68.6 170.1,67.9 170.2,67.2 170.4,66.4 170.5,65.7 170.6,65.8 170.8,66.8 170.9,67.8 171.0,68.8 171.2,69.8 171.3,70.8 171.4,71.8 171.6,72.8 171.7,73.8 171.8,73.6 172.0,72.3 172.1,70.9 172.2,69.5 172.4,68.1 172.5,66.7 172.6,65.3 172.7,63.9 172.9,62.5 173.0,62.5 173.1,64.2 173.3,66.0 173.4,67.7 173.5,69.4 173.7,71.1 173.8,72.3 173.9,71.0 174.1,69.7 174.2,68.3 174.3,67.0 174.5,65.7 174.6,64.3 174.7,63.0 174.9,61.7 175.0,60.4 175.1,59.0 175.3,57.7 175.4,58.2 175.5,61.2 175.7,64.1 175.8,67.0 175.9,70.0 176.1,72.9 176.2,75.4 176.3,74.2 176.5,73.1 176.6,71.9 176.7,70.7 176.9,69.6 177.0,68.4 177.1,67.2 177.3,67.4 177.4,67.6 177.5,67.9 177.6,68.1 177.8,68.4 177.9,68.6 178.0,68.9 178.2,68.8 178.3,68.5 178.4,68.3 178.6,68.1 178.7,67.9 178.8,67.6 179.0,67.5 179.1,67.6 179.2,67.7 179.4,67.8 179.5,67.9 179.6,68.0 179.8,68.1 179.9,68.2 180.0,68.3 180.2,68.3 180.3,68.2 180.4,68.1 180.6,68.0 180.7,67.9 180.8,67.8 181.0,67.7 181.1,67.6 181.2,67.6 181.4,67.5 181.5,67.6 181.6,67.7 181.8,67.8 181.9,67.8 182.0,67.9 182.1,68.0 182.3,68.1 182.4,68.2 182.5,68.2 182.7,68.1 182.8,68.0 182.9,67.9 183.1,67.9 183.2,67.8 183.3,67.7 183.5,67.6 183.6,67.5 183.7,67.4 183.9,67.2 184.0,66.9 184.1,66.7 184.3,66.5 184.4,66.2 184.5,66.0 184.7,65.7 184.8,65.5 184.9,65.6 185.1,66.5 185.2,67.3 185.3,68.2 185.5,69.0 185.6,69.9 185.7,70.8 185.9,71.6 186.0,72.5 186.1,72.8 186.3,71.8 186.4,70.7 186.5,69.6 186.6,68.6 186.8,67.5 186.9,66.4 187.0,65.4 187.2,64.3 187.3,64.2 187.4,66.6 187.6,68.9 187.7,71.3 187.8,73.7 188.0,73.1 188.1,71.4 188.2,69.7 188.4,68.1 188.5,66.4 188.6,64.8 188.8,63.1 188.9,63.3 189.0,65.0 189.2,66.7 189.3,68.4 189.4,70.1 189.6,71.8 189.7,72.9 189.8,72.0 190.0,71.1 190.1,70.1 190.2,69.2 190.4,68.3 190.5,67.3 190.6,66.4 190.8,65.5 190.9,64.9 191.0,65.6 191.1,66.3 191.3,67.1 191.4,67.8 191.5,68.5 191.7,69.3 191.8,70.0 191.9,70.7 192.1,71.2 192.2,70.3 192.3,69.5 192.5,68.7 192.6,67.8 192.7,67.0 192.9,66.2 193.0,65.3 193.1,65.9 193.3,66.5 193.4,67.1 193.5,67.7 193.7,68.3 193.8,68.9 193.9,69.5 194.1,70.1 194.2,70.7 194.3,70.1 194.5,69.4 194.6,68.8 194.7,68.1 194.9,67.4 195.0,66.8 195.1,66.1 195.3,65.4 195.4,65.8 195.5,66.4 195.7,67.0 195.8,67.6 195.9,68.2 196.0,68.8 196.2,69.4 196.3,70.0 196.4,70.6 196.6,70.2 196.7,69.6 196.8,69.0 197.0,68.4 197.1,67.8 197.2,67.2 197.4,66.6 197.5,66.0 197.6,65.4 197.8,65.8 197.9,66.3 198.0,66.8 198.2,67.4 198.3,67.9 198.4,68.4 198.6,69.0 198.7,69.5 198.8,70.0 199.0,69.8 199.1,69.3 199.2,68.8 199.4,68.4 199.5,67.9 199.6,67.4 199.8,67.0 199.9,66.5 200.0,66.0 200.2,66.3 200.3,66.8 200.4,67.2 200.5,67.7 200.7,68.2 200.8,68.6 200.9,69.1 201.1,69.6 201.2,70.0 201.3,69.6 201.5,69.0 201.6,68.3 201.7,67.6 201.9,67.0 202.0,66.3 202.1,65.6 202.3,65.7 202.4,66.2 202.5,66.8 202.7,67.4 202.8,68.0 202.9,68.6 203.1,69.1 203.2,69.4 203.3,68.9 203.5,68.5 203.6,68.0 203.7,67.6 203.9,67.1 204.0,66.7 204.1,66.3 204.3,66.7 204.4,67.1 204.5,67.5 204.7,67.9 204.8,68.3 204.9,68.7 205.0,69.1 205.2,68.8 205.3,68.5 205.4,68.1 205.6,67.7 205.7,67.4 205.8,67.0 206.0,66.6 206.1,66.8 206.2,67.1 206.4,67.4 206.5,67.8 206.6,68.1 206.8,68.4 206.9,68.8 207.0,68.8 207.2,68.5 207.3,68.2 207.4,67.9 207.6,67.7 207.7,67.4 207.8,67.1 208.0,67.0 208.1,67.2 208.2,67.5 208.4,67.7 208.5,68.0 208.6,68.2 208.8,68.5 208.9,68.7 209.0,68.5 209.2,68.2 209.3,68.0 209.4,67.8 209.5,67.6 209.7,67.4 209.8,67.2 209.9,67.3 210.1,67.4 210.2,67.6 210.3,67.8 210.5,67.9 210.6,68.1 210.7,68.3 210.9,68.3 211.0,68.2 211.1,68.0 211.3,67.9 211.4,67.8 211.5,67.7 211.7,67.6 211.8,67.5"/>
</g>
<use href="#frame"/>
<text class="tk" x="0.00" y="146.10" text-anchor="middle">40</text>
<text class="tk" x="33.09" y="146.10" text-anchor="middle">45</text>
<text class="tk" x="66.19" y="146.10" text-anchor="middle">50</text>
<text class="tk" x="99.28" y="146.10" text-anchor="middle">55</text>
<text class="tk" x="132.38" y="146.10" text-anchor="middle">60</text>
<text class="tk" x="165.47" y="146.10" text-anchor="middle">65</text>
<text class="tk" x="198.56" y="146.10" text-anchor="middle">70</text>
<text class="tk" x="-2.7" y="2.90" text-anchor="end">0.1</text>
<text class="tk" x="-2.7" y="36.82" text-anchor="end">0.05</text>
<text class="tk" x="-2.7" y="70.75" text-anchor="end">0</text>
<text class="tk" x="-2.7" y="104.67" text-anchor="end">-0.05</text>
<text class="tk" x="-2.7" y="138.60" text-anchor="end">-0.1</text>
<text class="lb" x="105.90" y="154.60" text-anchor="middle">Time (<tspan font-style="italic">μ</tspan>s)</text>
<text class="lb" transform="translate(-21.9,67.85) rotate(-90)" text-anchor="middle">Amplitude</text>
<g transform="translate(91.60,6.15)">
<rect x="0" y="0" width="51.4" height="19.8" fill="#fff" stroke="#333" stroke-width="0.7"/>
<path d="M2.4,5.5 H18.8" stroke="#0072BD" stroke-width="1.1" opacity="0.72" fill="none"/>
<path d="M2.4,14.6 H18.8" stroke="#D95319" stroke-width="1.1" opacity="0.72" fill="none"/>
<text class="lg" x="20.5" y="7.9">Interfered</text>
<text class="lg" x="20.5" y="17.0">VMD</text>
</g>
<text class="cap" x="89.9" y="168.40" text-anchor="middle">(d)</text>
</g>
<g transform="translate(282.50,377.70)">
<use href="#ticks"/>
<g clip-path="url(#cp)">
<use href="#interf"/>
<use href="#truth" stroke="#0072BD" stroke-width="0.5"/>
<polyline fill="none" stroke="#0072BD" stroke-width="1.1" stroke-linejoin="round" points="5.3,73.6 5.4,72.5 5.6,71.4 5.7,70.3 5.8,69.2 6.0,68.1 6.1,67.0 6.2,65.8 6.4,64.6 6.5,63.4 6.6,62.3 6.8,61.1 6.9,59.9 7.0,59.1 7.1,60.5 7.3,61.9 7.4,63.4 7.5,64.8 7.7,66.2 7.8,67.7 7.9,69.1 8.1,70.4 8.2,71.8 8.3,73.2 8.5,74.5 8.6,75.9 8.7,75.7 8.9,74.6 9.0,73.5 9.1,72.3 9.3,71.2 9.4,70.1 9.5,69.0 9.7,67.8 9.8,66.6 9.9,65.4 10.1,64.2 10.2,63.0 10.3,61.8 10.5,60.6 10.6,59.4 10.7,59.2 10.9,60.7 11.0,62.1 11.1,63.6 11.3,65.1 11.4,66.6 11.5,68.1 11.6,69.5 11.8,70.9 11.9,72.3 12.0,73.7 12.2,75.1 12.3,76.5 12.4,75.6 12.6,74.5 12.7,73.3 12.8,72.1 13.0,71.0 13.1,69.8 13.2,68.7"/>
<polyline fill="none" stroke="#D95319" stroke-width="1.15" stroke-linejoin="round" stroke-linecap="round" points="0.0,62.9 0.1,64.3 0.3,65.7 0.4,67.0 0.5,68.4 0.7,69.7 0.8,71.0 0.9,72.3 1.1,73.6 1.2,74.9 1.3,75.8 1.5,74.7 1.6,73.7 1.7,72.6 1.9,71.6 2.0,70.5 2.1,69.4 2.3,68.4 2.4,67.3 2.5,66.1 2.6,65.0 2.8,63.8 2.9,62.7 3.0,61.6 3.2,60.4 3.3,59.2 3.4,60.3 3.6,61.7 3.7,63.1 3.8,64.5 4.0,65.9 4.1,67.3 4.2,68.7 4.4,70.0 4.5,71.4 4.6,72.7 4.8,74.0 4.9,75.4 5.0,75.8 5.2,74.7 5.3,73.6 5.4,72.5 5.6,71.4 5.7,70.3 5.8,69.2 6.0,68.1 6.1,67.0 6.2,65.8 6.4,64.7 6.5,63.5 6.6,62.4 6.8,61.1 6.9,59.9 7.0,59.2 7.1,60.5 7.3,61.8 7.4,63.0 7.5,64.0 7.7,65.0 7.8,65.9 7.9,66.7 8.1,67.3 8.2,68.0 8.3,68.6 8.5,69.3 8.6,69.9 8.7,69.4 8.9,67.1 9.0,63.6 9.1,60.1 9.3,56.6 9.4,53.1 9.5,49.6 9.7,46.1 9.8,46.1 9.9,49.5 10.1,52.9 10.2,56.3 10.3,57.5 10.5,58.7 10.6,59.9 10.7,61.8 10.9,62.8 11.0,63.8 11.1,64.8 11.3,65.9 11.4,66.9 11.5,68.0 11.6,69.1 11.8,70.3 11.9,71.6 12.0,73.0"/>
<polyline fill="none" stroke="#D95319" stroke-width="1.45" stroke-linejoin="round" stroke-linecap="round" points="11.9,71.6 12.0,73.0 12.2,74.5 12.3,76.1 12.4,75.3 12.6,74.3 12.7,73.2 12.8,72.1 13.0,71.0 13.1,69.8 13.2,68.7 13.4,67.5 13.5,66.3 13.6,65.0 13.8,63.8 13.9,62.5 14.0,61.3 14.2,60.0 14.3,58.8 14.4,59.4 14.6,60.9 14.7,62.4 14.8,63.9 15.0,65.5 15.1,67.0 15.2,68.5 15.4,69.9 15.5,71.4 15.6,72.8 15.8,74.3 15.9,75.7 16.0,76.7 16.1,75.5 16.3,74.3 16.4,73.1 16.5,71.9 16.7,70.7 16.8,69.5 16.9,68.3 17.1,67.1 17.2,65.8 17.3,64.6 17.5,63.3 17.6,62.0 17.7,60.7 17.9,59.4 18.0,58.1 18.1,59.6 18.3,61.2 18.4,62.7 18.5,64.3 18.7,65.9 18.8,67.4 18.9,68.9 19.1,70.4 19.2,71.9 19.3,73.4 19.5,74.9 19.6,76.4 19.7,76.5 19.9,75.3 20.0,74.1 20.1,72.9 20.3,71.7 20.4,70.4 20.5,69.2 20.7,68.0 20.8,66.7 20.9,65.4 21.0,64.1 21.2,62.7 21.3,61.4 21.4,60.1 21.6,58.8 21.7,58.3 21.8,59.9 22.0,61.5 22.1,63.1 22.2,64.7 22.4,66.3 22.5,67.9 22.6,69.5 22.8,71.0 22.9,72.5 23.0,74.0 23.2,75.6 23.3,77.1 23.4,76.3 23.6,75.1 23.7,73.9 23.8,72.6 24.0,71.3 24.1,70.1 24.2,68.8 24.4,67.6 24.5,66.2 24.6,64.9 24.8,63.5 24.9,62.2 25.0,60.8 25.2,59.5 25.3,58.1 25.4,58.6 25.5,60.2 25.7,61.9 25.8,63.5 25.9,65.2 26.1,66.8 26.2,68.5 26.3,70.0 26.5,71.6 26.6,73.2 26.7,74.7 26.9,76.3 27.0,77.4 27.1,76.1 27.3,74.8 27.4,73.6 27.5,72.3 27.7,71.0 27.8,69.7 27.9,68.4 28.1,67.1 28.2,65.7 28.3,64.3 28.5,63.0 28.6,61.6 28.7,60.2 28.9,58.8 29.0,57.5 29.1,59.0 29.3,60.7 29.4,62.4 29.5,64.1 29.7,65.7 29.8,67.4 29.9,69.0 30.0,70.6 30.2,72.2 30.3,73.8 30.4,75.4 30.6,77.0 30.7,77.1 30.8,75.8 31.0,74.5 31.1,73.2 31.2,71.9 31.4,70.6 31.5,69.3 31.6,67.9 31.8,66.6 31.9,65.2 32.0,63.8 32.2,62.4 32.3,61.0 32.4,59.6 32.6,58.2 32.7,57.8 32.8,59.5 33.0,61.2 33.1,62.9 33.2,64.6 33.4,66.3 33.5,68.0 33.6,69.6 33.8,71.3 33.9,72.9 34.0,74.5 34.2,76.1 34.3,77.7 34.4,76.7 34.5,75.4 34.7,74.1 34.8,72.8 34.9,71.4 35.1,70.1 35.2,68.8 35.3,67.4 35.5,66.0 35.6,64.6 35.7,63.2 35.9,61.8 36.0,60.3 36.1,58.9 36.3,57.5 36.4,58.3 36.5,60.0 36.7,61.8 36.8,63.5 36.9,65.2 37.1,67.0 37.2,68.7 37.3,70.3 37.5,71.9 37.6,73.6 37.7,75.2 37.9,76.9 38.0,77.7 38.1,76.3 38.3,75.0 38.4,73.6 38.5,72.3 38.7,71.0 38.8,69.6 38.9,68.3 39.1,66.8 39.2,65.4 39.3,64.0 39.4,62.5 39.6,61.1 39.7,59.7 39.8,58.2 40.0,57.1 40.1,58.9 40.2,60.6 40.4,62.4 40.5,64.2 40.6,65.9 40.8,67.7 40.9,69.3 41.0,71.0 41.2,72.7 41.3,74.3 41.4,76.0 41.6,77.7 41.7,77.2 41.8,75.9 42.0,74.5 42.1,73.2 42.2,71.8 42.4,70.4 42.5,69.1 42.6,67.7 42.8,66.2 42.9,64.8 43.0,63.3 43.2,61.9 43.3,60.4 43.4,58.9 43.6,57.5 43.7,57.7 43.8,59.5 43.9,61.3 44.1,63.1 44.2,64.8 44.3,66.6 44.5,68.4 44.6,70.1 44.7,71.8 44.9,73.5 45.0,75.1 45.1,76.8 45.3,78.2 45.4,76.8 45.5,75.4 45.7,74.0 45.8,72.7 45.9,71.3 46.1,69.9 46.2,68.5 46.3,67.1 46.5,65.6 46.6,64.1 46.7,62.6 46.9,61.1 47.0,59.7 47.1,58.2 47.3,56.7 47.4,58.4 47.5,60.2 47.7,62.0 47.8,63.8 47.9,65.6 48.1,67.4 48.2,69.1 48.3,70.8 48.4,72.6 48.6,74.3 48.7,76.0 48.8,77.7 49.0,77.7 49.1,76.3 49.2,74.9 49.4,73.5 49.5,72.1 49.6,70.7 49.8,69.3 49.9,67.9 50.0,66.4 50.2,64.9 50.3,63.4 50.4,61.9 50.6,60.4 50.7,58.9 50.8,57.5 51.0,57.3 51.1,59.1 51.2,60.9 51.4,62.8 51.5,64.6 51.6,66.4 51.8,68.2 51.9,69.9 52.0,71.6 52.2,73.4 52.3,75.1 52.4,76.8 52.6,78.5 52.7,77.1 52.8,75.7 53.0,74.3 53.1,72.9 53.2,71.5 53.3,70.0 53.5,68.6 53.6,67.2 53.7,65.7 53.9,64.2 54.0,62.7 54.1,61.2 54.3,59.7 54.4,58.2 54.5,56.7 54.7,58.1 54.8,59.9 54.9,61.8 55.1,63.6 55.2,65.4 55.3,67.3 55.5,69.0 55.6,70.8 55.7,72.5 55.9,74.2 56.0,76.0 56.1,77.7 56.3,77.9 56.4,76.5 56.5,75.1 56.7,73.6 56.8,72.2 56.9,70.8 57.1,69.4 57.2,68.0 57.3,66.5 57.5,65.0 57.6,63.4 57.7,61.9 57.8,60.4 58.0,58.9 58.1,57.4 58.2,57.1 58.4,58.9 58.5,60.8 58.6,62.6 58.8,64.5 58.9,66.3 59.0,68.1 59.2,69.9 59.3,71.6 59.4,73.4 59.6,75.1 59.7,76.9 59.8,78.6 60.0,77.3 60.1,75.8 60.2,74.4 60.4,73.0 60.5,71.5 60.6,70.1 60.8,68.7 60.9,67.2 61.0,65.7 61.2,64.2 61.3,62.7 61.4,61.1 61.6,59.6 61.7,58.1 61.8,56.6 62.0,57.9 62.1,59.8 62.2,61.6 62.3,63.5 62.5,65.4 62.6,67.2 62.7,69.0 62.9,70.8 63.0,72.5 63.1,74.3 63.3,76.1 63.4,77.8 63.5,78.0 63.7,76.6 63.8,75.2 63.9,73.7 64.1,72.3 64.2,70.8 64.3,69.4 64.5,68.0 64.6,66.4 64.7,64.9 64.9,63.4 65.0,61.8 65.1,60.3 65.3,58.8 65.4,57.2 65.5,57.0 65.7,58.8 65.8,60.7 65.9,62.6 66.1,64.5 66.2,66.3 66.3,68.2 66.5,70.0 66.6,71.7 66.7,73.5 66.8,75.3 67.0,77.0 67.1,78.8 67.2,77.3 67.4,75.9 67.5,74.4 67.6,73.0 67.8,71.5 67.9,70.1 68.0,68.6 68.2,67.2 68.3,65.6 68.4,64.1 68.6,62.6 68.7,61.0 68.8,59.5 69.0,58.0 69.1,56.4 69.2,58.0 69.4,59.8 69.5,61.7 69.6,63.6 69.8,65.5 69.9,67.3 70.0,69.1 70.2,70.9 70.3,72.6 70.4,74.4 70.6,76.2 70.7,77.9 70.8,77.9 71.0,76.5 71.1,75.1 71.2,73.6 71.4,72.2 71.5,70.7 71.6,69.3 71.7,67.9 71.9,66.3 72.0,64.8 72.1,63.3 72.3,61.8 72.4,60.2 72.5,58.7 72.7,57.2 72.8,57.1 72.9,59.0 73.1,60.9 73.2,62.7 73.3,64.6 73.5,66.5 73.6,68.3 73.7,70.1 73.9,71.8 74.0,73.6 74.1,75.3 74.3,77.1 74.4,78.6 74.5,77.1 74.7,75.7 74.8,74.3 74.9,72.8 75.1,71.4 75.2,70.0 75.3,68.5 75.5,67.0 75.6,65.5 75.7,64.0 75.9,62.5 76.0,60.9 76.1,59.4 76.2,57.9 76.4,56.4 76.5,58.2 76.6,60.1 76.8,61.9 76.9,63.8 77.0,65.6 77.2,67.5 77.3,69.3 77.4,71.0 77.6,72.8 77.7,74.5 77.8,76.3 78.0,78.0 78.1,77.7 78.2,76.3 78.4,74.9 78.5,73.5 78.6,72.0 78.8,70.6 78.9,69.2 79.0,67.7 79.2,66.2 79.3,64.7 79.4,63.2 79.6,61.6 79.7,60.1 79.8,58.6 80.0,57.1 80.1,57.4 80.2,59.3 80.4,61.1 80.5,63.0 80.6,64.8 80.7,66.7 80.9,68.5 81.0,70.2 81.1,72.0 81.3,73.7 81.4,75.4 81.5,77.1 81.7,78.3 81.8,76.8 81.9,75.4 82.1,74.0 82.2,72.6 82.3,71.2 82.5,69.8 82.6,68.3 82.7,66.9 82.9,65.4 83.0,63.9 83.1,62.4 83.3,60.9 83.4,59.4 83.5,57.9 83.7,56.8 83.8,58.6 83.9,60.5 84.1,62.3 84.2,64.1 84.3,65.9 84.5,67.7 84.6,69.4 84.7,71.1 84.9,72.8 85.0,74.5 85.1,76.2 85.2,77.9 85.4,77.3 85.5,75.9 85.6,74.5 85.8,73.1 85.9,71.7 86.0,70.3 86.2,68.9 86.3,67.5 86.4,66.1 86.6,64.6 86.7,63.1 86.8,61.7 87.0,60.2 87.1,58.7 87.2,57.3 87.4,58.0 87.5,59.8 87.6,61.6 87.8,63.4 87.9,65.2 88.0,67.0 88.2,68.7 88.3,70.4 88.4,72.0 88.6,73.7 88.7,75.4 88.8,77.1 89.0,77.7 89.1,76.3 89.2,75.0 89.4,73.6 89.5,72.2 89.6,70.9 89.8,69.5 89.9,68.1 90.0,66.7 90.1,65.3 90.3,63.8 90.4,62.4 90.5,60.9 90.7,59.5 90.8,58.1 90.9,57.4 91.1,59.2 91.2,61.0 91.3,62.7 91.5,64.5 91.6,66.2 91.7,68.0 91.9,69.6 92.0,71.3 92.1,72.9 92.3,74.6 92.4,76.2 92.5,77.9 92.7,76.8 92.8,75.4 92.9,74.0 93.1,72.7 93.2,71.4 93.3,70.0 93.5,68.7 93.6,67.3 93.7,65.9 93.9,64.5 94.0,63.1 94.1,61.7 94.3,60.3 94.4,58.9 94.5,57.5 94.6,58.7 94.8,60.4 94.9,62.1 95.0,63.9 95.2,65.6 95.3,67.3 95.4,68.9 95.6,70.5 95.7,72.1 95.8,73.8 96.0,75.3 96.1,76.9 96.2,77.1 96.4,75.7 96.5,74.4 96.6,73.1 96.8,71.8 96.9,70.5 97.0,69.2 97.2,67.9 97.3,66.5 97.4,65.1 97.6,63.8 97.7,62.4 97.8,61.0 98.0,59.7 98.1,58.3 98.2,58.3 98.4,59.9 98.5,61.6 98.6,63.3 98.8,65.0 98.9,66.6 99.0,68.3 99.1,69.8 99.3,71.4 99.4,73.0 99.5,74.5 99.7,76.1 99.8,77.3 99.9,76.0 100.1,74.7 100.2,73.5 100.3,72.2 100.5,70.9 100.6,69.7 100.7,68.4 100.9,67.1 101.0,65.7 101.1,64.4 101.3,63.1 101.4,61.7 101.5,60.4 101.7,59.1 101.8,57.9 101.9,59.5 102.1,61.2 102.2,62.8 102.3,64.4 102.5,66.0 102.6,67.7 102.7,69.2 102.9,70.7 103.0,72.2 103.1,73.7 103.3,75.3 103.4,76.8 103.5,76.3 103.6,75.0 103.8,73.8 103.9,72.6 104.0,71.3 104.2,70.1 104.3,68.9 104.4,67.6 104.6,66.3 104.7,65.0 104.8,63.7 105.0,62.4 105.1,61.1 105.2,59.8 105.4,58.5 105.5,59.1 105.6,60.7 105.8,62.3 105.9,63.9 106.0,65.5 106.2,67.1 106.3,68.6 106.4,70.1 106.6,71.5 106.7,73.0 106.8,74.5 107.0,75.9 107.1,76.5 107.2,75.3 107.4,74.1 107.5,72.9 107.6,71.7 107.8,70.5 107.9,69.3 108.0,68.1 108.2,66.8 108.3,65.6 108.4,64.3 108.5,63.1 108.7,61.8 108.8,60.6 108.9,59.3 109.1,58.8 109.2,60.4 109.3,61.9 109.5,63.5 109.6,65.0 109.7,66.5 109.9,68.0 110.0,69.4 110.1,70.9 110.3,72.3 110.4,73.7 110.5,75.1 110.7,76.5 110.8,75.5 110.9,74.3 111.1,73.1 111.2,72.0 111.3,70.8 111.5,69.7 111.6,68.5 111.7,67.3 111.9,66.1 112.0,64.9 112.1,63.7 112.3,62.5 112.4,61.3 112.5,60.1 112.7,58.9 112.8,60.1 112.9,61.6 113.0,63.1 113.2,64.5 113.3,66.0 113.4,67.5 113.6,68.9 113.7,70.3 113.8,71.6 114.0,73.0 114.1,74.4 114.2,75.7 114.4,75.6 114.5,74.5 114.6,73.4 114.8,72.2 114.9,71.1 115.0,70.0 115.2,68.9 115.3,67.8 115.4,66.6 115.6,65.4 115.7,64.2 115.8,63.1 116.0,61.9 116.1,60.8 116.2,59.6 116.4,59.8 116.5,61.3 116.6,62.7 116.8,64.1 116.9,65.6 117.0,67.0 117.2,68.4 117.3,69.7 117.4,71.0 117.5,72.3 117.7,73.7 117.8,75.0 117.9,75.7 118.1,74.6 118.2,73.6 118.3,72.5 118.5,71.4 118.6,70.3 118.7,69.2 118.9,68.2 119.0,67.0 119.1,65.9 119.3,64.8 119.4,63.7 119.5,62.5 119.7,61.4 119.8,60.3 119.9,59.6 120.1,61.0 120.2,62.4 120.3,63.8 120.5,65.2 120.6,66.5 120.7,67.9 120.9,69.2 121.0,70.5 121.1,71.7 121.3,73.0 121.4,74.3 121.5,75.6 121.7,74.8 121.8,73.7 121.9,72.7 122.0,71.6 122.2,70.6 122.3,69.6 122.4,68.5 122.6,67.5 122.7,66.4 122.8,65.3 123.0,64.2 123.1,63.1 123.2,62.0 123.4,60.9 123.5,59.8 123.6,60.8 123.8,62.1 123.9,63.5 124.0,64.8 124.2,66.1 124.3,67.4 124.4,68.7 124.6,70.0 124.7,71.2 124.8,72.4 125.0,73.7 125.1,74.9 125.2,74.9 125.4,73.9 125.5,72.9 125.6,71.9 125.8,70.9 125.9,69.8 126.0,68.8 126.2,67.8 126.3,66.8 126.4,65.7 126.6,64.6 126.7,63.6 126.8,62.5 126.9,61.5 127.1,60.4 127.2,60.6 127.3,61.9 127.5,63.2 127.6,64.4 127.7,65.7 127.9,67.0 128.0,68.3 128.1,69.5 128.3,70.7 128.4,71.9 128.5,73.1 128.7,74.3 128.8,75.0 128.9,74.0 129.1,73.0 129.2,72.1 129.3,71.1 129.5,70.1 129.6,69.1 129.7,68.2 129.9,67.1 130.0,66.1 130.1,65.1 130.3,64.1 130.4,63.1 130.5,62.0 130.7,61.0 130.8,60.4 130.9,61.7 131.1,62.9 131.2,64.2 131.3,65.4 131.4,66.6 131.6,67.9 131.7,69.0 131.8,70.2 132.0,71.4 132.1,72.5 132.2,73.7 132.4,74.8 132.5,74.1 132.6,73.2 132.8,72.2 132.9,71.3 133.0,70.3 133.2,69.4 133.3,68.4 133.4,67.5 133.6,66.5 133.7,65.5 133.8,64.5 134.0,63.6 134.1,62.6 134.2,61.6 134.4,60.7 134.5,61.5 134.6,62.7 134.8,63.9 134.9,65.1 135.0,66.3 135.2,67.5 135.3,68.6 135.4,69.8 135.6,70.9 135.7,72.0 135.8,73.0 135.9,74.1 136.1,74.1 136.2,73.2 136.3,72.3 136.5,71.4 136.6,70.5 136.7,69.6 136.9,68.7 137.0,67.8 137.1,66.8 137.3,65.9 137.4,65.0 137.5,64.0 137.7,63.1 137.8,62.2 137.9,61.3 138.1,61.6 138.2,62.7 138.3,63.8 138.5,65.0 138.6,66.1 138.7,67.2 138.9,68.3 139.0,69.4 139.1,70.4 139.3,71.5 139.4,72.5 139.5,73.5 139.7,74.0 139.8,73.1 139.9,72.2 140.1,71.4 140.2,70.5 140.3,69.7 140.4,68.8 140.6,68.0 140.7,67.1 140.8,66.2 141.0,65.4 141.1,64.5 141.2,63.6 141.4,62.7 141.5,61.9 141.6,61.7 141.8,62.7 141.9,63.8 142.0,64.9 142.2,66.0 142.3,67.0 142.4,68.1 142.6,69.1 142.7,70.0 142.8,71.0 143.0,72.0 143.1,73.0 143.2,73.8 143.4,72.9 143.5,72.1 143.6,71.3 143.8,70.5 143.9,69.7 144.0,68.9 144.2,68.2 144.3,67.3 144.4,66.5 144.6,65.7 144.7,64.9 144.8,64.0 145.0,63.2 145.1,62.4 145.2,61.9 145.3,62.9 145.5,63.9 145.6,64.9 145.7,65.9 145.9,66.9 146.0,67.9 146.1,68.8 146.3,69.7 146.4,70.7 146.5,71.6 146.7,72.5 146.8,73.4 146.9,72.7 147.1,72.0 147.2,71.2 147.3,70.4 147.5,69.7 147.6,68.9 147.7,68.2 147.9,67.4 148.0,66.6 148.1,65.8 148.3,65.1 148.4,64.3 148.5,63.5 148.7,62.7 148.8,62.3 148.9,63.3 149.1,64.2 149.2,65.2 149.3,66.2 149.5,67.1 149.6,68.0 149.7,68.9 149.8,69.8 150.0,70.7 150.1,71.6 150.2,72.5 150.4,72.9 150.5,72.2 150.6,71.4 150.8,70.7 150.9,70.0 151.0,69.3 151.2,68.5 151.3,67.8 151.4,67.1 151.6,66.3 151.7,65.6 151.8,64.8 152.0,64.1 152.1,63.3 152.2,62.6 152.4,63.2 152.5,64.2 152.6,65.1 152.8,66.0 152.9,66.9 153.0,67.8 153.2,68.7 153.3,69.5 153.4,70.4 153.6,71.2 153.7,72.1 153.8,72.7 154.0,72.0 154.1,71.3 154.2,70.6 154.3,69.9 154.5,69.2 154.6,68.5 154.7,67.8 154.9,67.1 155.0,66.3 155.1,65.6 155.3,64.9 155.4,64.2 155.5,63.7 155.7,63.3"/>
<polyline fill="none" stroke="#D95319" stroke-width="1.15" stroke-linejoin="round" stroke-linecap="round" points="155.5,63.7 155.7,63.3 155.8,64.7 155.9,66.1 156.1,67.3 156.2,68.1 156.3,68.2 156.5,67.6 156.6,66.6 156.7,65.4 156.9,64.1 157.0,62.9 157.1,63.2 157.3,64.3 157.4,65.4 157.5,66.5 157.7,67.6 157.8,68.8 157.9,69.9 158.1,71.0 158.2,72.2 158.3,71.8 158.5,70.6 158.6,69.5 158.7,68.4 158.9,67.2 159.0,66.1 159.1,65.0 159.2,63.8 159.4,62.7 159.5,63.0 159.6,64.1 159.8,65.2 159.9,66.2 160.0,67.3 160.2,68.4 160.3,69.4 160.4,70.5 160.6,71.6 160.7,71.3 160.8,70.3 161.0,69.3 161.1,68.3 161.2,67.3 161.4,66.3 161.5,65.3 161.6,64.3 161.8,63.3 161.9,63.7 162.0,65.0 162.2,66.2 162.3,67.5 162.4,68.7 162.6,70.0 162.7,71.2 162.8,71.5 163.0,70.5 163.1,69.5 163.2,68.5 163.4,67.5 163.5,66.5 163.6,65.5 163.7,64.5 163.9,63.5 164.0,63.3 164.1,64.4 164.3,65.4 164.4,66.4 164.5,67.5 164.7,68.5 164.8,69.6 164.9,70.6 165.1,71.0 165.2,69.9 165.3,68.9 165.5,67.8 165.6,66.7 165.7,65.6 165.9,64.5 166.0,63.6 166.1,64.7 166.3,65.8 166.4,66.9 166.5,67.9 166.7,69.0 166.8,70.1 166.9,71.2 167.1,70.3 167.2,69.0 167.3,67.7 167.5,66.5 167.6,65.2 167.7,64.0 167.9,62.7 168.0,61.5 168.1,62.2 168.2,63.7 168.4,65.2 168.5,66.7 168.6,68.2 168.8,69.7 168.9,71.2 169.0,71.4 169.2,70.3 169.3,69.2 169.4,68.2 169.6,67.1 169.7,66.0 169.8,65.0 170.0,63.9 170.1,62.9 170.2,63.0 170.4,64.2 170.5,65.5 170.6,66.7 170.8,68.0 170.9,69.2 171.0,70.4 171.2,70.8 171.3,69.0 171.4,67.2 171.6,65.4 171.7,63.6 171.8,61.8 172.0,60.0 172.1,61.4 172.2,62.8 172.4,64.3 172.5,65.8 172.6,67.2 172.7,68.7 172.9,70.2 173.0,71.6 173.1,73.1 173.3,72.0 173.4,70.8 173.5,69.6 173.7,68.4 173.8,67.2 173.9,66.0 174.1,64.8 174.2,63.6 174.3,62.4 174.5,63.4 174.6,64.6 174.7,65.8 174.9,66.9 175.0,68.1 175.1,69.3 175.3,70.4 175.4,70.0 175.5,69.1 175.7,68.1 175.8,67.1 175.9,66.2 176.1,65.2 176.2,64.3 176.3,63.3 176.5,63.7 176.6,64.9 176.7,66.2 176.9,67.4 177.0,68.6 177.1,69.8 177.3,71.1 177.4,72.3 177.5,73.5 177.6,74.7 177.8,76.0 177.9,77.2 178.0,76.1 178.2,74.6 178.3,73.2 178.4,71.8 178.6,70.4 178.7,69.0 178.8,67.6 179.0,67.3 179.1,67.6 179.2,67.9 179.4,68.2 179.5,68.5 179.6,68.8 179.8,68.8 179.9,68.5 180.0,68.2 180.2,67.9 180.3,67.6 180.4,67.3 180.6,67.0 180.7,66.8 180.8,67.0 181.0,67.1 181.1,67.3 181.2,67.5 181.4,67.6 181.5,67.8 181.6,68.0 181.8,67.7 181.9,67.4 182.0,67.1 182.1,66.9 182.3,66.6 182.4,66.3 182.5,66.0 182.7,66.1 182.8,66.2 182.9,66.4 183.1,66.6 183.2,66.7 183.3,66.9 183.5,67.1 183.6,67.0 183.7,66.8 183.9,66.5 184.0,66.3 184.1,66.0 184.3,65.8 184.4,65.5 184.5,65.3 184.7,65.2 184.8,65.0 184.9,64.9 185.1,64.8 185.2,64.6 185.3,64.5 185.5,64.4 185.6,64.2 185.7,64.3 185.9,65.0 186.0,65.7 186.1,66.3 186.3,67.0 186.4,67.6 186.5,68.3 186.6,69.0 186.8,69.6 186.9,70.0 187.0,69.5 187.2,68.9 187.3,68.4 187.4,67.9 187.6,67.3 187.7,66.8 187.8,66.3 188.0,65.7 188.1,65.6 188.2,66.5 188.4,67.5 188.5,68.4 188.6,69.4 188.8,70.3 188.9,71.3 189.0,69.4 189.2,67.5 189.3,65.5 189.4,63.5 189.6,61.5 189.7,61.2 189.8,62.5 190.0,63.7 190.1,65.0 190.2,66.2 190.4,67.5 190.5,68.7 190.6,70.0 190.8,70.4 190.9,69.7 191.0,69.0 191.1,68.2 191.3,67.5 191.4,66.8 191.5,66.0 191.7,65.3 191.8,64.6 191.9,64.6 192.1,65.8 192.2,66.9 192.3,68.1 192.5,69.3 192.6,70.4 192.7,71.6 192.9,72.3 193.0,71.3 193.1,70.3 193.3,69.3 193.4,68.4 193.5,67.4 193.7,66.4 193.8,65.4 193.9,64.4 194.1,63.7 194.2,64.7 194.3,65.7 194.5,66.7 194.6,67.7 194.7,68.7 194.9,69.7 195.0,70.7 195.1,70.0 195.3,69.3 195.4,68.5 195.5,67.8 195.7,67.1 195.8,66.3 195.9,65.6 196.0,64.9 196.2,65.4 196.3,66.1 196.4,66.9 196.6,67.6 196.7,68.4 196.8,69.1 197.0,69.8 197.1,69.8 197.2,69.3 197.4,68.7 197.5,68.2 197.6,67.7 197.8,67.1 197.9,66.6 198.0,66.1 198.2,65.5 198.3,65.6 198.4,66.1 198.6,66.5 198.7,67.0 198.8,67.5 199.0,67.9 199.1,68.4 199.2,68.9 199.4,69.3 199.5,69.3 199.6,68.8 199.8,68.3 199.9,67.9 200.0,67.4 200.2,66.9 200.3,66.5 200.4,66.0 200.5,65.5 200.7,65.7 200.8,66.4 200.9,67.0 201.1,67.7 201.2,68.4 201.3,69.0 201.5,69.4 201.6,68.9 201.7,68.4 201.9,67.9 202.0,67.4 202.1,66.9 202.3,66.4 202.4,66.0 202.5,65.5 202.7,65.2 202.8,65.7 202.9,66.1 203.1,66.5 203.2,67.0 203.3,67.4 203.5,67.9 203.6,68.3 203.7,68.0 203.9,67.8 204.0,67.5 204.1,67.2 204.3,66.9 204.4,66.6 204.5,66.3 204.7,66.5 204.8,66.7 204.9,66.9 205.0,67.2 205.2,67.4 205.3,67.6 205.4,67.9 205.6,67.8 205.7,67.7 205.8,67.5 206.0,67.3 206.1,67.1 206.2,66.9 206.4,66.7 206.5,66.6 206.6,66.8 206.8,66.9 206.9,67.1 207.0,67.3 207.2,67.4 207.3,67.6 207.4,67.7 207.6,67.6 207.7,67.4 207.8,67.3 208.0,67.1 208.1,67.0 208.2,66.8 208.4,66.7 208.5,66.8 208.6,66.9 208.8,67.0 208.9,67.2 209.0,67.3 209.2,67.4 209.3,67.6 209.4,67.5 209.5,67.4 209.7,67.3 209.8,67.2 209.9,67.1 210.1,66.9 210.2,66.8 210.3,66.8 210.5,66.9 210.6,67.0 210.7,67.1 210.9,67.1 211.0,67.2 211.1,67.3 211.3,67.4 211.4,67.4 211.5,67.4 211.7,67.5 211.8,67.5"/>
</g>
<use href="#frame"/>
<text class="tk" x="0.00" y="146.10" text-anchor="middle">40</text>
<text class="tk" x="33.09" y="146.10" text-anchor="middle">45</text>
<text class="tk" x="66.19" y="146.10" text-anchor="middle">50</text>
<text class="tk" x="99.28" y="146.10" text-anchor="middle">55</text>
<text class="tk" x="132.38" y="146.10" text-anchor="middle">60</text>
<text class="tk" x="165.47" y="146.10" text-anchor="middle">65</text>
<text class="tk" x="198.56" y="146.10" text-anchor="middle">70</text>
<text class="tk" x="-2.7" y="2.90" text-anchor="end">0.1</text>
<text class="tk" x="-2.7" y="36.82" text-anchor="end">0.05</text>
<text class="tk" x="-2.7" y="70.75" text-anchor="end">0</text>
<text class="tk" x="-2.7" y="104.67" text-anchor="end">-0.05</text>
<text class="tk" x="-2.7" y="138.60" text-anchor="end">-0.1</text>
<text class="lb" x="105.90" y="154.60" text-anchor="middle">Time (<tspan font-style="italic">μ</tspan>s)</text>
<text class="lb" transform="translate(-21.9,67.85) rotate(-90)" text-anchor="middle">Amplitude</text>
<g transform="translate(98.70,5.50)">
<rect x="0" y="0" width="51.4" height="19.8" fill="#fff" stroke="#333" stroke-width="0.7"/>
<path d="M2.4,5.5 H18.8" stroke="#0072BD" stroke-width="1.1" opacity="0.72" fill="none"/>
<path d="M2.4,14.6 H18.8" stroke="#D95319" stroke-width="1.1" opacity="0.72" fill="none"/>
<text class="lg" x="20.5" y="7.9">Interfered</text>
<text class="lg" x="20.5" y="17.0">Proposed</text>
</g>
<text class="cap" x="89.9" y="168.40" text-anchor="middle">(e)</text>
</g>
</svg></body></html>
